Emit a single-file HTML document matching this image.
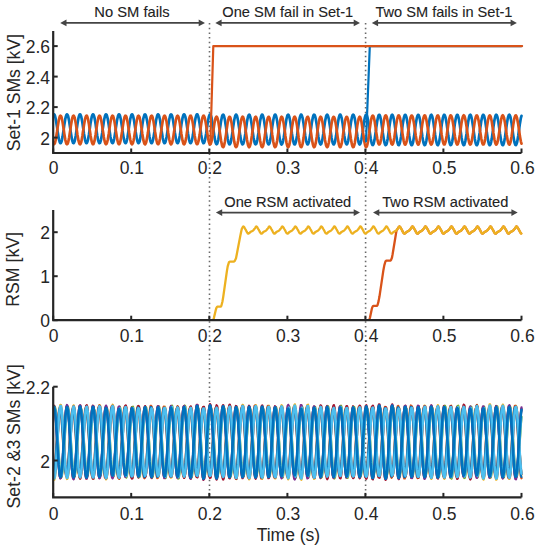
<!DOCTYPE html><html><head><meta charset="utf-8"><style>html,body{margin:0;padding:0;background:#fff;overflow:hidden}svg{display:block}</style></head><body><svg width="540" height="550" viewBox="0 0 540 550">
<rect width="540" height="550" fill="#fff"/>
<defs><clipPath id="ct"><rect x="53" y="28" width="472" height="126"/></clipPath><clipPath id="cm"><rect x="53" y="205" width="472" height="116"/></clipPath><clipPath id="cb"><rect x="53" y="384" width="472" height="114"/></clipPath></defs>
<line x1="209.5" y1="23.1" x2="209.5" y2="498" stroke="#6a6a6a" stroke-width="1.6" stroke-dasharray="1.5 3.16"/>
<line x1="365.6" y1="23.1" x2="365.6" y2="498" stroke="#6a6a6a" stroke-width="1.6" stroke-dasharray="1.5 3.16"/>
<g fill="none" stroke-linejoin="round" stroke-linecap="round" clip-path="url(#ct)">
<path d="M53.2 115.3L53.8 114.4L54.3 114.4L54.9 115.5L55.4 117.5L56 120.3L56.5 123.7L57.1 127.4L57.6 131.3L58.2 134.9L58.7 138.1L59.3 140.7L59.8 142.4L60.4 143.2L60.9 143L61.5 141.7L62 139.6L62.6 136.6L63.1 133.2L63.7 129.4L64.2 125.6L64.8 122L65.3 118.9L65.9 116.4L66.4 114.9L67 114.3L67.5 114.7L68.1 116.1L68.6 118.4L69.2 121.5L69.7 125L70.3 128.8L70.8 132.6L71.4 136.1L71.9 139.2L72.5 141.4L73 142.8L73.6 143.2L74.1 142.6L74.7 141L75.2 138.6L75.8 135.4L76.3 131.8L76.9 128L77.4 124.2L78 120.8L78.5 117.9L79.1 115.7L79.6 114.5L80.2 114.3L80.7 115.1L81.3 116.9L81.8 119.4L82.4 122.7L82.9 126.4L83.5 130.2L84 133.9L84.6 137.3L85.1 140.1L85.7 142.1L86.2 143.1L86.8 143.1L87.3 142.2L87.9 140.2L88.4 137.5L89 134.2L89.5 130.5L90.1 126.6L90.6 122.9L91.2 119.7L91.7 117L92.3 115.2L92.8 114.3L93.4 114.5L93.9 115.6L94.5 117.7L95 120.6L95.6 124L96.1 127.7L96.7 131.6L97.2 135.2L97.8 138.4L98.3 140.9L98.9 142.5L99.4 143.2L100 142.9L100.5 141.6L101.1 139.3L101.6 136.4L102.2 132.9L102.7 129.1L103.3 125.3L103.8 121.7L104.4 118.6L104.9 116.3L105.5 114.8L106 114.3L106.6 114.8L107.1 116.3L107.7 118.7L108.2 121.7L108.8 125.3L109.3 129.1L109.9 132.9L110.4 136.4L111 139.4L111.5 141.6L112.1 142.9L112.6 143.2L113.2 142.5L113.7 140.9L114.3 138.3L114.8 135.2L115.4 131.5L115.9 127.7L116.5 123.9L117 120.5L117.6 117.7L118.1 115.6L118.7 114.5L119.2 114.3L119.8 115.2L120.3 117L120.9 119.7L121.4 123L122 126.7L122.5 130.5L123.1 134.2L123.6 137.6L124.2 140.3L124.7 142.2L125.3 143.1L125.8 143.1L126.4 142L126.9 140L127.5 137.3L128 133.9L128.6 130.1L129.1 126.3L129.7 122.6L130.2 119.4L130.8 116.8L131.3 115.1L131.9 114.3L132.4 114.5L133 115.8L133.5 117.9L134.1 120.8L134.6 124.3L135.2 128.1L135.7 131.9L136.3 135.5L136.8 138.6L137.4 141.1L137.9 142.6L138.5 143.2L139 142.8L139.6 141.4L140.1 139.1L140.7 136.1L141.2 132.6L141.8 128.8L142.3 125L142.9 121.4L143.4 118.4L144 116.1L144.5 114.7L145.1 114.3L145.6 114.9L146.2 116.4L146.7 118.9L147.3 122L147.9 125.6L148.4 129.4L149 133.2L149.5 136.7L150.1 139.6L150.6 141.7L151.2 143L151.7 143.2L152.3 142.4L152.8 140.7L153.4 138.1L153.9 134.9L154.5 131.2L155 127.4L155.6 123.6L156.1 120.3L156.7 117.5L157.2 115.5L157.8 114.4L158.3 114.4L158.9 115.3L159.4 117.2L160 119.9L160.5 123.3L161.1 127L161.6 130.8L162.2 134.5L162.7 137.8L163.3 140.5L163.8 142.3L164.4 143.2L164.9 143L165.5 141.9L166 139.8L166.6 137L167.1 133.6L167.7 129.8L168.2 126L168.8 122.4L169.3 119.2L169.9 116.7L170.4 115L171 114.3L171.5 114.6L172.1 115.9L172.6 118.1L173.2 121.1L173.7 124.6L174.3 128.4L174.8 132.2L175.4 135.8L175.9 138.9L176.5 141.2L177 142.7L177.6 143.2L178.1 142.7L178.7 141.3L179.2 138.9L179.8 135.8L180.3 132.3L180.9 128.4L181.4 124.6L182 121.1L182.5 118.2L183.1 115.9L183.6 114.6L184.2 114.3L184.7 115L185.3 116.6L185.8 119.1L186.4 122.3L186.9 125.9L187.5 129.8L188 133.5L188.6 137L189.1 139.8L189.7 141.9L190.2 143L190.8 143.2L191.3 142.3L191.9 140.5L192.4 137.9L193 134.6L193.5 130.9L194.1 127.1L194.6 123.3L195.2 120L195.7 117.3L196.3 115.4L196.8 114.4L197.4 114.4L197.9 115.5L198.5 117.4L199 120.2L199.6 123.6L200.1 127.3L200.7 131.1L201.2 134.8L201.8 138.1L202.3 140.6L202.9 142.4L203.4 143.2L204 143L204.5 141.8L205.1 139.6L205.6 136.7L206.2 133.3L206.7 129.5L207.3 125.7L207.8 122.1L208.4 118.9L208.9 116.5L209.5 114.9L210 114.3L210.6 114.7L211.1 116.1L211.7 118.4L212.2 121.5L212.8 125.1L213.3 129L213.9 132.9L214.4 136.6L215 139.8L215.5 142.2L216.1 143.8L216.6 144.3L217.2 143.8L217.7 142.2L218.3 139.7L218.8 136.5L219.4 132.8L219.9 128.9L220.5 125L221 121.4L221.6 118.4L222.1 116.1L222.7 114.9L223.2 114.6L223.8 115.4L224.3 117.2L224.9 119.8L225.4 123.2L226 126.9L226.5 130.9L227.1 134.8L227.6 138.2L228.2 141.1L228.7 143.2L229.3 144.3L229.8 144.4L230.4 143.4L230.9 141.4L231.5 138.6L232 135.2L232.6 131.4L233.1 127.4L233.7 123.6L234.2 120.2L234.8 117.5L235.3 115.6L235.9 114.6L236.4 114.8L237 115.9L237.5 118L238.1 121L238.6 124.5L239.2 128.4L239.7 132.3L240.3 136.1L240.9 139.4L241.4 142L242 143.7L242.5 144.4L243.1 144.1L243.6 142.8L244.2 140.5L244.7 137.5L245.3 133.9L245.8 130L246.4 126L246.9 122.3L247.5 119.1L248 116.7L248.6 115.1L249.1 114.6L249.7 115.1L250.2 116.6L250.8 119L251.3 122.2L251.9 125.9L252.4 129.8L253 133.7L253.5 137.3L254.1 140.4L254.6 142.7L255.2 144.1L255.7 144.4L256.3 143.8L256.8 142.1L257.4 139.5L257.9 136.2L258.5 132.5L259 128.5L259.6 124.6L260.1 121.1L260.7 118.2L261.2 116L261.8 114.8L262.3 114.6L262.9 115.5L263.4 117.4L264 120.1L264.5 123.5L265.1 127.3L265.6 131.2L266.2 135.1L266.7 138.5L267.3 141.3L267.8 143.3L268.4 144.3L268.9 144.3L269.5 143.3L270 141.2L270.6 138.4L271.1 134.9L271.7 131.1L272.2 127.1L272.8 123.3L273.3 120L273.9 117.3L274.4 115.5L275 114.6L275.5 114.8L276.1 116.1L276.6 118.3L277.2 121.2L277.7 124.8L278.3 128.7L278.8 132.6L279.4 136.4L279.9 139.6L280.5 142.2L281 143.8L281.6 144.5L282.1 144.1L282.7 142.6L283.2 140.3L283.8 137.2L284.3 133.6L284.9 129.6L285.4 125.7L286 122L286.5 118.9L287.1 116.5L287.6 115L288.2 114.6L288.7 115.2L289.3 116.8L289.8 119.3L290.4 122.5L290.9 126.2L291.5 130.1L292 134L292.6 137.6L293.1 140.6L293.7 142.9L294.2 144.2L294.8 144.4L295.3 143.7L295.9 141.9L296.4 139.2L297 135.9L297.5 132.2L298.1 128.2L298.6 124.3L299.2 120.8L299.7 117.9L300.3 115.9L300.8 114.7L301.4 114.7L301.9 115.6L302.5 117.6L303 120.3L303.6 123.8L304.1 127.6L304.7 131.5L305.2 135.4L305.8 138.8L306.3 141.5L306.9 143.4L307.4 144.4L308 144.3L308.5 143.1L309.1 141L309.6 138.1L310.2 134.6L310.7 130.7L311.3 126.8L311.8 123L312.4 119.7L312.9 117.1L313.5 115.3L314 114.6L314.6 114.9L315.1 116.2L315.7 118.5L316.2 121.5L316.8 125.1L317.3 129L317.9 133L318.4 136.7L319 139.9L319.5 142.3L320.1 143.9L320.6 144.5L321.2 144L321.7 142.5L322.3 140.1L322.8 136.9L323.4 133.2L323.9 129.3L324.5 125.4L325 121.8L325.6 118.7L326.1 116.4L326.7 115L327.2 114.6L327.8 115.3L328.3 116.9L328.9 119.5L329.4 122.8L330 126.5L330.5 130.5L331.1 134.3L331.6 137.9L332.2 140.8L332.7 143L333.3 144.2L333.8 144.4L334.4 143.5L335 141.7L335.5 139L336.1 135.6L336.6 131.8L337.2 127.9L337.7 124L338.3 120.6L338.8 117.7L339.4 115.7L339.9 114.7L340.5 114.7L341 115.8L341.6 117.8L342.1 120.6L342.7 124.1L343.2 127.9L343.8 131.9L344.3 135.7L344.9 139L345.4 141.7L346 143.6L346.5 144.4L347.1 144.2L347.6 143L348.2 140.8L348.7 137.8L349.3 134.3L349.8 130.4L350.4 126.5L350.9 122.7L351.5 119.5L352 116.9L352.6 115.2L353.1 114.6L353.7 115L354.2 116.4L354.8 118.7L355.3 121.8L355.9 125.4L356.4 129.3L357 133.3L357.5 136.9L358.1 140.1L358.6 142.5L359.2 144L359.7 144.5L360.3 143.9L360.8 142.3L361.4 139.8L361.9 136.6L362.5 132.9L363 129L363.6 125.1L364.1 121.5L364.7 118.4L365.2 116.2L365.8 114.9L366.3 114.6L366.9 115.4L367.4 117.1L368 119.8L368.5 123.1L369.1 127L369.6 131L370.2 134.9L370.7 138.5L371.3 141.5L371.8 143.7L372.4 144.9L372.9 145.1L373.5 144.1L374 142.2L374.6 139.4L375.1 135.9L375.7 132L376.2 128L376.8 124.1L377.3 120.6L377.9 117.8L378.4 115.8L379 114.8L379.5 114.9L380.1 116.1L380.6 118.2L381.2 121.2L381.7 124.7L382.3 128.7L382.8 132.7L383.4 136.6L383.9 139.9L384.5 142.6L385 144.4L385.6 145.2L386.1 144.9L386.7 143.6L387.2 141.3L387.8 138.2L388.3 134.5L388.9 130.5L389.4 126.5L390 122.7L390.5 119.5L391.1 116.9L391.6 115.3L392.2 114.7L392.7 115.2L393.3 116.7L393.8 119.2L394.4 122.4L394.9 126.1L395.5 130.1L396 134.1L396.6 137.8L397.1 141L397.7 143.4L398.2 144.8L398.8 145.2L399.3 144.5L399.9 142.8L400.4 140.2L401 136.9L401.5 133.1L402.1 129.1L402.6 125.1L403.2 121.5L403.7 118.5L404.3 116.2L404.8 115L405.4 114.8L405.9 115.6L406.5 117.5L407 120.3L407.6 123.7L408.1 127.6L408.7 131.6L409.2 135.5L409.8 139.1L410.3 142L410.9 144L411.4 145.1L412 145.1L412.5 144L413.1 142L413.6 139.1L414.2 135.6L414.7 131.7L415.3 127.6L415.8 123.7L416.4 120.3L416.9 117.6L417.5 115.7L418 114.8L418.6 115L419.1 116.2L419.7 118.4L420.2 121.4L420.8 125L421.3 129L421.9 133L422.4 136.9L423 140.2L423.5 142.8L424.1 144.5L424.6 145.2L425.2 144.8L425.7 143.4L426.3 141L426.8 137.9L427.4 134.2L428 130.2L428.5 126.2L429.1 122.4L429.6 119.2L430.2 116.8L430.7 115.2L431.3 114.7L431.8 115.3L432.4 116.9L432.9 119.4L433.5 122.7L434 126.5L434.6 130.5L435.1 134.5L435.7 138.1L436.2 141.2L436.8 143.5L437.3 144.9L437.9 145.2L438.4 144.4L439 142.7L439.5 140L440.1 136.6L440.6 132.8L441.2 128.7L441.7 124.8L442.3 121.2L442.8 118.2L443.4 116.1L443.9 114.9L444.5 114.8L445 115.8L445.6 117.7L446.1 120.5L446.7 124L447.2 127.9L447.8 131.9L448.3 135.8L448.9 139.3L449.4 142.2L450 144.1L450.5 145.1L451.1 145L451.6 143.9L452.2 141.8L452.7 138.8L453.3 135.3L453.8 131.3L454.4 127.3L454.9 123.4L455.5 120.1L456 117.4L456.6 115.6L457.1 114.8L457.7 115L458.2 116.4L458.8 118.6L459.3 121.7L459.9 125.4L460.4 129.4L461 133.4L461.5 137.2L462.1 140.4L462.6 143L463.2 144.6L463.7 145.2L464.3 144.8L464.8 143.2L465.4 140.8L465.9 137.6L466.5 133.9L467 129.9L467.6 125.9L468.1 122.2L468.7 119L469.2 116.6L469.8 115.1L470.3 114.7L470.9 115.4L471.4 117.1L472 119.7L472.5 123L473.1 126.8L473.6 130.8L474.2 134.8L474.7 138.4L475.3 141.5L475.8 143.7L476.4 145L476.9 145.2L477.5 144.3L478 142.5L478.6 139.7L479.1 136.3L479.7 132.4L480.2 128.4L480.8 124.5L481.3 120.9L481.9 118L482.4 116L483 114.9L483.5 114.8L484.1 115.9L484.6 117.9L485.2 120.8L485.7 124.3L486.3 128.2L486.8 132.3L487.4 136.1L487.9 139.6L488.5 142.4L489 144.3L489.6 145.2L490.1 145L490.7 143.8L491.2 141.6L491.8 138.6L492.3 135L492.9 131L493.4 127L494 123.1L494.5 119.8L495.1 117.2L495.6 115.4L496.2 114.7L496.7 115.1L497.3 116.5L497.8 118.9L498.4 122L498.9 125.7L499.5 129.7L500 133.7L500.6 137.5L501.1 140.7L501.7 143.2L502.2 144.7L502.8 145.2L503.3 144.7L503.9 143.1L504.4 140.6L505 137.3L505.5 133.5L506.1 129.5L506.6 125.5L507.2 121.9L507.7 118.8L508.3 116.4L508.8 115.1L509.4 114.7L509.9 115.5L510.5 117.3L511 119.9L511.6 123.3L512.1 127.1L512.7 131.2L513.2 135.1L513.8 138.7L514.3 141.7L514.9 143.8L515.4 145L516 145.1L516.5 144.2L517.1 142.3L517.6 139.5L518.2 136L518.7 132.1L519.3 128.1L519.8 124.2L520.4 120.7L520.9 117.8L521.5 115.8" stroke="#0072BD" stroke-width="2.7"/>
<path d="M53.2 143.3L53.8 144.2L54.3 144.2L54.9 143.1L55.4 141.1L56 138.4L56.5 135L57.1 131.3L57.6 127.5L58.2 123.9L58.7 120.7L59.3 118.1L59.8 116.4L60.4 115.7L60.9 115.9L61.5 117.1L62 119.3L62.6 122.2L63.1 125.6L63.7 129.3L64.2 133.1L64.8 136.7L65.3 139.8L65.9 142.2L66.4 143.7L67 144.3L67.5 143.9L68.1 142.5L68.6 140.2L69.2 137.2L69.7 133.7L70.3 129.9L70.8 126.2L71.4 122.7L71.9 119.7L72.5 117.4L73 116L73.6 115.6L74.1 116.3L74.7 117.8L75.2 120.2L75.8 123.4L76.3 126.9L76.9 130.7L77.4 134.4L78 137.9L78.5 140.7L79.1 142.8L79.6 144.1L80.2 144.3L80.7 143.5L81.3 141.7L81.8 139.2L82.4 136L82.9 132.3L83.5 128.6L84 124.9L84.6 121.5L85.1 118.8L85.7 116.8L86.2 115.8L86.8 115.7L87.3 116.7L87.9 118.6L88.4 121.3L89 124.6L89.5 128.3L90.1 132.1L90.6 135.7L91.2 139L91.7 141.6L92.3 143.4L92.8 144.2L93.4 144.1L93.9 143L94.5 140.9L95 138.1L95.6 134.7L96.1 131L96.7 127.2L97.2 123.6L97.8 120.4L98.3 118L98.9 116.3L99.4 115.7L100 116L100.5 117.3L101.1 119.5L101.6 122.4L102.2 125.9L102.7 129.7L103.3 133.4L103.8 137L104.4 140L104.9 142.3L105.5 143.8L106 144.3L106.6 143.8L107.1 142.3L107.7 140L108.2 136.9L108.8 133.4L109.3 129.6L109.9 125.9L110.4 122.4L111 119.5L111.5 117.3L112.1 116L112.6 115.7L113.2 116.3L113.7 118L114.3 120.5L114.8 123.6L115.4 127.2L115.9 131L116.5 134.7L117 138.1L117.6 140.9L118.1 143L118.7 144.1L119.2 144.2L119.8 143.4L120.3 141.6L120.9 138.9L121.4 135.7L122 132L122.5 128.2L123.1 124.6L123.6 121.3L124.2 118.6L124.7 116.7L125.3 115.7L125.8 115.8L126.4 116.8L126.9 118.8L127.5 121.6L128 124.9L128.6 128.6L129.1 132.4L129.7 136L130.2 139.2L130.8 141.8L131.3 143.5L131.9 144.3L132.4 144L133 142.8L133.5 140.7L134.1 137.8L134.6 134.4L135.2 130.7L135.7 126.9L136.3 123.3L136.8 120.2L137.4 117.8L137.9 116.2L138.5 115.6L139 116.1L139.6 117.4L140.1 119.7L140.7 122.7L141.2 126.2L141.8 130L142.3 133.7L142.9 137.2L143.4 140.2L144 142.5L144.5 143.9L145.1 144.3L145.6 143.7L146.2 142.2L146.7 139.7L147.3 136.6L147.9 133.1L148.4 129.3L149 125.6L149.5 122.1L150.1 119.3L150.6 117.1L151.2 115.9L151.7 115.7L152.3 116.4L152.8 118.2L153.4 120.7L153.9 123.9L154.5 127.5L155 131.3L155.6 135L156.1 138.4L156.7 141.1L157.2 143.1L157.8 144.2L158.3 144.2L158.9 143.3L159.4 141.4L160 138.7L160.5 135.4L161.1 131.7L161.6 127.9L162.2 124.3L162.7 121L163.3 118.4L163.8 116.6L164.4 115.7L164.9 115.8L165.5 117L166 119L166.6 121.8L167.1 125.2L167.7 128.9L168.2 132.7L168.8 136.3L169.3 139.5L169.9 142L170.4 143.6L171 144.3L171.5 144L172.1 142.7L172.6 140.5L173.2 137.6L173.7 134.1L174.3 130.3L174.8 126.6L175.4 123L175.9 120L176.5 117.6L177 116.2L177.6 115.6L178.1 116.1L178.7 117.6L179.2 119.9L179.8 123L180.3 126.5L180.9 130.3L181.4 134L182 137.5L182.5 140.4L183.1 142.7L183.6 144L184.2 144.3L184.7 143.6L185.3 142L185.8 139.5L186.4 136.4L186.9 132.8L187.5 129L188 125.3L188.6 121.9L189.1 119L189.7 117L190.2 115.9L190.8 115.7L191.3 116.6L191.9 118.4L192.4 121L193 124.2L193.5 127.9L194.1 131.7L194.6 135.3L195.2 138.6L195.7 141.3L196.3 143.2L196.8 144.2L197.4 144.2L197.9 143.1L198.5 141.2L199 138.4L199.6 135.1L200.1 131.4L200.7 127.6L201.2 124L201.8 120.8L202.3 118.2L202.9 116.5L203.4 115.7L204 115.9L204.5 117.1L205.1 119.2L205.6 122.1L206.2 125.5L206.7 129.2L207.3 133L207.8 136.6L208.4 139.7L208.9 142.1L209.5 143.7L210 144.4L210.6 144.1L211.1 142.8L211.7 140.7L212.2 137.9L212.8 134.5L213.3 130.8L213.9 127.1L214.4 123.6L215 120.6L215.5 118.4L216.1 117L216.6 116.6L217.2 117.3L217.7 118.9L218.3 121.5L218.8 124.8L219.4 128.6L219.9 132.6L220.5 136.6L221 140.3L221.6 143.3L222.1 145.6L222.7 146.9L223.2 147.2L223.8 146.4L224.3 144.5L224.9 141.8L225.4 138.4L226 134.6L226.5 130.6L227.1 126.6L227.6 123.1L228.2 120.1L228.7 118L229.3 116.9L229.8 116.8L230.4 117.8L230.9 119.8L231.5 122.6L232 126.1L232.6 130L233.1 134.1L233.7 138L234.2 141.4L234.8 144.2L235.3 146.2L235.9 147.1L236.4 147L237 145.8L237.5 143.7L238.1 140.7L238.6 137.1L239.2 133.1L239.7 129.1L240.3 125.3L240.9 121.9L241.4 119.2L242 117.5L242.5 116.7L243.1 117L243.6 118.4L244.2 120.7L244.7 123.8L245.3 127.5L245.8 131.5L246.4 135.5L246.9 139.3L247.5 142.5L248 145.1L248.6 146.6L249.1 147.2L249.7 146.7L250.2 145.1L250.8 142.7L251.3 139.4L251.9 135.7L252.4 131.7L253 127.7L253.5 124L254.1 120.9L254.6 118.5L255.2 117.1L255.7 116.7L256.3 117.4L256.8 119.1L257.4 121.8L257.9 125.1L258.5 128.9L259 133L259.6 136.9L260.1 140.5L260.7 143.5L261.2 145.7L261.8 147L262.3 147.1L262.9 146.3L263.4 144.4L264 141.6L264.5 138.1L265.1 134.3L265.6 130.2L266.2 126.3L266.7 122.8L267.3 119.9L267.8 117.9L268.4 116.8L268.9 116.9L269.5 117.9L270 120L270.6 122.9L271.1 126.5L271.7 130.4L272.2 134.4L272.8 138.3L273.3 141.7L273.9 144.4L274.4 146.3L275 147.2L275.5 146.9L276.1 145.7L276.6 143.4L277.2 140.4L277.7 136.8L278.3 132.8L278.8 128.8L279.4 125L279.9 121.7L280.5 119.1L281 117.4L281.6 116.7L282.1 117.1L282.7 118.6L283.2 121L283.8 124.1L284.3 127.8L284.9 131.8L285.4 135.9L286 139.6L286.5 142.8L287.1 145.2L287.6 146.7L288.2 147.2L288.7 146.6L289.3 145L289.8 142.4L290.4 139.2L290.9 135.4L291.5 131.3L292 127.4L292.6 123.7L293.1 120.6L293.7 118.3L294.2 117L294.8 116.7L295.3 117.5L295.9 119.3L296.4 122L297 125.4L297.5 129.3L298.1 133.3L298.6 137.2L299.2 140.8L299.7 143.8L300.3 145.9L300.8 147L301.4 147.1L301.9 146.1L302.5 144.2L303 141.3L303.6 137.8L304.1 133.9L304.7 129.9L305.2 126L305.8 122.5L306.3 119.7L306.9 117.7L307.4 116.8L308 116.9L308.5 118.1L309.1 120.2L309.6 123.2L310.2 126.8L310.7 130.7L311.3 134.8L311.8 138.6L312.4 142L312.9 144.6L313.5 146.4L314 147.2L314.6 146.9L315.1 145.5L315.7 143.2L316.2 140.1L316.8 136.5L317.3 132.5L317.9 128.4L318.4 124.7L319 121.4L319.5 118.9L320.1 117.3L320.6 116.7L321.2 117.2L321.7 118.7L322.3 121.2L322.8 124.4L323.4 128.2L323.9 132.2L324.5 136.2L325 139.9L325.6 143L326.1 145.4L326.7 146.8L327.2 147.2L327.8 146.5L328.3 144.8L328.9 142.2L329.4 138.9L330 135L330.5 131L331.1 127L331.6 123.4L332.2 120.4L332.7 118.2L333.3 117L333.8 116.8L334.4 117.6L335 119.5L335.5 122.3L336.1 125.7L336.6 129.6L337.2 133.6L337.7 137.6L338.3 141.1L338.8 144L339.4 146L339.9 147.1L340.5 147.1L341 146L341.6 143.9L342.1 141.1L342.7 137.5L343.2 133.6L343.8 129.6L344.3 125.7L344.9 122.2L345.4 119.5L346 117.6L346.5 116.8L347.1 117L347.6 118.2L348.2 120.4L348.7 123.5L349.3 127.1L349.8 131.1L350.4 135.1L350.9 138.9L351.5 142.2L352 144.8L352.6 146.5L353.1 147.2L353.7 146.8L354.2 145.4L354.8 143L355.3 139.8L355.9 136.1L356.4 132.1L357 128.1L357.5 124.4L358.1 121.2L358.6 118.7L359.2 117.2L359.7 116.7L360.3 117.3L360.8 118.9L361.4 121.4L361.9 124.7L362.5 128.5L363 132.5L363.6 136.5L364.1 140.2L364.7 143.3L365.2 145.5L365.8 146.9L366.3 147.1L366.9 146.2L367.4 144.3L368 141.5L368.5 138L369.1 134L369.6 129.8L370.2 125.8L370.7 122.2L371.3 119.1L371.8 117L372.4 115.7L372.9 115.6L373.5 116.4L374 118.3L374.6 120.9L375.1 124.3L375.7 128L376.2 131.9L376.8 135.7L377.3 139L377.9 141.7L378.4 143.6L379 144.5L379.5 144.4L380.1 143.3L380.6 141.3L381.2 138.4L381.7 135L382.3 131.2L382.8 127.3L383.4 123.7L383.9 120.4L384.5 117.8L385 116.1L385.6 115.4L386.1 115.6L386.7 116.9L387.2 119.1L387.8 122.1L388.3 125.6L388.9 129.4L389.4 133.3L390 136.9L390.5 140.1L391.1 142.5L391.6 144L392.2 144.6L392.7 144.2L393.3 142.7L393.8 140.3L394.4 137.3L394.9 133.7L395.5 129.8L396 126L396.6 122.4L397.1 119.4L397.7 117.1L398.2 115.7L398.8 115.3L399.3 116L399.9 117.6L400.4 120.1L401 123.3L401.5 127L402.1 130.8L402.6 134.6L403.2 138.1L403.7 141L404.3 143.2L404.8 144.4L405.4 144.6L405.9 143.7L406.5 141.9L407 139.3L407.6 136L408.1 132.3L408.7 128.4L409.2 124.6L409.8 121.3L410.3 118.5L410.9 116.5L411.4 115.5L412 115.5L412.5 116.5L413.1 118.4L413.6 121.2L414.2 124.6L414.7 128.4L415.3 132.2L415.8 136L416.4 139.3L416.9 141.9L417.5 143.7L418 144.6L418.6 144.4L419.1 143.2L419.7 141.1L420.2 138.2L420.8 134.7L421.3 130.9L421.9 127L422.4 123.4L423 120.2L423.5 117.7L424.1 116L424.6 115.3L425.2 115.7L425.7 117.1L426.3 119.3L426.8 122.4L427.4 125.9L428 129.8L428.5 133.6L429.1 137.2L429.6 140.3L430.2 142.7L430.7 144.1L431.3 144.6L431.8 144.1L432.4 142.5L432.9 140.1L433.5 137L434 133.4L434.6 129.5L435.1 125.7L435.7 122.1L436.2 119.2L436.8 117L437.3 115.7L437.9 115.4L438.4 116.1L439 117.8L439.5 120.4L440.1 123.6L440.6 127.3L441.2 131.2L441.7 134.9L442.3 138.4L442.8 141.2L443.4 143.3L443.9 144.4L444.5 144.5L445 143.6L445.6 141.7L446.1 139L446.7 135.7L447.2 132L447.8 128.1L448.3 124.3L448.9 121L449.4 118.3L450 116.4L450.5 115.4L451.1 115.5L451.6 116.6L452.2 118.6L452.7 121.5L453.3 124.9L453.8 128.7L454.4 132.6L454.9 136.2L455.5 139.5L456 142.1L456.6 143.8L457.1 144.6L457.7 144.3L458.2 143L458.8 140.9L459.3 137.9L459.9 134.4L460.4 130.6L461 126.7L461.5 123.1L462.1 119.9L462.6 117.5L463.2 115.9L463.7 115.3L464.3 115.8L464.8 117.2L465.4 119.6L465.9 122.6L466.5 126.2L467 130.1L467.6 133.9L468.1 137.5L468.7 140.5L469.2 142.8L469.8 144.2L470.3 144.6L470.9 144L471.4 142.4L472 139.9L472.5 136.7L473.1 133L473.6 129.2L474.2 125.4L474.7 121.9L475.3 119L475.8 116.8L476.4 115.6L476.9 115.4L477.5 116.2L478 118L478.6 120.6L479.1 123.9L479.7 127.6L480.2 131.5L480.8 135.3L481.3 138.7L481.9 141.4L482.4 143.4L483 144.5L483.5 144.5L484.1 143.5L484.6 141.6L485.2 138.8L485.7 135.4L486.3 131.7L486.8 127.8L487.4 124L487.9 120.7L488.5 118.1L489 116.3L489.6 115.4L490.1 115.6L490.7 116.7L491.2 118.8L491.8 121.7L492.3 125.2L492.9 129L493.4 132.9L494 136.5L494.5 139.7L495.1 142.3L495.6 143.9L496.2 144.6L496.7 144.3L497.3 142.9L497.8 140.6L498.4 137.6L498.9 134.1L499.5 130.2L500 126.4L500.6 122.8L501.1 119.7L501.7 117.3L502.2 115.8L502.8 115.3L503.3 115.9L503.9 117.4L504.4 119.8L505 122.9L505.5 126.5L506.1 130.4L506.6 134.2L507.2 137.8L507.7 140.7L508.3 143L508.8 144.3L509.4 144.6L509.9 143.9L510.5 142.2L511 139.6L511.6 136.4L512.1 132.7L512.7 128.8L513.2 125.1L513.8 121.6L514.3 118.7L514.9 116.7L515.4 115.5L516 115.4L516.5 116.3L517.1 118.2L517.6 120.9L518.2 124.2L518.7 127.9L519.3 131.8L519.8 135.6L520.4 138.9L520.9 141.6L521.5 143.6" stroke="#D95319" stroke-width="2.7"/>
<path d="M366 141.5L369.8 46.1L521.5 46.1" stroke="#0072BD" stroke-width="2.2"/>
<path d="M210.3 144.3L213.3 46.1L522.1 46.1" stroke="#D95319" stroke-width="2.2"/>
</g>
<g fill="none" stroke-linejoin="round" stroke-linecap="round" clip-path="url(#cm)">
<path d="M369.3 320.6L369.3 320.4L369.6 319L370 317.5L371.8 309L372.2 307.5L373 306.1L373.7 305.9L376.8 305.9L377.5 305.2L378.6 301.1L379.5 296.3L383.4 270.2L384.3 265.4L385.5 261.3L386.3 260.6L390.2 260.6L391 260.2L392 257.5L392.6 254.3L395.4 237.2L395.9 234.1L396.4 231.2L396.6 230.6L397.3 229.4L397.4 229.2L397.5 229L397.5 229L398.1 228.3L398.7 227.1L399.3 226.4L399.9 226.7L400.5 227.5L401.1 228.5L401.7 229.5L402.3 230.7L402.9 231.9L403.5 232.9L404.1 233.5L404.7 233.5L405.3 233.1L405.9 232.6L406.5 232L407.1 231.7L407.7 231.4L408.3 231L408.9 230.7L409.5 230.2L410.1 229.5L410.7 228.8L411.3 228L411.9 226.8L412.5 226.4L413.1 226.9L413.7 227.8L414.3 228.9L414.9 229.9L415.5 231L416.1 232.2L416.7 233.2L417.3 233.6L417.9 233.5L418.5 233L419.1 232.4L419.7 231.9L420.3 231.6L420.9 231.3L421.5 230.9L422.1 230.5L422.7 229.9L423.3 229.2L423.9 228.5L424.5 227.6L425.1 226.5L425.7 226.5L426.3 227.2L426.9 228.1L427.5 229.2L428.1 230.2L428.7 231.4L429.3 232.6L429.9 233.4L430.5 233.6L431.1 233.3L431.7 232.8L432.3 232.2L432.9 231.8L433.5 231.5L434.1 231.2L434.7 230.8L435.3 230.4L435.9 229.7L436.5 229L437.1 228.3L437.7 227.2L438.3 226.4L438.9 226.7L439.5 227.5L440.1 228.5L440.7 229.5L441.3 230.6L441.9 231.8L442.5 232.9L443.1 233.5L443.7 233.6L444.3 233.2L444.9 232.6L445.5 232.1L446.1 231.7L446.7 231.4L447.3 231.1L447.9 230.7L448.5 230.2L449.1 229.5L449.7 228.8L450.3 228L450.9 226.8L451.5 226.4L452.1 226.9L452.7 227.8L453.3 228.8L453.9 229.8L454.5 231L455.1 232.2L455.7 233.1L456.3 233.6L456.9 233.5L457.5 233L458.1 232.4L458.7 231.9L459.3 231.6L459.9 231.3L460.5 230.9L461.1 230.6L461.7 230L462.3 229.3L462.9 228.6L463.5 227.6L464.1 226.6L464.7 226.5L465.3 227.1L465.9 228.1L466.5 229.1L467.1 230.2L467.7 231.4L468.3 232.5L468.9 233.3L469.5 233.6L470.1 233.3L470.7 232.8L471.3 232.2L471.9 231.8L472.5 231.5L473.1 231.2L473.7 230.8L474.3 230.4L474.9 229.7L475.5 229L476.1 228.4L476.7 227.2L477.3 226.4L477.9 226.7L478.5 227.4L479.1 228.4L479.7 229.4L480.3 230.6L480.9 231.8L481.5 232.8L482.1 233.5L482.7 233.6L483.3 233.2L483.9 232.6L484.5 232.1L485.1 231.7L485.7 231.4L486.3 231.1L486.9 230.7L487.5 230.2L488.1 229.5L488.7 228.8L489.3 228.1L489.9 226.9L490.5 226.4L491.1 226.9L491.7 227.7L492.3 228.8L492.9 229.8L493.5 230.9L494.1 232.1L494.7 233.1L495.3 233.6L495.9 233.5L496.5 233L497.1 232.4L497.7 232L498.3 231.6L498.9 231.3L499.5 231L500.1 230.6L500.7 230L501.3 229.3L501.9 228.6L502.5 227.7L503.1 226.6L503.7 226.5L504.3 227.1L504.9 228.1L505.5 229.1L506.1 230.1L506.7 231.3L507.3 232.5L507.9 233.3L508.5 233.6L509.1 233.4L509.7 232.8L510.3 232.2L510.9 231.8L511.5 231.5L512.1 231.2L512.7 230.8L513.3 230.4L513.9 229.8L514.5 229.1L515.1 228.4L515.7 227.3L516.3 226.4L516.9 226.6L517.5 227.4L518.1 228.4L518.7 229.4L519.3 230.5L519.9 231.7L520.5 232.8L521.1 233.5" stroke="#D95319" stroke-width="2.3"/>
<path d="M213.3 320.6L213.3 320.4L213.6 319.1L214 317.6L215.9 309.6L216.3 308.1L217.1 306.8L217.7 306.6L220.7 306.6L221.3 306L222.4 301.8L223.2 297.1L226.9 271.1L227.7 266.4L229 262.2L229.8 261.6L233.9 261.6L234.7 261.1L236 258.2L236.7 254.7L240.3 235.9L241 232.4L241.7 229.2L242 228.5L242.9 226.9L243.1 226.7L243.3 226.4L243.3 226.4L243.8 226.7L244.3 227.3L244.8 228.2L245.3 229.1L245.8 229.9L246.3 230.9L246.8 231.9L247.3 232.8L247.8 233.4L248.3 233.6L248.8 233.4L249.3 233L249.8 232.6L250.3 232.1L250.8 231.8L251.3 231.5L251.8 231.3L252.3 231L252.8 230.7L253.3 230.3L253.8 229.7L254.3 229.1L254.8 228.5L255.3 227.8L255.8 226.8L256.3 226.4L256.8 226.7L257.3 227.3L257.8 228.2L258.3 229.1L258.8 229.9L259.3 230.8L259.8 231.9L260.3 232.7L260.8 233.4L261.3 233.6L261.8 233.5L262.3 233.1L262.8 232.6L263.3 232.1L263.8 231.8L264.3 231.5L264.8 231.3L265.3 231L265.8 230.7L266.3 230.3L266.8 229.7L267.3 229.1L267.8 228.5L268.3 227.8L268.8 226.8L269.3 226.4L269.8 226.7L270.3 227.3L270.8 228.1L271.3 229L271.8 229.8L272.3 230.8L272.8 231.8L273.3 232.7L273.8 233.4L274.3 233.6L274.8 233.5L275.3 233.1L275.8 232.6L276.3 232.1L276.8 231.8L277.3 231.5L277.8 231.3L278.3 231L278.8 230.7L279.3 230.3L279.8 229.7L280.3 229.1L280.8 228.5L281.3 227.8L281.8 226.8L282.3 226.4L282.8 226.7L283.3 227.3L283.8 228.1L284.3 229L284.8 229.8L285.3 230.8L285.8 231.8L286.3 232.7L286.8 233.3L287.3 233.6L287.8 233.5L288.3 233.1L288.8 232.6L289.3 232.1L289.8 231.8L290.3 231.6L290.8 231.3L291.3 231L291.8 230.7L292.3 230.3L292.8 229.7L293.3 229.1L293.8 228.6L294.3 227.8L294.8 226.8L295.3 226.4L295.8 226.7L296.3 227.3L296.8 228.1L297.3 229L297.8 229.8L298.3 230.8L298.8 231.8L299.3 232.7L299.8 233.3L300.3 233.6L300.8 233.5L301.3 233.1L301.8 232.6L302.3 232.1L302.8 231.8L303.3 231.6L303.8 231.3L304.3 231L304.8 230.7L305.3 230.3L305.8 229.7L306.3 229.1L306.8 228.6L307.3 227.8L307.8 226.9L308.3 226.4L308.8 226.7L309.3 227.3L309.8 228.1L310.3 229L310.8 229.8L311.3 230.8L311.8 231.8L312.3 232.7L312.8 233.3L313.3 233.6L313.8 233.5L314.3 233.1L314.8 232.6L315.3 232.1L315.8 231.8L316.3 231.6L316.8 231.3L317.3 231L317.8 230.7L318.3 230.3L318.8 229.7L319.3 229.2L319.8 228.6L320.3 227.8L320.8 226.9L321.3 226.4L321.8 226.7L322.3 227.3L322.8 228.1L323.3 229L323.8 229.8L324.3 230.8L324.8 231.8L325.3 232.7L325.8 233.3L326.3 233.6L326.8 233.5L327.3 233.1L327.8 232.6L328.3 232.1L328.8 231.8L329.3 231.6L329.8 231.3L330.3 231L330.8 230.7L331.3 230.3L331.8 229.8L332.3 229.2L332.8 228.6L333.3 227.9L333.8 226.9L334.3 226.4L334.8 226.6L335.3 227.2L335.8 228.1L336.3 229L336.8 229.8L337.3 230.7L337.8 231.8L338.3 232.7L338.8 233.3L339.3 233.6L339.8 233.5L340.3 233.1L340.8 232.6L341.3 232.1L341.8 231.8L342.3 231.6L342.8 231.3L343.3 231L343.8 230.7L344.3 230.3L344.8 229.8L345.3 229.2L345.8 228.6L346.3 227.9L346.8 226.9L347.3 226.4L347.8 226.6L348.3 227.2L348.8 228.1L349.3 229L349.8 229.8L350.3 230.7L350.8 231.7L351.3 232.6L351.8 233.3L352.3 233.6L352.8 233.5L353.3 233.1L353.8 232.6L354.3 232.2L354.8 231.8L355.3 231.6L355.8 231.3L356.3 231L356.8 230.7L357.3 230.3L357.8 229.8L358.3 229.2L358.8 228.6L359.3 227.9L359.8 226.9L360.3 226.4L360.8 226.6L361.3 227.2L361.8 228L362.3 229L362.8 229.7L363.3 230.7L363.8 231.7L364.3 232.6L364.8 233.3L365.3 233.6L365.8 233.5L366.3 233.1L366.8 232.6L367.3 232.2L367.8 231.8L368.3 231.6L368.8 231.3L369.3 231L369.8 230.7L370.3 230.3L370.8 229.8L371.3 229.2L371.8 228.6L372.3 227.9L372.8 226.9L373.3 226.4L373.8 226.6L374.3 227.2L374.8 228L375.3 228.9L375.8 229.7L376.3 230.7L376.8 231.7L377.3 232.6L377.8 233.3L378.3 233.6L378.8 233.5L379.3 233.1L379.8 232.6L380.3 232.2L380.8 231.9L381.3 231.6L381.8 231.3L382.3 231L382.8 230.7L383.3 230.3L383.8 229.8L384.3 229.2L384.8 228.6L385.3 227.9L385.8 226.9L386.3 226.4L386.8 226.6L387.3 227.2L387.8 228L388.3 228.9L388.8 229.7L389.3 230.7L389.8 231.7L390.3 232.6L390.8 233.3L391.3 233.6L391.8 233.5L392.3 233.1L392.8 232.6L393.3 232.2L393.8 231.9L394.3 231.6L394.8 231.3L395.3 231L395.8 230.7L396.3 230.4L396.8 229.8L397.3 229.2L397.8 228.6L398.3 227.9L398.8 227L399.3 226.4L399.8 226.6L400.3 227.2L400.8 228L401.3 228.9L401.8 229.7L402.3 230.7L402.8 231.7L403.3 232.6L403.8 233.3L404.3 233.6L404.8 233.5L405.3 233.1L405.8 232.7L406.3 232.2L406.8 231.9L407.3 231.6L407.8 231.3L408.3 231L408.8 230.7L409.3 230.4L409.8 229.8L410.3 229.2L410.8 228.6L411.3 228L411.8 227L412.3 226.4L412.8 226.6L413.3 227.2L413.8 228L414.3 228.9L414.8 229.7L415.3 230.6L415.8 231.7L416.3 232.6L416.8 233.3L417.3 233.6L417.8 233.5L418.3 233.1L418.8 232.7L419.3 232.2L419.8 231.9L420.3 231.6L420.8 231.3L421.3 231.1L421.8 230.7L422.3 230.4L422.8 229.8L423.3 229.2L423.8 228.6L424.3 228L424.8 227L425.3 226.4L425.8 226.6L426.3 227.2L426.8 228L427.3 228.9L427.8 229.7L428.3 230.6L428.8 231.6L429.3 232.6L429.8 233.3L430.3 233.6L430.8 233.5L431.3 233.2L431.8 232.7L432.3 232.2L432.8 231.9L433.3 231.6L433.8 231.3L434.3 231.1L434.8 230.8L435.3 230.4L435.8 229.8L436.3 229.2L436.8 228.7L437.3 228L437.8 227L438.3 226.4L438.8 226.6L439.3 227.2L439.8 228L440.3 228.9L440.8 229.7L441.3 230.6L441.8 231.6L442.3 232.6L442.8 233.2L443.3 233.6L443.8 233.5L444.3 233.2L444.8 232.7L445.3 232.2L445.8 231.9L446.3 231.6L446.8 231.3L447.3 231.1L447.8 230.8L448.3 230.4L448.8 229.8L449.3 229.3L449.8 228.7L450.3 228L450.8 227L451.3 226.4L451.8 226.6L452.3 227.1L452.8 227.9L453.3 228.8L453.8 229.6L454.3 230.6L454.8 231.6L455.3 232.5L455.8 233.2L456.3 233.6L456.8 233.5L457.3 233.2L457.8 232.7L458.3 232.2L458.8 231.9L459.3 231.6L459.8 231.3L460.3 231.1L460.8 230.8L461.3 230.4L461.8 229.9L462.3 229.3L462.8 228.7L463.3 228L463.8 227L464.3 226.4L464.8 226.6L465.3 227.1L465.8 227.9L466.3 228.8L466.8 229.6L467.3 230.6L467.8 231.6L468.3 232.5L468.8 233.2L469.3 233.6L469.8 233.5L470.3 233.2L470.8 232.7L471.3 232.2L471.8 231.9L472.3 231.6L472.8 231.3L473.3 231.1L473.8 230.8L474.3 230.4L474.8 229.9L475.3 229.3L475.8 228.7L476.3 228L476.8 227L477.3 226.4L477.8 226.6L478.3 227.1L478.8 227.9L479.3 228.8L479.8 229.6L480.3 230.6L480.8 231.6L481.3 232.5L481.8 233.2L482.3 233.6L482.8 233.5L483.3 233.2L483.8 232.7L484.3 232.2L484.8 231.9L485.3 231.6L485.8 231.4L486.3 231.1L486.8 230.8L487.3 230.4L487.8 229.9L488.3 229.3L488.8 228.7L489.3 228.1L489.8 227.1L490.3 226.4L490.8 226.6L491.3 227.1L491.8 227.9L492.3 228.8L492.8 229.6L493.3 230.5L493.8 231.6L494.3 232.5L494.8 233.2L495.3 233.6L495.8 233.5L496.3 233.2L496.8 232.7L497.3 232.2L497.8 231.9L498.3 231.6L498.8 231.4L499.3 231.1L499.8 230.8L500.3 230.4L500.8 229.9L501.3 229.3L501.8 228.7L502.3 228.1L502.8 227.1L503.3 226.4L503.8 226.6L504.3 227.1L504.8 227.9L505.3 228.8L505.8 229.6L506.3 230.5L506.8 231.5L507.3 232.5L507.8 233.2L508.3 233.6L508.8 233.5L509.3 233.2L509.8 232.7L510.3 232.2L510.8 231.9L511.3 231.6L511.8 231.4L512.3 231.1L512.8 230.8L513.3 230.4L513.8 229.9L514.3 229.3L514.8 228.7L515.3 228.1L515.8 227.1L516.3 226.4L516.8 226.6L517.3 227.1L517.8 227.9L518.3 228.8L518.8 229.6L519.3 230.5L519.8 231.5L520.3 232.5L520.8 233.2L521.3 233.6L521.5 233.6" stroke="#EDB120" stroke-width="2.3"/>
</g>
<g fill="none" stroke-linejoin="round" stroke-linecap="round" clip-path="url(#cb)">
<path d="M53.2 408.1L53.8 405.7L54.3 405.9L54.9 408.7L55.4 413.7L56 420.8L56.5 429.3L57.1 438.7L57.6 448.3L58.2 457.5L58.7 465.6L59.3 472L59.8 476.3L60.4 478.2L60.9 477.6L61.5 474.5L62 469.1L62.6 461.8L63.1 453.1L63.7 443.7L64.2 434.1L64.8 425.1L65.3 417.3L65.9 411.2L66.4 407.3L67 405.8L67.5 406.8L68.1 410.4L68.6 416.1L69.2 423.7L69.7 432.6L70.3 442.2L70.8 451.7L71.4 460.6L71.9 468.2L72.5 474L73 477.5L73.6 478.6L74.1 477L74.7 473L75.2 466.9L75.8 459L76.3 449.8L76.9 440.2L77.4 430.6L78 421.9L78.5 414.5L79.1 409.1L79.6 406L80.2 405.4L80.7 407.4L81.3 411.8L81.8 418.4L82.4 426.6L82.9 436L83.5 445.7L84 455.2L84.6 463.8L85.1 470.8L85.7 475.8L86.2 478.5L86.8 478.6L87.3 476.1L87.9 471.2L88.4 464.3L89 455.8L89.5 446.4L90.1 436.7L90.6 427.3L91.2 419.1L91.7 412.4L92.3 407.8L92.8 405.7L93.4 406.1L93.9 409L94.5 414.3L95 421.5L95.6 430.1L96.1 439.5L96.7 449.1L97.2 458.1L97.8 466L98.3 472.2L98.9 476.3L99.4 478L100 477.1L100.5 473.7L101.1 468.2L101.6 460.8L102.2 452.2L102.7 442.8L103.3 433.5L103.8 424.8L104.4 417.3L104.9 411.5L105.5 408L106 406.8L106.6 408.1L107.1 411.8L107.7 417.6L108.2 425.1L108.8 433.7L109.3 442.9L109.9 452.1L110.4 460.5L111 467.5L111.5 472.8L112.1 475.9L112.6 476.7L113.2 475L113.7 471L114.3 464.9L114.8 457.3L115.4 448.6L115.9 439.5L116.5 430.6L117 422.5L117.6 415.7L118.1 410.8L118.7 408.1L119.2 407.8L119.8 409.9L120.3 414.2L120.9 420.5L121.4 428.3L122 437.1L122.5 446.2L123.1 455.1L123.6 463L124.2 469.5L124.7 474L125.3 476.3L125.8 476.3L126.4 473.8L126.9 469L127.5 462.4L128 454.3L128.6 445.4L129.1 436.2L129.7 427.4L130.2 419.6L130.8 413.3L131.3 409.1L131.9 407.2L132.4 407.7L133 410.6L133.5 415.8L134.1 422.8L134.6 431.2L135.2 440.3L135.7 449.7L136.3 458.5L136.8 466.2L137.4 472.2L137.9 476.1L138.5 477.6L139 476.6L139.6 473.2L140.1 467.6L140.7 460.2L141.2 451.5L141.8 442.1L142.3 432.7L142.9 423.9L143.4 416.4L144 410.7L144.5 407.2L145.1 406.1L145.6 407.6L146.2 411.4L146.7 417.5L147.3 425.3L147.9 434.2L148.4 443.8L149 453.2L149.5 461.8L150.1 469.1L150.6 474.4L151.2 477.5L151.7 478.1L152.3 476.1L152.8 471.8L153.4 465.4L153.9 457.3L154.5 448.2L155 438.6L155.6 429.3L156.1 420.9L156.7 414L157.2 409L157.8 406.4L158.3 406.3L158.9 408.7L159.4 413.5L160 420.2L160.5 428.5L161.1 437.7L161.6 447.2L162.2 456.3L162.7 464.4L163.3 471L163.8 475.5L164.4 477.6L164.9 477.3L165.5 474.5L166 469.4L166.6 462.4L167.1 453.9L167.7 444.7L168.2 435.3L168.8 426.3L169.3 418.5L169.9 412.3L170.4 408.2L171 406.5L171.5 407.3L172.1 410.5L172.6 416L173.2 423.2L173.7 431.8L174.3 441.1L174.8 450.5L175.4 459.3L175.9 466.9L176.5 472.7L177 476.4L177.6 477.7L178.1 476.5L178.7 472.9L179.2 467.1L179.8 459.5L180.3 450.7L180.9 441.3L181.4 431.9L182 423.2L182.5 415.8L183.1 410.2L183.6 406.9L184.2 406L184.7 407.6L185.3 411.7L185.8 417.9L186.4 425.9L186.9 435L187.5 444.6L188 454.1L188.6 462.7L189.1 470L189.7 475.3L190.2 478.2L190.8 478.7L191.3 476.5L191.9 472L192.4 465.3L193 456.9L193.5 447.5L194.1 437.7L194.6 428.1L195.2 419.5L195.7 412.5L196.3 407.5L196.8 404.9L197.4 405L197.9 407.6L198.5 412.7L199 419.9L199.6 428.6L200.1 438.3L200.7 448.3L201.2 457.8L201.8 466.3L202.3 473.1L202.9 477.7L203.4 479.8L204 479.2L204.5 476.1L205.1 470.5L205.6 462.9L206.2 453.9L206.7 444L207.3 434L207.8 424.5L208.4 416.3L208.9 409.9L209.5 405.8L210 404.2L210.6 405.2L211.1 408.9L211.7 414.9L212.2 422.7L212.8 432L213.3 441.9L213.9 451.8L214.4 461L215 468.9L215.5 474.9L216.1 478.5L216.6 479.6L217.2 478.1L217.7 474L218.3 467.7L218.8 459.6L219.4 450.3L219.9 440.4L220.5 430.7L221 421.8L221.6 414.3L222.1 408.8L222.7 405.7L223.2 405.1L223.8 407.1L224.3 411.5L224.9 418.1L225.4 426.4L226 435.7L226.5 445.4L227.1 454.9L227.6 463.5L228.2 470.5L228.7 475.5L229.3 478.2L229.8 478.3L230.4 475.9L230.9 471.1L231.5 464.3L232 455.9L232.6 446.6L233.1 437L233.7 427.7L234.2 419.5L234.8 412.8L235.3 408.2L235.9 406L236.4 406.3L237 409.1L237.5 414.3L238.1 421.3L238.6 429.9L239.2 439.2L239.7 448.8L240.3 457.9L240.9 465.9L241.4 472.2L242 476.4L242.5 478.2L243.1 477.4L243.6 474.2L244.2 468.7L244.7 461.3L245.3 452.6L245.8 443.1L246.4 433.6L246.9 424.6L247.5 416.8L248 410.8L248.6 407L249.1 405.7L249.7 406.9L250.2 410.5L250.8 416.4L251.3 424.1L251.9 433.1L252.4 442.7L253 452.3L253.5 461.2L254.1 468.7L254.6 474.4L255.2 477.8L255.7 478.7L256.3 477L256.8 472.8L257.4 466.5L257.9 458.5L258.5 449.3L259 439.6L259.6 430.1L260.1 421.4L260.7 414.2L261.2 408.9L261.8 405.9L262.3 405.5L262.9 407.7L263.4 412.2L264 418.9L264.5 427.2L265.1 436.5L265.6 446.2L266.2 455.6L266.7 464L267.3 470.9L267.8 475.7L268.4 478.2L268.9 478.1L269.5 475.5L270 470.5L270.6 463.6L271.1 455.1L271.7 445.8L272.2 436.2L272.8 427.1L273.3 419L273.9 412.6L274.4 408.2L275 406.3L275.5 406.8L276.1 409.8L276.6 415.1L277.2 422.3L277.7 430.8L278.3 440.1L278.8 449.5L279.4 458.3L279.9 466L280.5 471.9L281 475.8L281.6 477.3L282.1 476.3L282.7 472.9L283.2 467.3L283.8 460L284.3 451.5L284.9 442.3L285.4 433.2L286 424.6L286.5 417.4L287.1 411.8L287.6 408.4L288.2 407.4L288.7 408.8L289.3 412.5L289.8 418.3L290.4 425.8L290.9 434.3L291.5 443.4L292 452.4L292.6 460.7L293.1 467.6L293.7 472.8L294.2 475.7L294.8 476.4L295.3 474.6L295.9 470.5L296.4 464.4L297 456.8L297.5 448.1L298.1 439L298.6 430.1L299.2 422L299.7 415.4L300.3 410.6L300.8 407.9L301.4 407.7L301.9 409.9L302.5 414.4L303 420.8L303.6 428.7L304.1 437.6L304.7 446.8L305.2 455.7L305.8 463.6L306.3 470.1L306.9 474.6L307.4 476.8L308 476.6L308.5 474L309.1 469.1L309.6 462.3L310.2 454L310.7 444.9L311.3 435.6L311.8 426.7L312.4 418.8L312.9 412.6L313.5 408.4L314 406.6L314.6 407.2L315.1 410.3L315.7 415.7L316.2 422.9L316.8 431.5L317.3 440.9L317.9 450.3L318.4 459.2L319 466.9L319.5 472.9L320.1 476.7L320.6 478.1L321.2 476.9L321.7 473.3L322.3 467.5L322.8 459.9L323.4 451L323.9 441.5L324.5 432L325 423.3L325.6 415.8L326.1 410.2L326.7 406.8L327.2 405.9L327.8 407.5L328.3 411.6L328.9 417.8L329.4 425.7L330 434.7L330.5 444.3L331.1 453.7L331.6 462.3L332.2 469.4L332.7 474.7L333.3 477.6L333.8 478L334.4 475.9L335 471.4L335.5 464.9L336.1 456.8L336.6 447.6L337.2 438.1L337.7 428.8L338.3 420.5L338.8 413.7L339.4 409L339.9 406.5L340.5 406.5L341 409.1L341.6 413.9L342.1 420.7L342.7 429L343.2 438.2L343.8 447.7L344.3 456.8L344.9 464.8L345.4 471.2L346 475.6L346.5 477.6L347.1 477.1L347.6 474.2L348.2 469L348.7 461.9L349.3 453.4L349.8 444.2L350.4 434.7L350.9 425.8L351.5 418L352 411.9L352.6 407.9L353.1 406.3L353.7 407.2L354.2 410.6L354.8 416.1L355.3 423.5L355.9 432.2L356.4 441.6L357 451.1L357.5 459.9L358.1 467.5L358.6 473.4L359.2 477L359.7 478.2L360.3 476.9L360.8 473.1L361.4 467.1L361.9 459.3L362.5 450.3L363 440.7L363.6 431.2L364.1 422.4L364.7 414.9L365.2 409.4L365.8 406.1L366.3 405.3L366.9 407.1L367.4 411.4L368 417.9L368.5 426L369.1 435.4L369.6 445.2L370.2 454.8L370.7 463.6L371.3 470.8L371.8 476.1L372.4 479L372.9 479.3L373.5 477L374 472.2L374.6 465.2L375.1 456.7L375.7 447.1L376.2 437.1L376.8 427.4L377.3 418.8L377.9 411.7L378.4 406.8L379 404.4L379.5 404.6L380.1 407.5L380.6 412.8L381.2 420.1L381.7 429L382.3 438.8L382.8 448.9L383.4 458.4L383.9 466.8L384.5 473.5L385 478L385.6 479.9L386.1 479.2L386.7 475.8L387.2 470.1L387.8 462.4L388.3 453.3L388.9 443.5L389.4 433.5L390 424.1L390.5 416.1L391.1 409.8L391.6 405.9L392.2 404.4L392.7 405.7L393.3 409.5L393.8 415.5L394.4 423.4L394.9 432.6L395.5 442.5L396 452.2L396.6 461.3L397.1 468.9L397.7 474.7L398.2 478.2L398.8 479.1L399.3 477.4L399.9 473.2L400.4 466.9L401 458.8L401.5 449.6L402.1 439.9L402.6 430.3L403.2 421.6L403.7 414.4L404.3 409.1L404.8 406.1L405.4 405.7L405.9 407.8L406.5 412.3L407 418.9L407.6 427.1L408.1 436.3L408.7 445.9L409.2 455.2L409.8 463.6L410.3 470.5L410.9 475.4L411.4 477.9L412 477.9L412.5 475.4L413.1 470.5L413.6 463.7L414.2 455.3L414.7 446L415.3 436.5L415.8 427.3L416.4 419.2L416.9 412.6L417.5 408.2L418 406.1L418.6 406.5L419.1 409.4L419.7 414.7L420.2 421.8L420.8 430.4L421.3 439.8L421.9 449.3L422.4 458.4L423 466.3L423.5 472.5L424.1 476.6L424.6 478.3L425.2 477.4L425.7 474.1L426.3 468.4L426.8 461L427.4 452.1L428 442.6L428.5 433L429.1 424L429.6 416.3L430.2 410.4L430.7 406.7L431.3 405.5L431.8 406.9L432.4 410.7L432.9 416.7L433.5 424.6L434 433.6L434.6 443.3L435.1 452.8L435.7 461.6L436.2 469.1L436.8 474.6L437.3 477.9L437.9 478.6L438.4 476.7L439 472.5L439.5 466.1L440.1 458L440.6 448.8L441.2 439.1L441.7 429.6L442.3 421.1L442.8 414L443.4 408.9L443.9 406.1L444.5 405.9L445 408.2L445.6 412.9L446.1 419.6L446.7 427.9L447.2 437.1L447.8 446.7L448.3 455.9L448.9 464.2L449.4 470.8L450 475.4L450.5 477.7L451.1 477.5L451.6 474.7L452.2 469.7L452.7 462.8L453.3 454.4L453.8 445.2L454.4 435.8L454.9 426.9L455.5 419L456 412.8L456.6 408.7L457.1 406.9L457.7 407.6L458.2 410.7L458.8 416L459.3 423.1L459.9 431.5L460.4 440.6L461 449.8L461.5 458.4L462.1 465.9L462.6 471.7L463.2 475.3L463.7 476.7L464.3 475.6L464.8 472.1L465.4 466.6L465.9 459.3L466.5 450.9L467 441.8L467.6 432.8L468.1 424.4L468.7 417.3L469.2 411.9L469.8 408.6L470.3 407.7L470.9 409.2L471.4 413L472 418.8L472.5 426.3L473.1 434.9L473.6 443.9L474.2 452.9L474.7 461.1L475.3 468L475.8 473L476.4 475.9L476.9 476.5L477.5 474.6L478 470.4L478.6 464.2L479.1 456.4L479.7 447.7L480.2 438.5L480.8 429.5L481.3 421.4L481.9 414.7L482.4 410L483 407.4L483.5 407.3L484.1 409.7L484.6 414.3L485.2 420.9L485.7 429L486.3 438L486.8 447.4L487.4 456.4L487.9 464.4L488.5 470.8L489 475.3L489.6 477.4L490.1 477.1L490.7 474.3L491.2 469.2L491.8 462.2L492.3 453.7L492.9 444.4L493.4 435L494 426L494.5 418.1L495.1 411.8L495.6 407.7L496.2 406L496.7 406.9L497.3 410.2L497.8 415.7L498.4 423.1L498.9 431.9L499.5 441.4L500 450.9L500.6 459.8L501.1 467.5L501.7 473.4L502.2 477.1L502.8 478.3L503.3 477L503.9 473.2L504.4 467.3L505 459.5L505.5 450.6L506.1 441L506.6 431.5L507.2 422.8L507.7 415.4L508.3 409.9L508.8 406.6L509.4 405.9L509.9 407.7L510.5 411.9L511 418.2L511.6 426.2L512.1 435.3L512.7 444.8L513.2 454.2L513.8 462.7L514.3 469.7L514.9 474.8L515.4 477.6L516 477.8L516.5 475.6L517.1 471L517.6 464.4L518.2 456.2L518.7 447.1L519.3 437.6L519.8 428.4L520.4 420.2L520.9 413.5L521.5 408.8" stroke="#A2142F" stroke-width="2.3"/>
<path d="M53.2 476.3L53.8 479.3L54.3 479.6L54.9 477.3L55.4 472.5L56 465.6L56.5 457L57.1 447.4L57.6 437.4L58.2 427.8L58.7 419.2L59.3 412.2L59.8 407.3L60.4 404.8L60.9 405L61.5 407.8L62 412.9L62.6 420.2L63.1 428.9L63.7 438.5L64.2 448.4L64.8 457.8L65.3 466.1L65.9 472.7L66.4 477.1L67 479L67.5 478.4L68.1 475.2L68.6 469.7L69.2 462.2L69.7 453.4L70.3 443.8L70.8 434L71.4 424.9L71.9 417L72.5 410.8L73 406.8L73.6 405.4L74.1 406.5L74.7 410.1L75.2 415.9L75.8 423.5L76.3 432.5L76.9 442.1L77.4 451.7L78 460.6L78.5 468.2L79.1 474L79.6 477.5L80.2 478.5L80.7 477L81.3 473L81.8 466.9L82.4 459L82.9 449.9L83.5 440.2L84 430.7L84.6 422L85.1 414.7L85.7 409.3L86.2 406.2L86.8 405.6L87.3 407.6L87.9 412L88.4 418.5L89 426.6L89.5 435.9L90.1 445.6L90.6 455.1L91.2 463.6L91.7 470.7L92.3 475.8L92.8 478.4L93.4 478.6L93.9 476.2L94.5 471.3L95 464.4L95.6 456L96.1 446.5L96.7 436.7L97.2 427.3L97.8 418.9L98.3 412.1L98.9 407.4L99.4 405.1L100 405.5L100.5 408.4L101.1 413.7L101.6 420.9L102.2 429.7L102.7 439.4L103.3 449.2L103.8 458.6L104.4 466.8L104.9 473.2L105.5 477.5L106 479.3L106.6 478.5L107.1 475.1L107.7 469.4L108.2 461.7L108.8 452.7L109.3 443L109.9 433.1L110.4 423.9L111 416L111.5 409.9L112.1 406.1L112.6 404.8L113.2 406.1L113.7 410L114.3 416.1L114.8 424L115.4 433.1L115.9 442.9L116.5 452.6L117 461.6L117.6 469.1L118.1 474.7L118.7 478.1L119.2 478.9L119.8 477.1L120.3 472.8L120.9 466.4L121.4 458.3L122 449.1L122.5 439.4L123.1 430L123.6 421.4L124.2 414.2L124.7 409.1L125.3 406.3L125.8 406L126.4 408.2L126.9 412.8L127.5 419.4L128 427.6L128.6 436.8L129.1 446.3L129.7 455.5L130.2 463.7L130.8 470.4L131.3 475.1L131.9 477.4L132.4 477.2L133 474.6L133.5 469.7L134.1 462.9L134.6 454.6L135.2 445.5L135.7 436.2L136.3 427.3L136.8 419.4L137.4 413.2L137.9 409L138.5 407.1L139 407.7L139.6 410.7L140.1 415.8L140.7 422.9L141.2 431.2L141.8 440.3L142.3 449.5L142.9 458.2L143.4 465.7L144 471.6L144.5 475.4L145.1 476.8L145.6 475.8L146.2 472.5L146.7 467L147.3 459.7L147.9 451.3L148.4 442.1L149 433L149.5 424.5L150.1 417.2L150.6 411.7L151.2 408.3L151.7 407.3L152.3 408.7L152.8 412.4L153.4 418.2L153.9 425.8L154.5 434.4L155 443.6L155.6 452.8L156.1 461.1L156.7 468.2L157.2 473.4L157.8 476.4L158.3 477.1L158.9 475.2L159.4 471L160 464.8L160.5 457L161.1 448.1L161.6 438.7L162.2 429.6L162.7 421.4L163.3 414.5L163.8 409.6L164.4 407L164.9 406.8L165.5 409.1L166 413.8L166.6 420.4L167.1 428.5L167.7 437.6L168.2 447.1L168.8 456.2L169.3 464.3L169.9 470.9L170.4 475.4L171 477.6L171.5 477.3L172.1 474.5L172.6 469.5L173.2 462.5L173.7 454L174.3 444.8L174.8 435.3L175.4 426.3L175.9 418.4L176.5 412.2L177 408L177.6 406.3L178.1 407.1L178.7 410.3L179.2 415.8L179.8 423.1L180.3 431.7L180.9 441L181.4 450.5L182 459.3L182.5 466.9L183.1 472.7L183.6 476.4L184.2 477.7L184.7 476.4L185.3 472.8L185.8 467L186.4 459.4L186.9 450.7L187.5 441.3L188 432.1L188.6 423.5L189.1 416.3L189.7 410.8L190.2 407.6L190.8 406.8L191.3 408.5L191.9 412.5L192.4 418.6L193 426.3L193.5 435.1L194.1 444.4L194.6 453.5L195.2 461.8L195.7 468.7L196.3 473.7L196.8 476.5L197.4 476.8L197.9 474.8L198.5 470.4L199 464L199.6 456.1L200.1 447.3L200.7 438L201.2 429.1L201.8 421L202.3 414.5L202.9 409.9L203.4 407.5L204 407.6L204.5 410.1L205.1 414.8L205.6 421.4L206.2 429.5L206.7 438.5L207.3 447.7L207.8 456.6L208.4 464.4L208.9 470.7L209.5 474.9L210 476.9L210.6 476.4L211.1 473.5L211.7 468.4L212.2 461.4L212.8 453.1L213.3 443.9L213.9 434.7L214.4 425.9L215 418.2L215.5 412.2L216.1 408.2L216.6 406.7L217.2 407.6L217.7 410.9L218.3 416.5L218.8 423.8L219.4 432.5L219.9 441.8L220.5 451.2L221 460L221.6 467.6L222.1 473.4L222.7 477L223.2 478.1L223.8 476.7L224.3 472.9L224.9 466.9L225.4 459.1L226 450.1L226.5 440.5L227.1 431L227.6 422.2L228.2 414.8L228.7 409.3L229.3 406.1L229.8 405.4L230.4 407.3L230.9 411.6L231.5 418.1L232 426.3L232.6 435.6L233.1 445.4L233.7 455L234.2 463.6L234.8 470.8L235.3 476L235.9 478.8L236.4 479L237 476.6L237.5 471.8L238.1 464.9L238.6 456.4L239.2 446.8L239.7 436.9L240.3 427.4L240.9 418.9L241.4 412L242 407.2L242.5 404.9L243.1 405.2L243.6 408L244.2 413.3L244.7 420.6L245.3 429.4L245.8 439.1L246.4 449L246.9 458.3L247.5 466.6L248 473.1L248.6 477.4L249.1 479.3L249.7 478.5L250.2 475.1L250.8 469.5L251.3 461.9L251.9 452.9L252.4 443.2L253 433.4L253.5 424.3L254.1 416.4L254.6 410.3L255.2 406.4L255.7 405.1L256.3 406.3L256.8 410.1L257.4 416.1L257.9 423.9L258.5 432.9L259 442.6L259.6 452.3L260.1 461.2L260.7 468.7L261.2 474.4L261.8 477.8L262.3 478.7L262.9 477L263.4 472.8L264 466.5L264.5 458.5L265.1 449.4L265.6 439.7L266.2 430.2L266.7 421.6L267.3 414.3L267.8 409.1L268.4 406.1L268.9 405.7L269.5 407.8L270 412.3L270.6 418.9L271.1 427.2L271.7 436.5L272.2 446.1L272.8 455.5L273.3 464L273.9 470.9L274.4 475.8L275 478.3L275.5 478.3L276.1 475.7L276.6 470.8L277.2 463.9L277.7 455.4L278.3 445.9L278.8 436.2L279.4 426.9L279.9 418.6L280.5 411.9L281 407.4L281.6 405.3L282.1 405.8L282.7 408.8L283.2 414.1L283.8 421.5L284.3 430.3L284.9 439.9L285.4 449.7L286 459L286.5 467.1L287.1 473.5L287.6 477.6L288.2 479.3L288.7 478.4L289.3 474.9L289.8 469L290.4 461.3L290.9 452.2L291.5 442.4L292 432.6L292.6 423.3L293.1 415.4L293.7 409.4L294.2 405.6L294.8 404.4L295.3 405.9L295.9 409.9L296.4 416.1L297 424.2L297.5 433.6L298.1 443.5L298.6 453.3L299.2 462.4L299.7 470L300.3 475.7L300.8 479L301.4 479.7L301.9 477.7L302.5 473.3L303 466.6L303.6 458.3L304.1 448.8L304.7 438.8L305.2 429.1L305.8 420.3L306.3 413L306.9 407.8L307.4 405L308 404.8L308.5 407.3L309.1 412.1L309.6 419.1L310.2 427.6L310.7 437.2L311.3 447L311.8 456.5L312.4 465L312.9 471.8L313.5 476.5L314 478.8L314.6 478.5L315.1 475.6L315.7 470.4L316.2 463.2L316.8 454.6L317.3 445.1L317.9 435.4L318.4 426.2L319 418.2L319.5 411.8L320.1 407.6L320.6 405.8L321.2 406.6L321.7 409.8L322.3 415.3L322.8 422.7L323.4 431.4L323.9 440.8L324.5 450.2L325 459.1L325.6 466.8L326.1 472.7L326.7 476.4L327.2 477.7L327.8 476.5L328.3 472.9L328.9 467.2L329.4 459.7L330 450.9L330.5 441.6L331.1 432.3L331.6 423.7L332.2 416.5L332.7 411L333.3 407.7L333.8 406.8L334.4 408.4L335 412.4L335.5 418.4L336.1 426.1L336.6 434.9L337.2 444.2L337.7 453.3L338.3 461.7L338.8 468.7L339.4 473.8L339.9 476.6L340.5 477.1L341 475.1L341.6 470.8L342.1 464.4L342.7 456.5L343.2 447.6L343.8 438.2L344.3 429.2L344.9 421L345.4 414.3L346 409.5L346.5 407L347.1 407L347.6 409.4L348.2 414.2L348.7 420.9L349.3 429.1L349.8 438.2L350.4 447.6L350.9 456.6L351.5 464.6L352 471.1L352.6 475.5L353.1 477.5L353.7 477.1L354.2 474.2L354.8 469.1L355.3 462L355.9 453.5L356.4 444.2L357 434.8L357.5 425.8L358.1 418L358.6 411.9L359.2 407.8L359.7 406.2L360.3 407.1L360.8 410.5L361.4 416L361.9 423.4L362.5 432.2L363 441.6L363.6 451L364.1 459.8L364.7 467.4L365.2 473.2L365.8 476.8L366.3 477.9L366.9 476.6L367.4 472.8L368 466.8L368.5 459.1L369.1 450.3L369.6 440.8L370.2 431.5L370.7 422.9L371.3 415.6L371.8 410.2L372.4 407.1L372.9 406.4L373.5 408.3L374 412.5L374.6 418.7L375.1 426.6L375.7 435.6L376.2 445L376.8 454.1L377.3 462.5L377.9 469.3L378.4 474.2L379 476.9L379.5 477.1L380.1 474.9L380.6 470.3L381.2 463.8L381.7 455.8L382.3 446.8L382.8 437.5L383.4 428.5L383.9 420.6L384.5 414.1L385 409.6L385.6 407.4L386.1 407.7L386.7 410.3L387.2 415.2L387.8 421.9L388.3 430.1L388.9 439L389.4 448.2L390 456.9L390.5 464.6L391.1 470.7L391.6 474.8L392.2 476.5L392.7 475.9L393.3 472.8L393.8 467.7L394.4 460.7L394.9 452.4L395.5 443.4L396 434.3L396.6 425.7L397.1 418.3L397.7 412.6L398.2 408.9L398.8 407.5L399.3 408.6L399.9 412L400.4 417.5L401 424.8L401.5 433.2L402.1 442.4L402.6 451.5L403.2 459.9L403.7 467.1L404.3 472.6L404.8 475.9L405.4 476.9L405.9 475.4L406.5 471.6L407 465.7L407.6 458.1L408.1 449.3L408.7 440.1L409.2 430.9L409.8 422.5L410.3 415.5L410.9 410.3L411.4 407.3L412 406.7L412.5 408.7L413.1 413L413.6 419.3L414.2 427.3L414.7 436.3L415.3 445.8L415.8 455L416.4 463.4L416.9 470.2L417.5 475.2L418 477.7L418.6 477.8L419.1 475.4L419.7 470.6L420.2 463.8L420.8 455.5L421.3 446.1L421.9 436.5L422.4 427.2L423 419L423.5 412.4L424.1 407.8L424.6 405.6L425.2 406L425.7 408.9L426.3 414.2L426.8 421.4L427.4 430.1L428 439.7L428.5 449.4L429.1 458.6L429.6 466.7L430.2 473L430.7 477.2L431.3 478.9L431.8 478L432.4 474.6L432.9 468.9L433.5 461.3L434 452.4L434.6 442.7L435.1 433L435.7 423.9L436.2 416.1L436.8 410.1L437.3 406.4L437.9 405.2L438.4 406.6L439 410.4L439.5 416.5L440.1 424.4L440.6 433.5L441.2 443.2L441.7 452.8L442.3 461.6L442.8 469.1L443.4 474.7L443.9 477.9L444.5 478.7L445 476.8L445.6 472.5L446.1 466.1L446.7 458L447.2 448.8L447.8 439.2L448.3 429.7L448.9 421.1L449.4 414L450 408.9L450.5 406.1L451.1 405.8L451.6 408.1L452.2 412.8L452.7 419.5L453.3 427.7L453.8 437L454.4 446.6L454.9 455.9L455.5 464.3L456 471L456.6 475.7L457.1 478.1L457.7 477.9L458.2 475.2L458.8 470.2L459.3 463.2L459.9 454.7L460.4 445.3L461 435.7L461.5 426.6L462.1 418.5L462.6 412L463.2 407.7L463.7 405.8L464.3 406.4L464.8 409.5L465.4 414.9L465.9 422.2L466.5 431L467 440.5L467.6 450.1L468.1 459.2L468.7 467.1L469.2 473.3L469.8 477.3L470.3 478.8L470.9 477.7L471.4 474.1L472 468.3L472.5 460.6L473.1 451.6L473.6 441.9L474.2 432.2L474.7 423.1L475.3 415.4L475.8 409.5L476.4 405.9L476.9 404.9L477.5 406.4L478 410.5L478.6 416.8L479.1 424.8L479.7 434.1L480.2 444L480.8 453.8L481.3 462.8L481.9 470.3L482.4 475.8L483 479L483.5 479.6L484.1 477.6L484.6 473L485.2 466.3L485.7 457.8L486.3 448.3L486.8 438.2L487.4 428.5L487.9 419.7L488.5 412.4L489 407.2L489.6 404.5L490.1 404.4L490.7 407L491.2 412L491.8 419.1L492.3 427.9L492.9 437.6L493.4 447.7L494 457.3L494.5 465.9L495.1 472.8L495.6 477.5L496.2 479.7L496.7 479.3L497.3 476.3L497.8 470.8L498.4 463.4L498.9 454.4L499.5 444.6L500 434.7L500.6 425.3L501.1 417L501.7 410.6L502.2 406.3L502.8 404.6L503.3 405.5L503.9 409L504.4 414.8L505 422.5L505.5 431.5L506.1 441.3L506.6 451.1L507.2 460.2L507.7 468L508.3 474L508.8 477.7L509.4 478.9L509.9 477.5L510.5 473.7L511 467.6L511.6 459.8L512.1 450.7L512.7 441.1L513.2 431.5L513.8 422.7L514.3 415.3L514.9 409.8L515.4 406.6L516 405.8L516.5 407.6L517.1 411.8L517.6 418.2L518.2 426.1L518.7 435.2L519.3 444.8L519.8 454.1L520.4 462.5L520.9 469.6L521.5 474.6" stroke="#EDB120" stroke-width="2.3"/>
<path d="M53.2 416.3L53.8 410.9L54.3 407.8L54.9 407L55.4 408.8L56 412.8L56.5 418.9L57.1 426.7L57.6 435.5L58.2 444.8L58.7 453.9L59.3 462.2L59.8 469.1L60.4 474.1L60.9 476.8L61.5 477.1L62 475L62.6 470.5L63.1 464L63.7 455.9L64.2 446.9L64.8 437.6L65.3 428.5L65.9 420.4L66.4 413.9L67 409.3L67.5 407L68.1 407.2L68.6 409.8L69.2 414.7L69.7 421.5L70.3 429.8L70.8 438.9L71.4 448.2L71.9 457L72.5 464.8L73 471L73.6 475.1L74.1 476.9L74.7 476.3L75.2 473.2L75.8 468L76.3 460.9L76.9 452.6L77.4 443.5L78 434.4L78.5 425.8L79.1 418.4L79.6 412.7L80.2 409L80.7 407.7L81.3 408.8L81.8 412.2L82.4 417.7L82.9 424.9L83.5 433.3L84 442.2L84.6 451.1L85.1 459.4L85.7 466.4L86.2 471.7L86.8 474.9L87.3 475.7L87.9 474.3L88.4 470.5L89 464.8L89.5 457.5L90.1 449.1L90.6 440.3L91.2 431.6L91.7 423.6L92.3 417L92.8 412.1L93.4 409.3L93.9 408.8L94.5 410.7L95 414.7L95.6 420.7L96.1 428.2L96.7 436.6L97.2 445.4L97.8 454L98.3 461.8L98.9 468.1L99.4 472.7L100 475.1L100.5 475.2L101.1 473L101.6 468.6L102.2 462.3L102.7 454.6L103.3 446L103.8 437.1L104.4 428.5L104.9 420.8L105.5 414.7L106 410.4L106.6 408.3L107.1 408.6L107.7 411.3L108.2 416.1L108.8 422.8L109.3 430.8L109.9 439.7L110.4 448.8L111 457.4L111.5 464.9L112.1 470.9L112.6 474.9L113.2 476.6L113.7 475.8L114.3 472.7L114.8 467.4L115.4 460.3L115.9 451.9L116.5 442.8L117 433.6L117.6 424.9L118.1 417.5L118.7 411.7L119.2 408.1L119.8 406.9L120.3 408.1L120.9 411.7L121.4 417.5L122 425L122.5 433.7L123.1 443L123.6 452.3L124.2 460.8L124.7 468.1L125.3 473.5L125.8 476.7L126.4 477.5L126.9 475.8L127.5 471.7L128 465.5L128.6 457.7L129.1 448.8L129.7 439.4L130.2 430.2L130.8 421.8L131.3 414.9L131.9 409.8L132.4 407.1L133 406.8L133.5 408.9L134.1 413.4L134.6 419.9L135.2 428L135.7 437L136.3 446.4L136.8 455.5L137.4 463.6L137.9 470.1L138.5 474.8L139 477.1L139.6 476.9L140.1 474.3L140.7 469.4L141.2 462.7L141.8 454.4L142.3 445.4L142.9 436.1L143.4 427.2L144 419.4L144.5 413.1L145.1 408.9L145.6 407.1L146.2 407.6L146.7 410.6L147.3 415.8L147.9 422.9L148.4 431.3L149 440.4L149.5 449.7L150.1 458.4L150.6 466L151.2 471.9L151.7 475.7L152.3 477.2L152.8 476.2L153.4 472.8L153.9 467.2L154.5 459.9L155 451.3L155.6 442L156.1 432.7L156.7 424.1L157.2 416.7L157.8 411L158.3 407.5L158.9 406.5L159.4 407.9L160 411.8L160.5 417.8L161.1 425.5L161.6 434.4L162.2 443.8L162.7 453.2L163.3 461.8L163.8 469L164.4 474.4L164.9 477.5L165.5 478.1L166 476.2L166.6 471.9L167.1 465.4L167.7 457.3L168.2 448.1L168.8 438.5L169.3 429.1L169.9 420.6L170.4 413.6L171 408.5L171.5 405.8L172.1 405.7L172.6 408.1L173.2 412.9L173.7 419.8L174.3 428.2L174.8 437.6L175.4 447.4L175.9 456.7L176.5 465.1L177 471.8L177.6 476.4L178.1 478.6L178.7 478.2L179.2 475.3L179.8 470.1L180.3 462.9L180.9 454.2L181.4 444.7L182 435L182.5 425.8L183.1 417.8L183.6 411.5L184.2 407.4L184.7 405.7L185.3 406.5L185.8 409.9L186.4 415.5L186.9 422.9L187.5 431.7L188 441.2L188.6 450.7L189.1 459.5L189.7 467.1L190.2 473L190.8 476.6L191.3 477.8L191.9 476.5L192.4 472.8L193 466.9L193.5 459.3L194.1 450.5L194.6 441.2L195.2 432L195.7 423.5L196.3 416.3L196.8 411L197.4 407.8L197.9 407.1L198.5 408.8L199 412.9L199.6 418.9L200.1 426.6L200.7 435.3L201.2 444.5L201.8 453.5L202.3 461.7L202.9 468.4L203.4 473.3L204 476L204.5 476.3L205.1 474.3L205.6 469.9L206.2 463.6L206.7 455.8L207.3 447.1L207.8 438L208.4 429.2L208.9 421.3L209.5 414.8L210 410.3L210.6 408L211.1 408.1L211.7 410.6L212.2 415.3L212.8 421.8L213.3 429.8L213.9 438.7L214.4 447.8L215 456.5L215.5 464.2L216.1 470.3L216.6 474.5L217.2 476.4L217.7 475.9L218.3 473L218.8 467.9L219.4 461L219.9 452.8L220.5 443.8L221 434.6L221.6 426L222.1 418.5L222.7 412.6L223.2 408.8L223.8 407.4L224.3 408.3L224.9 411.7L225.4 417.1L226 424.4L226.5 432.8L227.1 442L227.6 451.1L228.2 459.6L228.7 466.9L229.3 472.5L229.8 475.9L230.4 476.9L230.9 475.5L231.5 471.7L232 465.8L232.6 458.3L233.1 449.6L233.7 440.5L234.2 431.4L234.8 423.1L235.3 416.1L235.9 411L236.4 408L237 407.5L237.5 409.3L238.1 413.5L238.6 419.7L239.2 427.4L239.7 436.1L240.3 445.3L240.9 454.2L241.4 462.2L242 468.8L242.5 473.5L243.1 476L243.6 476.1L244.2 473.8L244.7 469.3L245.3 462.9L245.8 455L246.4 446.3L246.9 437.2L247.5 428.6L248 420.9L248.6 414.7L249.1 410.5L249.7 408.4L250.2 408.8L250.8 411.4L251.3 416.2L251.9 422.8L252.4 430.8L253 439.5L253.5 448.4L254.1 456.8L254.6 464.2L255.2 470L255.7 473.9L256.3 475.5L256.8 474.8L257.4 471.8L257.9 466.7L258.5 459.8L259 451.8L259.6 443L260.1 434.2L260.7 425.9L261.2 418.7L261.8 413.2L262.3 409.7L262.9 408.4L263.4 409.5L264 412.9L264.5 418.4L265.1 425.5L265.6 433.8L266.2 442.7L266.7 451.6L267.3 459.8L267.8 466.9L268.4 472.2L268.9 475.3L269.5 476.2L270 474.7L270.6 470.8L271.1 465L271.7 457.5L272.2 448.8L272.8 439.7L273.3 430.7L273.9 422.5L274.4 415.6L275 410.5L275.5 407.7L276.1 407.2L276.6 409.2L277.2 413.5L277.7 419.9L278.3 427.8L278.8 436.8L279.4 446.1L279.9 455.2L280.5 463.4L281 470.2L281.6 474.9L282.1 477.4L282.7 477.4L283.2 474.9L283.8 470.1L284.3 463.3L284.9 454.9L285.4 445.7L286 436.2L286.5 427.1L287.1 419L287.6 412.5L288.2 408.1L288.7 406.1L289.3 406.6L289.8 409.6L290.4 414.9L290.9 422.1L291.5 430.7L292 440.1L292.6 449.6L293.1 458.6L293.7 466.5L294.2 472.6L294.8 476.6L295.3 478.1L295.9 477.1L296.4 473.6L297 468L297.5 460.5L298.1 451.7L298.6 442.3L299.2 432.8L299.7 424L300.3 416.5L300.8 410.8L301.4 407.3L301.9 406.3L302.5 407.7L303 411.6L303.6 417.6L304.1 425.3L304.7 434.1L305.2 443.5L305.8 452.8L306.3 461.4L306.9 468.5L307.4 473.8L308 476.8L308.5 477.5L309.1 475.6L309.6 471.4L310.2 465.1L310.7 457.2L311.3 448.2L311.8 438.9L312.4 429.7L312.9 421.4L313.5 414.6L314 409.7L314.6 407.1L315.1 406.9L315.7 409.2L316.2 413.8L316.8 420.4L317.3 428.5L317.9 437.5L318.4 446.9L319 456L319.5 464.1L320.1 470.6L320.6 475.2L321.2 477.4L321.7 477.2L322.3 474.5L322.8 469.5L323.4 462.5L323.9 454.2L324.5 444.9L325 435.4L325.6 426.4L326.1 418.5L326.7 412.2L327.2 407.9L327.8 406.1L328.3 406.8L328.9 410L329.4 415.4L330 422.8L330.5 431.5L331.1 440.9L331.6 450.4L332.2 459.4L332.7 467.2L333.3 473.2L333.8 477L334.4 478.4L335 477.2L335.5 473.5L336.1 467.7L336.6 460L337.2 451L337.7 441.5L338.3 431.9L338.8 423.1L339.4 415.6L339.9 409.9L340.5 406.6L341 405.7L341.6 407.4L342.1 411.5L342.7 417.7L343.2 425.7L343.8 434.8L344.3 444.4L344.9 453.8L345.4 462.4L346 469.5L346.5 474.7L347.1 477.5L347.6 477.9L348.2 475.8L348.7 471.3L349.3 464.7L349.8 456.6L350.4 447.5L350.9 438.1L351.5 428.9L352 420.7L352.6 414L353.1 409.4L353.7 407L354.2 407.1L354.8 409.6L355.3 414.4L355.9 421.2L356.4 429.3L357 438.4L357.5 447.6L358.1 456.4L358.6 464.2L359.2 470.4L359.7 474.6L360.3 476.5L360.8 476L361.4 473.1L361.9 468L362.5 461.1L363 452.9L363.6 444L364.1 435L364.7 426.5L365.2 419.1L365.8 413.3L366.3 409.6L366.9 408.1L367.4 409L368 412.3L368.5 417.6L369.1 424.6L369.6 432.9L370.2 441.7L370.7 450.6L371.3 458.9L371.8 466L372.4 471.4L372.9 474.7L373.5 475.8L374 474.5L374.6 470.9L375.1 465.3L375.7 458L376.2 449.7L376.8 440.8L377.3 431.9L377.9 423.8L378.4 416.9L379 411.8L379.5 408.8L380.1 408.2L380.6 409.9L381.2 413.9L381.7 419.8L382.3 427.4L382.8 436L383.4 445L383.9 453.8L384.5 461.9L385 468.5L385.6 473.3L386.1 475.9L386.7 476.2L387.2 474L387.8 469.6L388.3 463.2L388.9 455.4L389.4 446.6L390 437.4L390.5 428.6L391.1 420.7L391.6 414.3L392.2 409.8L392.7 407.6L393.3 407.8L393.8 410.5L394.4 415.3L394.9 422L395.5 430.2L396 439.2L396.6 448.3L397.1 457.1L397.7 464.8L398.2 470.9L398.8 474.9L399.3 476.7L399.9 476L400.4 472.9L401 467.7L401.5 460.7L402.1 452.3L402.6 443.3L403.2 434.2L403.7 425.6L404.3 418.2L404.8 412.5L405.4 408.9L405.9 407.6L406.5 408.7L407 412.2L407.6 417.7L408.1 425L408.7 433.4L409.2 442.5L409.8 451.5L410.3 459.8L410.9 466.8L411.4 472.1L412 475.3L412.5 476.2L413.1 474.6L413.6 470.8L414.2 464.9L414.7 457.5L415.3 449L415.8 440L416.4 431.2L416.9 423.1L417.5 416.4L418 411.4L418.6 408.7L419.1 408.2L419.7 410.2L420.2 414.4L420.8 420.5L421.3 428.1L421.9 436.7L422.4 445.7L423 454.5L423.5 462.4L424.1 468.8L424.6 473.4L425.2 475.8L425.7 475.9L426.3 473.5L426.8 469L427.4 462.5L428 454.6L428.5 445.8L429.1 436.7L429.6 428L430.2 420.2L430.7 413.9L431.3 409.6L431.8 407.6L432.4 407.9L432.9 410.7L433.5 415.7L434 422.6L434.6 430.8L435.1 439.9L435.7 449.2L436.2 458L436.8 465.7L437.3 471.8L437.9 475.8L438.4 477.4L439 476.6L439.5 473.3L440.1 467.8L440.6 460.5L441.2 451.9L441.7 442.5L442.3 433.1L442.8 424.3L443.4 416.7L443.9 410.8L444.5 407.1L445 405.9L445.6 407.2L446.1 411L446.7 417L447.2 424.7L447.8 433.7L448.3 443.3L448.9 452.8L449.4 461.6L450 469L450.5 474.5L451.1 477.8L451.6 478.5L452.2 476.7L452.7 472.4L453.3 466L453.8 457.9L454.4 448.7L454.9 439L455.5 429.6L456 421L456.6 413.9L457.1 408.8L457.7 406L458.2 405.8L458.8 408.1L459.3 412.8L459.9 419.5L460.4 427.8L461 437.2L461.5 446.8L462.1 456.1L462.6 464.3L463.2 471L463.7 475.7L464.3 478L464.8 477.7L465.4 475L465.9 469.9L466.5 462.9L467 454.5L467.6 445.2L468.1 435.7L468.7 426.6L469.2 418.7L469.8 412.4L470.3 408.3L470.9 406.5L471.4 407.1L472 410.3L472.5 415.7L473.1 422.9L473.6 431.4L474.2 440.7L474.7 450L475.3 458.8L475.8 466.4L476.4 472.3L476.9 476L477.5 477.4L478 476.3L478.6 472.8L479.1 467.1L479.7 459.7L480.2 451L480.8 441.7L481.3 432.5L481.9 423.9L482.4 416.6L483 411L483.5 407.7L484.1 406.7L484.6 408.3L485.2 412.2L485.7 418.2L486.3 425.9L486.8 434.7L487.4 444.1L487.9 453.3L488.5 461.7L489 468.8L489.6 474L490.1 477L490.7 477.5L491.2 475.5L491.8 471.2L492.3 464.8L492.9 456.8L493.4 447.8L494 438.3L494.5 429.1L495.1 420.8L495.6 414L496.2 409.1L496.7 406.6L497.3 406.5L497.8 408.9L498.4 413.7L498.9 420.5L499.5 428.8L500 438L500.6 447.5L501.1 456.6L501.7 464.7L502.2 471.3L502.8 475.7L503.3 477.8L503.9 477.4L504.4 474.4L505 469.3L505.5 462.2L506.1 453.7L506.6 444.4L507.2 434.9L507.7 426L508.3 418.2L508.8 412.1L509.4 408.1L509.9 406.5L510.5 407.4L511 410.8L511.6 416.3L512.1 423.6L512.7 432.2L513.2 441.5L513.8 450.7L514.3 459.3L514.9 466.7L515.4 472.4L516 475.8L516.5 476.9L517.1 475.6L517.6 471.9L518.2 466.1L518.7 458.7L519.3 450.1L519.8 441L520.4 432L520.9 423.7L521.5 416.8" stroke="#77AC30" stroke-width="2.3"/>
<path d="M53.2 476.9L53.8 476.3L54.3 473.2L54.9 467.9L55.4 460.8L56 452.5L56.5 443.4L57.1 434.2L57.6 425.6L58.2 418.2L58.7 412.5L59.3 408.9L59.8 407.6L60.4 408.7L60.9 412.2L61.5 417.7L62 425L62.6 433.4L63.1 442.4L63.7 451.3L64.2 459.6L64.8 466.6L65.3 471.9L65.9 475.1L66.4 475.9L67 474.4L67.5 470.6L68.1 464.8L68.6 457.4L69.2 449L69.7 440.1L70.3 431.4L70.8 423.4L71.4 416.8L71.9 411.9L72.5 409.2L73 408.7L73.6 410.6L74.1 414.7L74.7 420.7L75.2 428.3L75.8 436.7L76.3 445.6L76.9 454.2L77.4 461.9L78 468.3L78.5 472.8L79.1 475.2L79.6 475.2L80.2 473L80.7 468.5L81.3 462.2L81.8 454.5L82.4 445.8L82.9 436.9L83.5 428.3L84 420.7L84.6 414.5L85.1 410.2L85.7 408.2L86.2 408.6L86.8 411.3L87.3 416.1L87.9 422.8L88.4 430.9L89 439.8L89.5 448.9L90.1 457.6L90.6 465.2L91.2 471.2L91.7 475.2L92.3 476.8L92.8 476L93.4 472.8L93.9 467.5L94.5 460.3L95 451.8L95.6 442.6L96.1 433.3L96.7 424.6L97.2 417.1L97.8 411.4L98.3 407.7L98.9 406.5L99.4 407.8L100 411.5L100.5 417.3L101.1 424.9L101.6 433.8L102.2 443.2L102.7 452.6L103.3 461.2L103.8 468.5L104.4 474L104.9 477.2L105.5 477.9L106 476.2L106.6 472L107.1 465.7L107.7 457.8L108.2 448.7L108.8 439.2L109.3 429.9L109.9 421.4L110.4 414.4L111 409.4L111.5 406.6L112.1 406.4L112.6 408.6L113.2 413.2L113.7 419.8L114.3 428L114.8 437.1L115.4 446.6L115.9 455.7L116.5 463.9L117 470.5L117.6 475.1L118.1 477.4L118.7 477.2L119.2 474.6L119.8 469.6L120.3 462.7L120.9 454.4L121.4 445.2L122 435.9L122.5 426.9L123.1 419L123.6 412.8L124.2 408.6L124.7 406.8L125.3 407.4L125.8 410.5L126.4 415.7L126.9 422.9L127.5 431.3L128 440.6L128.6 449.9L129.1 458.7L129.7 466.3L130.2 472.2L130.8 476L131.3 477.5L131.9 476.4L132.4 473L133 467.3L133.5 459.9L134.1 451.2L134.6 441.8L135.2 432.5L135.7 423.8L136.3 416.4L136.8 410.7L137.4 407.3L137.9 406.3L138.5 407.8L139 411.7L139.6 417.7L140.1 425.5L140.7 434.5L141.2 444L141.8 453.4L142.3 462L142.9 469.2L143.4 474.6L144 477.6L144.5 478.2L145.1 476.2L145.6 471.8L146.2 465.3L146.7 457.2L147.3 448L147.9 438.3L148.4 429L149 420.5L149.5 413.5L150.1 408.6L150.6 406L151.2 405.9L151.7 408.4L152.3 413.2L152.8 420.1L153.4 428.5L153.9 437.8L154.5 447.5L155 456.7L155.6 464.9L156.1 471.5L156.7 476L157.2 478.1L157.8 477.7L158.3 474.7L158.9 469.5L159.4 462.4L160 453.8L160.5 444.5L161.1 435L161.6 426.1L162.2 418.3L162.7 412.2L163.3 408.2L163.8 406.6L164.4 407.5L164.9 410.8L165.5 416.3L166 423.6L166.6 432.2L167.1 441.4L167.7 450.6L168.2 459.1L168.8 466.5L169.3 472.1L169.9 475.5L170.4 476.7L171 475.3L171.5 471.7L172.1 466L172.6 458.6L173.2 450.1L173.7 441.1L174.3 432.2L174.8 423.9L175.4 417L175.9 411.9L176.5 408.9L177 408.2L177.6 409.9L178.1 413.8L178.7 419.7L179.2 427.2L179.8 435.7L180.3 444.6L180.9 453.4L181.4 461.3L182 467.9L182.5 472.7L183.1 475.3L183.6 475.6L184.2 473.5L184.7 469.3L185.3 463.1L185.8 455.4L186.4 446.8L186.9 437.9L187.5 429.2L188 421.4L188.6 415.1L189.1 410.6L189.7 408.4L190.2 408.5L190.8 410.9L191.3 415.6L191.9 422.1L192.4 430.1L193 438.9L193.5 447.9L194.1 456.6L194.6 464.2L195.2 470.3L195.7 474.5L196.3 476.3L196.8 475.8L197.4 472.9L197.9 467.8L198.5 460.9L199 452.6L199.6 443.6L200.1 434.5L200.7 425.9L201.2 418.4L201.8 412.6L202.3 408.8L202.9 407.4L203.4 408.4L204 411.8L204.5 417.3L205.1 424.5L205.6 433L206.2 442.1L206.7 451.2L207.3 459.7L207.8 467L208.4 472.4L208.9 475.8L209.5 476.7L210 475.3L210.6 471.5L211.1 465.6L211.7 458.1L212.2 449.5L212.8 440.3L213.3 431.3L213.9 423.1L214.4 416.2L215 411.1L215.5 408.2L216.1 407.7L216.6 409.6L217.2 413.8L217.7 419.9L218.3 427.6L218.8 436.3L219.4 445.4L219.9 454.2L220.5 462.2L221 468.7L221.6 473.4L222.1 475.9L222.7 475.9L223.2 473.6L223.8 469.1L224.3 462.7L224.9 454.9L225.4 446.1L226 437.1L226.5 428.4L227.1 420.7L227.6 414.4L228.2 410.1L228.7 408.1L229.3 408.4L229.8 411.1L230.4 415.9L230.9 422.6L231.5 430.7L232 439.6L232.6 448.7L233.1 457.3L233.7 464.9L234.2 470.9L234.8 474.9L235.3 476.6L235.9 475.8L236.4 472.7L237 467.5L237.5 460.4L238.1 452L238.6 442.9L239.2 433.7L239.7 425L240.3 417.5L240.9 411.7L241.4 408L242 406.7L242.5 407.9L243.1 411.5L243.6 417.2L244.2 424.7L244.7 433.5L245.3 442.9L245.8 452.3L246.4 461L246.9 468.4L247.5 474L248 477.3L248.6 478.2L249.1 476.5L249.7 472.4L250.2 466.1L250.8 458.2L251.3 449.1L251.9 439.4L252.4 429.9L253 421.3L253.5 414.1L254.1 408.9L254.6 405.9L255.2 405.6L255.7 407.8L256.3 412.4L256.8 419.1L257.4 427.4L257.9 436.7L258.5 446.5L259 455.9L259.6 464.3L260.1 471.2L260.7 476L261.2 478.4L261.8 478.3L262.3 475.6L262.9 470.6L263.4 463.5L264 455L264.5 445.6L265.1 435.9L265.6 426.7L266.2 418.6L266.7 412.2L267.3 407.9L267.8 406L268.4 406.6L268.9 409.7L269.5 415L270 422.3L270.6 430.9L271.1 440.3L271.7 449.7L272.2 458.6L272.8 466.4L273.3 472.3L273.9 476.2L274.4 477.6L275 476.6L275.5 473.1L276.1 467.5L276.6 460L277.2 451.4L277.7 442.1L278.3 432.8L278.8 424.2L279.4 416.9L279.9 411.3L280.5 407.9L281 406.9L281.6 408.3L282.1 412.2L282.7 418.1L283.2 425.7L283.8 434.4L284.3 443.7L284.9 452.8L285.4 461.2L286 468.3L286.5 473.5L287.1 476.5L287.6 477.1L288.2 475.2L288.7 471L289.3 464.8L289.8 456.9L290.4 448L290.9 438.7L291.5 429.6L292 421.4L292.6 414.6L293.1 409.7L293.7 407.1L294.2 407L294.8 409.3L295.3 413.9L295.9 420.5L296.4 428.6L297 437.7L297.5 447.1L298.1 456.1L298.6 464.2L299.2 470.7L299.7 475.2L300.3 477.4L300.8 477.1L301.4 474.3L301.9 469.3L302.5 462.3L303 453.9L303.6 444.7L304.1 435.3L304.7 426.4L305.2 418.6L305.8 412.5L306.3 408.4L306.9 406.7L307.4 407.5L308 410.7L308.5 416.1L309.1 423.3L309.6 431.9L310.2 441.1L310.7 450.4L311.3 459L311.8 466.5L312.4 472.2L312.9 475.8L313.5 477L314 475.7L314.6 472.1L315.1 466.4L315.7 459L316.2 450.4L316.8 441.3L317.3 432.3L317.9 424L318.4 417L319 411.7L319.5 408.7L320.1 407.9L320.6 409.6L321.2 413.5L321.7 419.4L322.3 426.9L322.8 435.4L323.4 444.4L323.9 453.1L324.5 461.1L325 467.7L325.6 472.5L326.1 475.1L326.7 475.4L327.2 473.4L327.8 469.2L328.3 463.1L328.9 455.5L329.4 447L330 438.2L330.5 429.6L331.1 421.9L331.6 415.7L332.2 411.3L332.7 409L333.3 409.1L333.8 411.5L334.4 416L335 422.3L335.5 430.1L336.1 438.7L336.6 447.5L337.2 456L337.7 463.5L338.3 469.5L338.8 473.6L339.4 475.5L339.9 475.1L340.5 472.3L341 467.4L341.6 460.7L342.1 452.7L342.7 443.9L343.2 434.9L343.8 426.4L344.3 419L344.9 413.1L345.4 409.3L346 407.8L346.5 408.7L347.1 411.9L347.6 417.3L348.2 424.4L348.7 432.8L349.3 441.9L349.8 451L350.4 459.5L350.9 466.8L351.5 472.4L352 475.9L352.6 477L353.1 475.7L353.7 471.9L354.2 466.1L354.8 458.6L355.3 449.8L355.9 440.5L356.4 431.3L357 422.9L357.5 415.7L358.1 410.4L358.6 407.3L359.2 406.7L359.7 408.6L360.3 412.8L360.8 419L361.4 426.9L361.9 435.9L362.5 445.3L363 454.4L363.6 462.7L364.1 469.6L364.7 474.5L365.2 477.1L365.8 477.3L366.3 475L366.9 470.3L367.4 463.7L368 455.6L368.5 446.5L369.1 437.2L369.6 428.1L370.2 420.1L370.7 413.6L371.3 409.1L371.8 407L372.4 407.3L372.9 410L373.5 415L374 421.9L374.6 430.2L375.1 439.3L375.7 448.6L376.2 457.4L376.8 465.2L377.3 471.3L377.9 475.3L378.4 477.1L379 476.4L379.5 473.2L380.1 467.9L380.6 460.8L381.2 452.3L381.7 443.1L382.3 433.9L382.8 425.2L383.4 417.7L383.9 411.9L384.5 408.2L385 406.9L385.6 408L386.1 411.5L386.7 417.2L387.2 424.7L387.8 433.3L388.3 442.7L388.9 451.9L389.4 460.5L390 467.9L390.5 473.4L391.1 476.8L391.6 477.7L392.2 476.1L392.7 472.1L393.3 466L393.8 458.2L394.4 449.2L394.9 439.7L395.5 430.4L396 421.8L396.6 414.6L397.1 409.4L397.7 406.4L398.2 405.9L398.8 408L399.3 412.5L399.9 419L400.4 427.2L401 436.5L401.5 446.2L402.1 455.6L402.6 464L403.2 471L403.7 475.9L404.3 478.4L404.8 478.4L405.4 475.8L405.9 470.8L406.5 463.9L407 455.3L407.6 445.9L408.1 436.2L408.7 426.9L409.2 418.6L409.8 412L410.3 407.6L410.9 405.5L411.4 406.1L412 409.1L412.5 414.5L413.1 421.8L413.6 430.5L414.2 440L414.7 449.6L415.3 458.6L415.8 466.5L416.4 472.6L416.9 476.6L417.5 478.1L418 477.1L418.6 473.6L419.1 467.9L419.7 460.5L420.2 451.7L420.8 442.4L421.3 433L421.9 424.3L422.4 416.9L423 411.3L423.5 407.8L424.1 406.8L424.6 408.3L425.2 412.1L425.7 418L426.3 425.5L426.8 434.2L427.4 443.4L428 452.5L428.5 460.8L429.1 467.8L429.6 472.9L430.2 475.9L430.7 476.5L431.3 474.7L431.8 470.5L432.4 464.5L432.9 456.8L433.5 448.1L434 439.1L434.6 430.2L435.1 422.2L435.7 415.6L436.2 410.9L436.8 408.3L437.3 408.1L437.9 410.3L438.4 414.7L439 421.1L439.5 428.9L440.1 437.6L440.6 446.6L441.2 455.4L441.7 463.2L442.3 469.5L442.8 473.9L443.4 476L443.9 475.8L444.5 473.2L445 468.4L445.6 461.8L446.1 453.8L446.7 444.9L447.2 435.8L447.8 427.1L448.3 419.5L448.9 413.4L449.4 409.4L450 407.6L450.5 408.3L451.1 411.3L451.6 416.5L452.2 423.5L452.7 431.8L453.3 440.8L453.8 450L454.4 458.6L454.9 466L455.5 471.8L456 475.4L456.6 476.8L457.1 475.7L457.7 472.2L458.2 466.6L458.8 459.3L459.3 450.7L459.9 441.6L460.4 432.5L461 424.1L461.5 416.9L462.1 411.5L462.6 408.3L463.2 407.4L463.7 409L464.3 412.9L464.8 418.8L465.4 426.4L465.9 435L466.5 444.2L467 453.1L467.6 461.3L468.1 468.1L468.7 473L469.2 475.8L469.8 476.2L470.3 474.2L470.9 470L471.4 463.8L472 456L472.5 447.4L473.1 438.3L473.6 429.6L474.2 421.7L474.7 415.3L475.3 410.8L475.8 408.5L476.4 408.5L476.9 410.9L477.5 415.4L478 421.9L478.6 429.7L479.1 438.4L479.7 447.3L480.2 455.9L480.8 463.5L481.3 469.6L481.9 473.7L482.4 475.6L483 475.2L483.5 472.4L484.1 467.6L484.6 460.9L485.2 452.9L485.7 444.1L486.3 435.2L486.8 426.7L487.4 419.3L487.9 413.5L488.5 409.7L489 408.1L489.6 408.9L490.1 412.1L490.7 417.3L491.2 424.4L491.8 432.6L492.3 441.6L492.9 450.7L493.4 459.1L494 466.4L494.5 472L495.1 475.6L495.6 476.7L496.2 475.5L496.7 471.9L497.3 466.2L497.8 458.7L498.4 450.1L498.9 440.8L499.5 431.6L500 423.1L500.6 415.9L501.1 410.5L501.7 407.3L502.2 406.5L502.8 408.3L503.3 412.4L503.9 418.6L504.4 426.5L505 435.5L505.5 445L506.1 454.4L506.6 462.9L507.2 469.9L507.7 475L508.3 477.8L508.8 478.1L509.4 475.8L509.9 471.2L510.5 464.5L511 456.2L511.6 446.9L512.1 437.3L512.7 428L513.2 419.6L513.8 412.9L514.3 408.2L514.9 405.8L515.4 406.1L516 408.8L516.5 413.9L517.1 421L517.6 429.5L518.2 438.9L518.7 448.5L519.3 457.7L519.8 465.7L520.4 472.1L520.9 476.3L521.5 478.2" stroke="#D95319" stroke-width="2.3"/>
<path d="M53.2 473.3L53.8 475.9L54.3 476.2L54.9 474.1L55.4 469.7L56 463.4L56.5 455.6L57.1 446.9L57.6 437.8L58.2 429.1L58.7 421.2L59.3 414.8L59.8 410.3L60.4 408.1L60.9 408.2L61.5 410.7L62 415.3L62.6 421.9L63.1 429.9L63.7 438.8L64.2 447.9L64.8 456.7L65.3 464.4L65.9 470.6L66.4 474.8L67 476.7L67.5 476.2L68.1 473.3L68.6 468.2L69.2 461.2L69.7 452.8L70.3 443.7L70.8 434.4L71.4 425.6L71.9 417.9L72.5 411.9L73 407.9L73.6 406.4L74.1 407.4L74.7 410.8L75.2 416.4L75.8 423.9L76.3 432.6L76.9 442.1L77.4 451.6L78 460.5L78.5 468.1L79.1 473.9L79.6 477.5L80.2 478.6L80.7 477.1L81.3 473.2L81.8 467L82.4 459.1L82.9 450L83.5 440.2L84 430.6L84.6 421.8L85.1 414.4L85.7 408.9L86.2 405.8L86.8 405.2L87.3 407.1L87.9 411.6L88.4 418.2L89 426.5L89.5 435.8L90.1 445.6L90.6 455.2L91.2 463.8L91.7 470.9L92.3 475.9L92.8 478.6L93.4 478.7L93.9 476.2L94.5 471.3L95 464.4L95.6 455.9L96.1 446.5L96.7 436.7L97.2 427.4L97.8 419.1L98.3 412.4L98.9 407.9L99.4 405.7L100 406.1L100.5 409L101.1 414.2L101.6 421.4L102.2 430L102.7 439.4L103.3 449L103.8 458.1L104.4 466.1L104.9 472.4L105.5 476.5L106 478.2L106.6 477.4L107.1 474.1L107.7 468.5L108.2 461.1L108.8 452.4L109.3 442.9L109.9 433.4L110.4 424.5L111 416.8L111.5 410.9L112.1 407.1L112.6 405.9L113.2 407.1L113.7 410.8L114.3 416.7L114.8 424.4L115.4 433.3L115.9 442.9L116.5 452.4L117 461.2L117.6 468.7L118.1 474.3L118.7 477.7L119.2 478.5L119.8 476.8L120.3 472.7L120.9 466.3L121.4 458.3L122 449.1L122.5 439.4L123.1 429.9L123.6 421.2L124.2 414L124.7 408.7L125.3 405.8L125.8 405.4L126.4 407.6L126.9 412.2L127.5 418.9L128 427.3L128.6 436.7L129.1 446.4L129.7 455.9L130.2 464.4L130.8 471.3L131.3 476.1L131.9 478.5L132.4 478.4L133 475.7L133.5 470.7L134.1 463.6L134.6 455.1L135.2 445.6L135.7 436L136.3 426.8L136.8 418.6L137.4 412.2L137.9 407.9L138.5 406L139 406.6L139.6 409.7L140.1 415.1L140.7 422.3L141.2 430.9L141.8 440.3L142.3 449.7L142.9 458.5L143.4 466.2L144 472.1L144.5 475.9L145.1 477.3L145.6 476.2L146.2 472.8L146.7 467.2L147.3 459.8L147.9 451.3L148.4 442.1L149 433L149.5 424.5L150.1 417.3L150.6 411.9L151.2 408.6L151.7 407.6L152.3 409.1L152.8 412.8L153.4 418.6L153.9 426L154.5 434.6L155 443.6L155.6 452.5L156.1 460.7L156.7 467.5L157.2 472.6L157.8 475.5L158.3 476.1L158.9 474.3L159.4 470.2L160 464.1L160.5 456.5L161.1 447.9L161.6 438.9L162.2 430L162.7 422L163.3 415.4L163.8 410.6L164.4 408.1L164.9 407.9L165.5 410.1L166 414.6L166.6 421L167.1 428.9L167.7 437.8L168.2 446.9L168.8 455.8L169.3 463.8L169.9 470.2L170.4 474.7L171 476.9L171.5 476.6L172.1 473.9L172.6 469L173.2 462.2L173.7 453.9L174.3 444.7L174.8 435.4L175.4 426.5L175.9 418.6L176.5 412.4L177 408.3L177.6 406.5L178.1 407.2L178.7 410.4L179.2 415.8L179.8 423.1L180.3 431.7L180.9 441L181.4 450.5L182 459.3L182.5 466.9L183.1 472.8L183.6 476.6L184.2 477.9L184.7 476.6L185.3 473L185.8 467.2L186.4 459.6L186.9 450.8L187.5 441.3L188 432L188.6 423.3L189.1 416L189.7 410.5L190.2 407.2L190.8 406.4L191.3 408.1L191.9 412.2L192.4 418.3L193 426.1L193.5 435.1L194.1 444.5L194.6 453.7L195.2 462.1L195.7 469.1L196.3 474.2L196.8 477L197.4 477.4L197.9 475.3L198.5 470.8L199 464.4L199.6 456.4L200.1 447.3L200.7 438L201.2 428.8L201.8 420.7L202.3 414L202.9 409.2L203.4 406.8L204 406.9L204.5 409.4L205.1 414.2L205.6 421L206.2 429.2L206.7 438.4L207.3 447.9L207.8 457L208.4 465L208.9 471.5L209.5 475.9L210 477.9L210.6 477.5L211.1 474.5L211.7 469.3L212.2 462.1L212.8 453.5L213.3 444L213.9 434.4L214.4 425.3L215 417.3L215.5 411L216.1 406.9L216.6 405.3L217.2 406.2L217.7 409.7L218.3 415.4L218.8 423.1L219.4 432.1L219.9 441.8L220.5 451.6L221 460.7L221.6 468.6L222.1 474.6L222.7 478.3L223.2 479.5L223.8 478L224.3 474L224.9 467.8L225.4 459.7L226 450.4L226.5 440.5L227.1 430.7L227.6 421.7L228.2 414.1L228.7 408.5L229.3 405.2L229.8 404.6L230.4 406.6L230.9 411.1L231.5 417.7L232 426.1L232.6 435.5L233.1 445.4L233.7 455L234.2 463.7L234.8 470.9L235.3 476L235.9 478.7L236.4 478.8L237 476.4L237.5 471.5L238.1 464.6L238.6 456.1L239.2 446.7L239.7 437L240.3 427.7L240.9 419.4L241.4 412.8L242 408.2L242.5 406L243.1 406.4L243.6 409.2L244.2 414.3L244.7 421.4L245.3 429.9L245.8 439.2L246.4 448.7L246.9 457.6L247.5 465.5L248 471.7L248.6 475.7L249.1 477.5L249.7 476.7L250.2 473.5L250.8 468.1L251.3 460.9L251.9 452.4L252.4 443.2L253 433.9L253.5 425.2L254.1 417.7L254.6 411.9L255.2 408.3L255.7 407L256.3 408.1L256.8 411.7L257.4 417.3L257.9 424.8L258.5 433.4L259 442.6L259.6 451.8L260.1 460.3L260.7 467.6L261.2 473L261.8 476.3L262.3 477.2L262.9 475.6L263.4 471.7L264 465.6L264.5 457.9L265.1 449.1L265.6 439.8L266.2 430.6L266.7 422.2L267.3 415.2L267.8 410.1L268.4 407.2L268.9 406.7L269.5 408.8L270 413.1L270.6 419.6L271.1 427.6L271.7 436.6L272.2 446L272.8 455.2L273.3 463.4L273.9 470.1L274.4 474.9L275 477.3L275.5 477.3L276.1 474.8L276.6 469.9L277.2 463.2L277.7 454.9L278.3 445.8L278.8 436.4L279.4 427.4L279.9 419.5L280.5 413.1L281 408.8L281.6 406.9L282.1 407.4L282.7 410.4L283.2 415.5L283.8 422.5L284.3 430.9L284.9 440L285.4 449.3L286 458L286.5 465.6L287.1 471.5L287.6 475.3L288.2 476.8L288.7 475.8L289.3 472.5L289.8 467.1L290.4 459.9L290.9 451.4L291.5 442.4L292 433.3L292.6 424.9L293.1 417.7L293.7 412.2L294.2 408.8L294.8 407.7L295.3 409.1L295.9 412.7L296.4 418.4L297 425.8L297.5 434.3L298.1 443.4L298.6 452.3L299.2 460.6L299.7 467.5L300.3 472.7L300.8 475.7L301.4 476.4L301.9 474.7L302.5 470.6L303 464.6L303.6 456.9L304.1 448.2L304.7 439.1L305.2 430.1L305.8 421.9L306.3 415.1L306.9 410.2L307.4 407.5L308 407.2L308.5 409.3L309.1 413.8L309.6 420.3L310.2 428.4L310.7 437.4L311.3 446.8L311.8 455.9L312.4 464.1L312.9 470.8L313.5 475.5L314 477.8L314.6 477.7L315.1 475L315.7 470L316.2 463L316.8 454.5L317.3 445.1L317.9 435.4L318.4 426.2L319 418.1L319.5 411.6L320.1 407.2L320.6 405.3L321.2 406L321.7 409.2L322.3 414.7L322.8 422.2L323.4 431.1L323.9 440.7L324.5 450.5L325 459.7L325.6 467.7L326.1 473.8L326.7 477.8L327.2 479.2L327.8 478L328.3 474.3L328.9 468.3L329.4 460.5L330 451.4L330.5 441.6L331.1 431.9L331.6 422.9L332.2 415.2L332.7 409.5L333.3 406L333.8 405.1L334.4 406.8L335 411L335.5 417.3L336.1 425.4L336.6 434.6L337.2 444.3L337.7 453.8L338.3 462.5L338.8 469.7L339.4 475L339.9 478L340.5 478.4L341 476.3L341.6 471.8L342.1 465.2L342.7 457L343.2 447.7L343.8 438.1L344.3 428.8L344.9 420.4L345.4 413.6L346 408.7L346.5 406.2L347.1 406.2L347.6 408.8L348.2 413.6L348.7 420.5L349.3 428.8L349.8 438.1L350.4 447.7L350.9 456.9L351.5 465L352 471.5L352.6 476L353.1 478.1L353.7 477.6L354.2 474.7L354.8 469.5L355.3 462.3L355.9 453.7L356.4 444.3L357 434.7L357.5 425.6L358.1 417.6L358.6 411.4L359.2 407.3L359.7 405.6L360.3 406.5L360.8 409.9L361.4 415.6L361.9 423.1L362.5 432L363 441.6L363.6 451.2L364.1 460.2L364.7 467.9L365.2 473.9L365.8 477.5L366.3 478.7L366.9 477.4L367.4 473.5L368 467.4L368.5 459.5L369.1 450.5L369.6 440.8L370.2 431.2L370.7 422.4L371.3 415L371.8 409.5L372.4 406.3L372.9 405.6L373.5 407.5L374 411.8L374.6 418.2L375.1 426.3L375.7 435.4L376.2 445L376.8 454.4L377.3 462.9L377.9 469.8L378.4 474.8L379 477.5L379.5 477.7L380.1 475.4L380.6 470.7L381.2 464.1L381.7 455.9L382.3 446.8L382.8 437.4L383.4 428.4L383.9 420.4L384.5 413.9L385 409.5L385.6 407.3L386.1 407.6L386.7 410.2L387.2 415.2L387.8 421.9L388.3 430.1L388.9 439L389.4 448.2L390 456.9L390.5 464.5L391.1 470.5L391.6 474.5L392.2 476.2L392.7 475.6L393.3 472.5L393.8 467.4L394.4 460.5L394.9 452.3L395.5 443.4L396 434.4L396.6 425.9L397.1 418.6L397.7 413L398.2 409.3L398.8 408L399.3 409L399.9 412.4L400.4 417.8L401 425L401.5 433.4L402.1 442.4L402.6 451.3L403.2 459.7L403.7 466.8L404.3 472.3L404.8 475.6L405.4 476.5L405.9 475.1L406.5 471.3L407 465.4L407.6 457.9L408.1 449.3L408.7 440.1L409.2 431L409.8 422.6L410.3 415.6L410.9 410.5L411.4 407.5L412 407L412.5 408.9L413.1 413.1L413.6 419.5L414.2 427.4L414.7 436.4L415.3 445.8L415.8 454.9L416.4 463.2L416.9 470L417.5 474.9L418 477.5L418.6 477.5L419.1 475.1L419.7 470.4L420.2 463.6L420.8 455.3L421.3 446.1L421.9 436.6L422.4 427.4L423 419.3L423.5 412.8L424.1 408.3L424.6 406.2L425.2 406.7L425.7 409.6L426.3 414.8L426.8 421.9L427.4 430.4L428 439.7L428.5 449.2L429.1 458.2L429.6 466L430.2 472.2L430.7 476.2L431.3 477.8L431.8 476.9L432.4 473.6L432.9 468L433.5 460.7L434 452L434.6 442.7L435.1 433.3L435.7 424.5L436.2 417L436.8 411.2L437.3 407.6L437.9 406.4L438.4 407.8L439 411.5L439.5 417.4L440.1 425L440.6 433.8L441.2 443.2L441.7 452.5L442.3 461.1L442.8 468.3L443.4 473.8L443.9 477L444.5 477.7L445 476L445.6 471.9L446.1 465.6L446.7 457.7L447.2 448.7L447.8 439.2L448.3 429.9L448.9 421.4L449.4 414.3L450 409.2L450.5 406.3L451.1 406L451.6 408.2L452.2 412.7L452.7 419.4L453.3 427.7L453.8 437L454.4 446.7L454.9 456.1L455.5 464.6L456 471.5L456.6 476.3L457.1 478.8L457.7 478.6L458.2 475.9L458.8 470.9L459.3 463.7L459.9 455L460.4 445.4L461 435.6L461.5 426.1L462.1 417.8L462.6 411.1L463.2 406.7L463.7 404.7L464.3 405.3L464.8 408.5L465.4 414.1L465.9 421.7L466.5 430.6L467 440.4L467.6 450.3L468.1 459.7L468.7 467.7L469.2 474L469.8 478L470.3 479.5L470.9 478.3L471.4 474.6L472 468.6L472.5 460.8L473.1 451.6L473.6 441.9L474.2 432.1L474.7 423.1L475.3 415.4L475.8 409.7L476.4 406.2L476.9 405.3L477.5 406.9L478 411L478.6 417.3L479.1 425.2L479.7 434.4L480.2 444L480.8 453.4L481.3 462L481.9 469.2L482.4 474.4L483 477.4L483.5 477.8L484.1 475.8L484.6 471.4L485.2 464.9L485.7 456.9L486.3 447.9L486.8 438.5L487.4 429.3L487.9 421.1L488.5 414.4L489 409.7L489.6 407.2L490.1 407.2L490.7 409.6L491.2 414.3L491.8 420.9L492.3 429L492.9 438L493.4 447.2L494 456.1L494.5 464L495.1 470.4L495.6 474.8L496.2 476.8L496.7 476.4L497.3 473.7L497.8 468.7L498.4 461.8L498.9 453.5L499.5 444.5L500 435.2L500.6 426.4L501.1 418.7L501.7 412.7L502.2 408.7L502.8 407L503.3 407.8L503.9 411L504.4 416.4L505 423.6L505.5 432.1L506.1 441.3L506.6 450.6L507.2 459.3L507.7 466.8L508.3 472.6L508.8 476.2L509.4 477.4L509.9 476.2L510.5 472.5L511 466.7L511.6 459.2L512.1 450.4L512.7 441.1L513.2 431.8L513.8 423.2L514.3 416L514.9 410.6L515.4 407.4L516 406.6L516.5 408.4L517.1 412.5L517.6 418.6L518.2 426.4L518.7 435.3L519.3 444.7L519.8 453.9L520.4 462.2L520.9 469.1L521.5 474" stroke="#A2142F" stroke-width="2.3"/>
<path d="M53.2 409.5L53.8 407.1L54.3 407.2L54.9 409.7L55.4 414.5L56 421.3L56.5 429.6L57.1 438.7L57.6 448.2L58.2 457.3L58.7 465.4L59.3 471.8L59.8 476.2L60.4 478.2L60.9 477.7L61.5 474.6L62 469.3L62.6 462L63.1 453.2L63.7 443.7L64.2 434L64.8 424.8L65.3 416.8L65.9 410.6L66.4 406.6L67 405L67.5 406.1L68.1 409.7L68.6 415.6L69.2 423.3L69.7 432.4L70.3 442.2L70.8 451.9L71.4 461L71.9 468.8L72.5 474.6L73 478.2L73.6 479.2L74.1 477.6L74.7 473.5L75.2 467.3L75.8 459.2L76.3 449.9L76.9 440.1L77.4 430.5L78 421.7L78.5 414.3L79.1 408.9L79.6 405.9L80.2 405.4L80.7 407.4L81.3 411.9L81.8 418.5L82.4 426.7L82.9 436L83.5 445.7L84 455.1L84.6 463.5L85.1 470.5L85.7 475.4L86.2 478L86.8 478L87.3 475.6L87.9 470.8L88.4 463.9L89 455.6L89.5 446.3L90.1 436.7L90.6 427.6L91.2 419.4L91.7 412.8L92.3 408.3L92.8 406.2L93.4 406.5L93.9 409.4L94.5 414.5L95 421.6L95.6 430.1L96.1 439.5L96.7 449.1L97.2 458.1L97.8 466.1L98.3 472.3L98.9 476.5L99.4 478.2L100 477.4L100.5 474.1L101.1 468.6L101.6 461.2L102.2 452.4L102.7 442.9L103.3 433.3L103.8 424.3L104.4 416.6L104.9 410.6L105.5 406.9L106 405.6L106.6 406.9L107.1 410.6L107.7 416.6L108.2 424.3L108.8 433.4L109.3 443L109.9 452.5L110.4 461.4L111 468.8L111.5 474.4L112.1 477.7L112.6 478.4L113.2 476.7L113.7 472.4L114.3 466.1L114.8 458.1L115.4 449L115.9 439.4L116.5 430L117 421.5L117.6 414.5L118.1 409.4L118.7 406.7L119.2 406.4L119.8 408.6L120.3 413.2L120.9 419.8L121.4 427.9L122 437L122.5 446.3L123.1 455.4L123.6 463.5L124.2 470L124.7 474.5L125.3 476.8L125.8 476.6L126.4 474L126.9 469.1L127.5 462.4L128 454.3L128.6 445.4L129.1 436.2L129.7 427.5L130.2 419.9L130.8 413.8L131.3 409.7L131.9 407.9L132.4 408.5L133 411.5L133.5 416.5L134.1 423.4L134.6 431.5L135.2 440.4L135.7 449.4L136.3 457.9L136.8 465.2L137.4 470.9L137.9 474.7L138.5 476.1L139 475.1L139.6 471.8L140.1 466.5L140.7 459.4L141.2 451L141.8 442.1L142.3 433.1L142.9 424.7L143.4 417.5L144 412L144.5 408.5L145.1 407.5L145.6 408.9L146.2 412.6L146.7 418.4L147.3 425.8L147.9 434.5L148.4 443.7L149 452.9L149.5 461.3L150.1 468.4L150.6 473.7L151.2 476.7L151.7 477.4L152.3 475.6L152.8 471.3L153.4 465.1L153.9 457.1L154.5 448.1L155 438.6L155.6 429.4L156.1 421L156.7 414L157.2 409L157.8 406.4L158.3 406.2L158.9 408.6L159.4 413.3L160 420L160.5 428.4L161.1 437.6L161.6 447.2L162.2 456.5L162.7 464.7L163.3 471.4L163.8 475.9L164.4 478.1L164.9 477.8L165.5 475L166 469.8L166.6 462.7L167.1 454.1L167.7 444.7L168.2 435.2L168.8 426.1L169.3 418.1L169.9 411.9L170.4 407.7L171 406L171.5 406.8L172.1 410.1L172.6 415.6L173.2 423L173.7 431.7L174.3 441.1L174.8 450.6L175.4 459.4L175.9 467.1L176.5 473L177 476.7L177.6 477.9L178.1 476.7L178.7 473L179.2 467.2L179.8 459.6L180.3 450.7L180.9 441.3L181.4 431.8L182 423.1L182.5 415.7L183.1 410.2L183.6 406.8L184.2 406L184.7 407.7L185.3 411.7L185.8 418L186.4 425.9L186.9 435L187.5 444.6L188 454L188.6 462.7L189.1 469.9L189.7 475.2L190.2 478.1L190.8 478.6L191.3 476.4L191.9 471.9L192.4 465.2L193 456.9L193.5 447.5L194.1 437.7L194.6 428.2L195.2 419.6L195.7 412.6L196.3 407.7L196.8 405.1L197.4 405.2L197.9 407.8L198.5 412.9L199 420L199.6 428.7L200.1 438.3L200.7 448.2L201.2 457.7L201.8 466L202.3 472.7L202.9 477.2L203.4 479.3L204 478.7L204.5 475.5L205.1 470L205.6 462.6L206.2 453.7L206.7 444L207.3 434.2L207.8 425L208.4 417L208.9 410.8L209.5 406.8L210 405.3L210.6 406.4L211.1 410L211.7 415.8L212.2 423.4L212.8 432.4L213.3 441.9L213.9 451.4L214.4 460.2L215 467.7L215.5 473.4L216.1 476.8L216.6 477.8L217.2 476.3L217.7 472.4L218.3 466.3L218.8 458.6L219.4 449.8L219.9 440.5L220.5 431.3L221 422.9L221.6 415.9L222.1 410.8L222.7 407.8L223.2 407.3L223.8 409.2L224.3 413.4L224.9 419.6L225.4 427.3L226 436.1L226.5 445.2L227.1 454.2L227.6 462.2L228.2 468.9L228.7 473.6L229.3 476.2L229.8 476.3L230.4 474.1L230.9 469.6L231.5 463.1L232 455.2L232.6 446.4L233.1 437.2L233.7 428.4L234.2 420.5L234.8 414.1L235.3 409.7L235.9 407.5L236.4 407.8L237 410.4L237.5 415.3L238.1 422.1L238.6 430.3L239.2 439.3L239.7 448.6L240.3 457.4L240.9 465.2L241.4 471.3L242 475.4L242.5 477.2L243.1 476.5L243.6 473.3L244.2 468L244.7 460.8L245.3 452.3L245.8 443.1L246.4 433.8L246.9 425L247.5 417.4L248 411.6L248.6 407.9L249.1 406.6L249.7 407.8L250.2 411.4L250.8 417.1L251.3 424.6L251.9 433.4L252.4 442.7L253 452L253.5 460.6L254.1 467.8L254.6 473.3L255.2 476.5L255.7 477.4L256.3 475.7L256.8 471.7L257.4 465.6L257.9 457.9L258.5 449L259 439.7L259.6 430.6L260.1 422.3L260.7 415.4L261.2 410.3L261.8 407.5L262.3 407.2L262.9 409.2L263.4 413.6L264 420L264.5 427.9L265.1 436.8L265.6 446L266.2 455L266.7 463.1L267.3 469.6L267.8 474.3L268.4 476.7L268.9 476.7L269.5 474.2L270 469.5L270.6 462.8L271.1 454.7L271.7 445.7L272.2 436.4L272.8 427.5L273.3 419.5L273.9 413.2L274.4 408.8L275 406.8L275.5 407.2L276.1 410.1L276.6 415.3L277.2 422.3L277.7 430.8L278.3 440.1L278.8 449.5L279.4 458.5L279.9 466.4L280.5 472.6L281 476.6L281.6 478.3L282.1 477.4L282.7 474L283.2 468.4L283.8 460.8L284.3 452L284.9 442.3L285.4 432.7L286 423.6L286.5 415.8L287.1 409.8L287.6 406.1L288.2 404.9L288.7 406.3L289.3 410.2L289.8 416.4L290.4 424.4L290.9 433.7L291.5 443.6L292 453.3L292.6 462.3L293.1 469.9L293.7 475.6L294.2 478.8L294.8 479.5L295.3 477.6L295.9 473.1L296.4 466.5L297 458.1L297.5 448.7L298.1 438.7L298.6 429.1L299.2 420.3L299.7 413.1L300.3 408L300.8 405.2L301.4 405.1L301.9 407.5L302.5 412.4L303 419.3L303.6 427.8L304.1 437.3L304.7 447.1L305.2 456.5L305.8 464.8L306.3 471.5L306.9 476.2L307.4 478.4L308 478L308.5 475.2L309.1 470L309.6 462.9L310.2 454.4L310.7 445L311.3 435.4L311.8 426.4L312.4 418.5L312.9 412.2L313.5 408.1L314 406.3L314.6 407.1L315.1 410.3L315.7 415.7L316.2 423L316.8 431.6L317.3 440.9L317.9 450.2L318.4 459L319 466.6L319.5 472.5L320.1 476.2L320.6 477.5L321.2 476.4L321.7 472.8L322.3 467.1L322.8 459.6L323.4 450.9L323.9 441.5L324.5 432.2L325 423.6L325.6 416.3L326.1 410.7L326.7 407.4L327.2 406.5L327.8 408.1L328.3 412L328.9 418.1L329.4 425.9L330 434.8L330.5 444.3L331.1 453.6L331.6 462.1L332.2 469.2L332.7 474.3L333.3 477.3L333.8 477.7L334.4 475.7L335 471.2L335.5 464.8L336.1 456.7L336.6 447.6L337.2 438.1L337.7 428.9L338.3 420.6L338.8 413.9L339.4 409.1L339.9 406.7L340.5 406.7L341 409.2L341.6 414.1L342.1 420.8L342.7 429.1L343.2 438.2L343.8 447.6L344.3 456.6L344.9 464.5L345.4 470.9L346 475.1L346.5 477.1L347.1 476.6L347.6 473.6L348.2 468.5L348.7 461.5L349.3 453.2L349.8 444.1L350.4 434.9L350.9 426.3L351.5 418.8L352 412.9L352.6 409.1L353.1 407.6L353.7 408.5L354.2 411.8L354.8 417.2L355.3 424.3L355.9 432.7L356.4 441.7L357 450.7L357.5 459L358.1 466.2L358.6 471.7L359.2 475.1L359.7 476.2L360.3 474.9L360.8 471.3L361.4 465.6L361.9 458.3L362.5 449.8L363 440.8L363.6 431.8L364.1 423.6L364.7 416.6L365.2 411.4L365.8 408.3L366.3 407.6L366.9 409.3L367.4 413.3L368 419.4L368.5 427L369.1 435.8L369.6 445L370.2 454.1L370.7 462.3L371.3 469.2L371.8 474.2L372.4 476.9L372.9 477.3L373.5 475.1L374 470.6L374.6 464.1L375.1 455.9L375.7 446.8L376.2 437.3L376.8 428.1L377.3 419.8L377.9 413L378.4 408.3L379 405.9L379.5 406.1L380.1 408.8L380.6 413.8L381.2 420.9L381.7 429.4L382.3 438.9L382.8 448.7L383.4 457.9L383.9 466.1L384.5 472.6L385 477L385.6 478.9L386.1 478.2L386.7 475L387.2 469.4L387.8 462L388.3 453.1L388.9 443.4L389.4 433.7L390 424.5L390.5 416.6L391.1 410.5L391.6 406.6L392.2 405.2L392.7 406.4L393.3 410.1L393.8 416L394.4 423.8L394.9 432.8L395.5 442.4L396 452.1L396.6 461L397.1 468.5L397.7 474.2L398.2 477.6L398.8 478.5L399.3 476.9L399.9 472.8L400.4 466.5L401 458.6L401.5 449.5L402.1 439.9L402.6 430.5L403.2 421.9L403.7 414.7L404.3 409.4L404.8 406.5L405.4 406L405.9 408.1L406.5 412.5L407 419L407.6 427.2L408.1 436.3L408.7 445.9L409.2 455.2L409.8 463.6L410.3 470.5L410.9 475.4L411.4 477.9L412 478L412.5 475.5L413.1 470.7L413.6 463.8L414.2 455.4L414.7 446.1L415.3 436.4L415.8 427.2L416.4 418.9L416.9 412.3L417.5 407.8L418 405.6L418.6 406L419.1 409L419.7 414.3L420.2 421.5L420.8 430.2L421.3 439.7L421.9 449.5L422.4 458.7L423 466.7L423.5 473L424.1 477.2L424.6 478.8L425.2 477.9L425.7 474.5L426.3 468.8L426.8 461.2L427.4 452.2L428 442.6L428.5 432.9L429.1 423.9L429.6 416.2L430.2 410.3L430.7 406.7L431.3 405.5L431.8 406.9L432.4 410.8L432.9 416.9L433.5 424.7L434 433.7L434.6 443.2L435.1 452.7L435.7 461.3L436.2 468.6L436.8 474L437.3 477.1L437.9 477.7L438.4 475.9L439 471.6L439.5 465.3L440.1 457.5L440.6 448.5L441.2 439.2L441.7 430.1L442.3 421.9L442.8 415.1L443.4 410.3L443.9 407.7L444.5 407.5L445 409.7L445.6 414.2L446.1 420.7L446.7 428.5L447.2 437.4L447.8 446.5L448.3 455.2L448.9 463.1L449.4 469.4L450 473.8L450.5 476L451.1 475.8L451.6 473.2L452.2 468.5L452.7 461.9L453.3 453.9L453.8 445.1L454.4 436.1L454.9 427.4L455.5 419.9L456 413.8L456.6 409.7L457.1 407.9L457.7 408.5L458.2 411.5L458.8 416.6L459.3 423.4L459.9 431.7L460.4 440.6L461 449.7L461.5 458.3L462.1 465.8L462.6 471.6L463.2 475.4L463.7 476.8L464.3 475.8L464.8 472.5L465.4 466.9L465.9 459.6L466.5 451L467 441.8L467.6 432.5L468.1 423.9L468.7 416.6L469.2 411L469.8 407.5L470.3 406.5L470.9 408L471.4 411.9L472 417.9L472.5 425.7L473.1 434.6L473.6 444L474.2 453.4L474.7 461.9L475.3 469.1L475.8 474.3L476.4 477.4L476.9 477.9L477.5 475.9L478 471.5L478.6 465.1L479.1 457L479.7 447.9L480.2 438.4L480.8 429.1L481.3 420.7L481.9 413.9L482.4 409L483 406.5L483.5 406.5L484.1 408.9L484.6 413.7L485.2 420.5L485.7 428.7L486.3 438L486.8 447.4L487.4 456.5L487.9 464.6L488.5 471.1L489 475.5L489.6 477.6L490.1 477.2L490.7 474.3L491.2 469.2L491.8 462.1L492.3 453.7L492.9 444.4L493.4 435L494 426.1L494.5 418.3L495.1 412.1L495.6 408L496.2 406.4L496.7 407.2L497.3 410.5L497.8 416L498.4 423.3L498.9 432L499.5 441.4L500 450.8L500.6 459.7L501.1 467.4L501.7 473.2L502.2 477L502.8 478.2L503.3 477L503.9 473.3L504.4 467.3L505 459.6L505.5 450.6L506.1 441L506.6 431.4L507.2 422.5L507.7 415L508.3 409.4L508.8 406L509.4 405.2L509.9 406.9L510.5 411.1L511 417.6L511.6 425.7L512.1 435.1L512.7 444.9L513.2 454.6L513.8 463.4L514.3 470.7L514.9 476.1L515.4 479L516 479.3L516.5 477L517.1 472.3L517.6 465.4L518.2 456.9L518.7 447.3L519.3 437.4L519.8 427.8L520.4 419.2L520.9 412.2L521.5 407.3" stroke="#7E2F8E" stroke-width="2.3"/>
<path d="M53.2 417.1L53.8 411.9L54.3 408.9L54.9 408.1L55.4 409.8L56 413.7L56.5 419.7L57.1 427.2L57.6 435.7L58.2 444.7L58.7 453.6L59.3 461.6L59.8 468.3L60.4 473.1L60.9 475.7L61.5 476L62 473.9L62.6 469.6L63.1 463.3L63.7 455.5L64.2 446.8L64.8 437.7L65.3 429L65.9 421.1L66.4 414.8L67 410.3L67.5 408.1L68.1 408.3L68.6 410.8L69.2 415.6L69.7 422.2L70.3 430.2L70.8 439L71.4 448L71.9 456.6L72.5 464.1L73 470.1L73.6 474.1L74.1 475.8L74.7 475.2L75.2 472.2L75.8 467.2L76.3 460.3L76.9 452.3L77.4 443.5L78 434.6L78.5 426.3L79.1 419.2L79.6 413.6L80.2 410.1L80.7 408.8L81.3 409.9L81.8 413.2L82.4 418.5L82.9 425.4L83.5 433.5L84 442.2L84.6 450.9L85.1 458.8L85.7 465.6L86.2 470.7L86.8 473.8L87.3 474.7L87.9 473.2L88.4 469.6L89 464.1L89.5 457L90.1 448.9L90.6 440.3L91.2 431.9L91.7 424.2L92.3 417.7L92.8 413L93.4 410.3L93.9 409.9L94.5 411.7L95 415.6L95.6 421.4L96.1 428.6L96.7 436.8L97.2 445.3L97.8 453.6L98.3 461.1L98.9 467.3L99.4 471.7L100 474.1L100.5 474.2L101.1 472L101.6 467.7L102.2 461.6L102.7 454.2L103.3 445.8L103.8 437.2L104.4 428.9L104.9 421.5L105.5 415.5L106 411.4L106.6 409.4L107.1 409.7L107.7 412.3L108.2 417L108.8 423.4L109.3 431.2L109.9 439.8L110.4 448.5L111 456.9L111.5 464.2L112.1 470L112.6 473.9L113.2 475.5L113.7 474.8L114.3 471.7L114.8 466.6L115.4 459.7L115.9 451.6L116.5 442.7L117 433.8L117.6 425.5L118.1 418.3L118.7 412.7L119.2 409.2L119.8 408L120.3 409.2L120.9 412.7L121.4 418.3L122 425.5L122.5 434L123.1 443L123.6 452L124.2 460.2L124.7 467.3L125.3 472.5L125.8 475.6L126.4 476.4L126.9 474.7L127.5 470.8L128 464.8L128.6 457.2L129.1 448.6L129.7 439.5L130.2 430.5L130.8 422.4L131.3 415.7L131.9 410.8L132.4 408.2L133 407.9L133.5 410L134.1 414.3L134.6 420.6L135.2 428.4L135.7 437.2L136.3 446.3L136.8 455L137.4 462.9L137.9 469.3L138.5 473.7L139 476L139.6 475.8L140.1 473.3L140.7 468.6L141.2 462L141.8 454.1L142.3 445.3L142.9 436.3L143.4 427.7L144 420.1L144.5 414L145.1 410L145.6 408.2L146.2 408.7L146.7 411.6L147.3 416.7L147.9 423.5L148.4 431.6L149 440.5L149.5 449.4L150.1 457.9L150.6 465.2L151.2 471L151.7 474.7L152.3 476.1L152.8 475.1L153.4 471.8L153.9 466.4L154.5 459.3L155 451L155.6 442L156.1 433L156.7 424.6L157.2 417.5L157.8 412L158.3 408.6L158.9 407.6L159.4 409L160 412.7L160.5 418.5L161.1 426L161.6 434.6L162.2 443.8L162.7 452.8L163.3 461.2L163.8 468.2L164.4 473.4L164.9 476.4L165.5 477L166 475.1L166.6 470.9L167.1 464.7L167.7 456.8L168.2 448L168.8 438.6L169.3 429.5L169.9 421.3L170.4 414.5L171 409.6L171.5 407L172.1 406.8L172.6 409.2L173.2 413.8L173.7 420.5L174.3 428.7L174.8 437.8L175.4 447.2L175.9 456.3L176.5 464.3L177 470.8L177.6 475.3L178.1 477.5L178.7 477.1L179.2 474.3L179.8 469.2L180.3 462.2L180.9 453.8L181.4 444.6L182 435.2L182.5 426.4L183.1 418.6L183.6 412.5L184.2 408.5L184.7 406.8L185.3 407.7L185.8 410.9L186.4 416.3L186.9 423.5L187.5 432L188 441.2L188.6 450.4L189.1 459L189.7 466.4L190.2 472L190.8 475.5L191.3 476.7L191.9 475.4L192.4 471.8L193 466.1L193.5 458.8L194.1 450.3L194.6 441.2L195.2 432.3L195.7 424.1L196.3 417.1L196.8 411.9L197.4 408.9L197.9 408.2L198.5 409.9L199 413.8L199.6 419.7L200.1 427.1L200.7 435.6L201.2 444.5L201.8 453.2L202.3 461.1L202.9 467.6L203.4 472.4L204 475L204.5 475.3L205.1 473.2L205.6 469L206.2 462.9L206.7 455.4L207.3 446.9L207.8 438.1L208.4 429.6L208.9 421.9L209.5 415.7L210 411.3L210.6 409.1L211.1 409.2L211.7 411.6L212.2 416.1L212.8 422.5L213.3 430.2L213.9 438.8L214.4 447.6L215 456L215.5 463.5L216.1 469.4L216.6 473.5L217.2 475.3L217.7 474.8L218.3 472L218.8 467.1L219.4 460.4L219.9 452.4L220.5 443.7L221 434.9L221.6 426.5L222.1 419.3L222.7 413.6L223.2 409.9L223.8 408.5L224.3 409.4L224.9 412.6L225.4 417.9L226 424.9L226.5 433.1L227.1 442L227.6 450.8L228.2 459.1L228.7 466.1L229.3 471.5L229.8 474.8L230.4 475.8L230.9 474.4L231.5 470.8L232 465.1L232.6 457.8L233.1 449.4L233.7 440.5L234.2 431.7L234.8 423.7L235.3 416.9L235.9 411.9L236.4 409.1L237 408.5L237.5 410.4L238.1 414.4L238.6 420.4L239.2 427.9L239.7 436.3L240.3 445.2L240.9 453.8L241.4 461.6L242 467.9L242.5 472.5L243.1 474.9L243.6 475L244.2 472.8L244.7 468.4L245.3 462.2L245.8 454.6L246.4 446.1L246.9 437.4L247.5 429L248 421.6L248.6 415.6L249.1 411.5L249.7 409.5L250.2 409.8L250.8 412.4L251.3 417L251.9 423.4L252.4 431.1L253 439.6L253.5 448.2L254.1 456.4L254.6 463.5L255.2 469.1L255.7 472.9L256.3 474.5L256.8 473.8L257.4 470.8L257.9 465.9L258.5 459.3L259 451.4L259.6 443L260.1 434.4L260.7 426.4L261.2 419.4L261.8 414.1L262.3 410.7L262.9 409.5L263.4 410.6L264 413.8L264.5 419.1L265.1 426L265.6 434.1L266.2 442.7L266.7 451.3L267.3 459.3L267.8 466.1L268.4 471.2L268.9 474.3L269.5 475.1L270 473.6L270.6 469.9L271.1 464.2L271.7 457L272.2 448.6L272.8 439.8L273.3 431.1L273.9 423.1L274.4 416.4L275 411.5L275.5 408.8L276.1 408.3L276.6 410.3L277.2 414.4L277.7 420.6L278.3 428.3L278.8 436.9L279.4 446L279.9 454.8L280.5 462.8L281 469.3L281.6 473.9L282.1 476.3L282.7 476.3L283.2 473.8L283.8 469.2L284.3 462.6L284.9 454.5L285.4 445.6L286 436.4L286.5 427.5L287.1 419.7L287.6 413.5L288.2 409.2L288.7 407.2L289.3 407.7L289.8 410.6L290.4 415.8L290.9 422.7L291.5 431.1L292 440.2L292.6 449.4L293.1 458.1L293.7 465.7L294.2 471.6L294.8 475.5L295.3 477L295.9 476L296.4 472.6L297 467.1L297.5 459.9L298.1 451.4L298.6 442.3L299.2 433.1L299.7 424.6L300.3 417.3L300.8 411.8L301.4 408.4L301.9 407.4L302.5 408.8L303 412.5L303.6 418.3L304.1 425.8L304.7 434.4L305.2 443.5L305.8 452.5L306.3 460.7L306.9 467.7L307.4 472.8L308 475.7L308.5 476.3L309.1 474.5L309.6 470.4L310.2 464.3L310.7 456.7L311.3 448L311.8 439L312.4 430.1L312.9 422.1L313.5 415.5L314 410.7L314.6 408.2L315.1 408L315.7 410.2L316.2 414.7L316.8 421L317.3 428.9L317.9 437.7L318.4 446.8L319 455.6L319.5 463.4L320.1 469.7L320.6 474.2L321.2 476.3L321.7 476.1L322.3 473.4L322.8 468.6L323.4 461.9L323.9 453.8L324.5 444.8L325 435.6L325.6 426.9L326.1 419.2L326.7 413.1L327.2 409L327.8 407.3L328.3 407.9L328.9 411L329.4 416.3L330 423.4L330.5 431.8L331.1 440.9L331.6 450.2L332.2 458.9L332.7 466.4L333.3 472.2L333.8 475.9L334.4 477.2L335 476.1L335.5 472.6L336.1 466.9L336.6 459.4L337.2 450.8L337.7 441.5L338.3 432.2L338.8 423.7L339.4 416.4L339.9 411L340.5 407.7L341 406.8L341.6 408.5L342.1 412.4L342.7 418.5L343.2 426.2L343.8 435L344.3 444.3L344.9 453.4L345.4 461.7L346 468.6L346.5 473.6L347.1 476.4L347.6 476.8L348.2 474.7L348.7 470.4L349.3 464L349.8 456.2L350.4 447.3L350.9 438.2L351.5 429.3L352 421.4L352.6 414.9L353.1 410.4L353.7 408.1L354.2 408.2L354.8 410.7L355.3 415.3L355.9 421.8L356.4 429.7L357 438.5L357.5 447.4L358.1 456L358.6 463.5L359.2 469.5L359.7 473.6L360.3 475.4L360.8 474.9L361.4 472.1L361.9 467.2L362.5 460.5L363 452.6L363.6 444L364.1 435.2L364.7 427L365.2 419.8L365.8 414.2L366.3 410.6L366.9 409.2L367.4 410.1L368 413.2L368.5 418.4L369.1 425.2L369.6 433.1L370.2 441.7L370.7 450.3L371.3 458.4L371.8 465.2L372.4 470.5L372.9 473.7L373.5 474.7L374 473.5L374.6 470L375.1 464.6L375.7 457.5L376.2 449.4L376.8 440.8L377.3 432.2L377.9 424.4L378.4 417.7L379 412.8L379.5 409.9L380.1 409.2L380.6 410.9L381.2 414.8L381.7 420.5L382.3 427.8L382.8 436.2L383.4 444.9L383.9 453.5L384.5 461.2L385 467.7L385.6 472.3L386.1 474.9L386.7 475.1L387.2 473L387.8 468.7L388.3 462.6L388.9 455L389.4 446.4L390 437.6L390.5 429L391.1 421.4L391.6 415.2L392.2 410.8L392.7 408.7L393.3 408.9L393.8 411.5L394.4 416.1L394.9 422.7L395.5 430.6L396 439.2L396.6 448.1L397.1 456.6L397.7 464.1L398.2 470L398.8 473.9L399.3 475.6L399.9 474.9L400.4 472L401 466.9L401.5 460.1L402.1 452L402.6 443.2L403.2 434.4L403.7 426.1L404.3 419L404.8 413.4L405.4 409.9L405.9 408.7L406.5 409.8L407 413.1L407.6 418.5L408.1 425.5L408.7 433.7L409.2 442.5L409.8 451.2L410.3 459.2L410.9 466L411.4 471.2L412 474.3L412.5 475.1L413.1 473.6L413.6 469.9L414.2 464.2L414.7 457L415.3 448.8L415.8 440.1L416.4 431.5L416.9 423.7L417.5 417.2L418 412.4L418.6 409.7L419.1 409.3L419.7 411.2L420.2 415.2L420.8 421.2L421.3 428.6L421.9 436.9L422.4 445.6L423 454.1L423.5 461.7L424.1 468L424.6 472.4L425.2 474.8L425.7 474.8L426.3 472.5L426.8 468.1L427.4 461.9L428 454.2L428.5 445.7L429.1 436.9L429.6 428.4L430.2 420.9L430.7 414.8L431.3 410.6L431.8 408.7L432.4 409L432.9 411.7L433.5 416.5L434 423.2L434.6 431.2L435.1 440L435.7 448.9L436.2 457.5L436.8 464.9L437.3 470.8L437.9 474.7L438.4 476.3L439 475.5L439.5 472.3L440.1 467L440.6 460L441.2 451.6L441.7 442.5L442.3 433.4L442.8 424.8L443.4 417.5L443.9 411.8L444.5 408.2L445 407.1L445.6 408.3L446.1 412L446.7 417.8L447.2 425.3L447.8 434L448.3 443.3L448.9 452.5L449.4 461L450 468.2L450.5 473.5L451.1 476.7L451.6 477.4L452.2 475.6L452.7 471.5L453.3 465.3L453.8 457.4L454.4 448.5L454.9 439.1L455.5 430L456 421.6L456.6 414.8L457.1 409.8L457.7 407.1L458.2 406.9L458.8 409.2L459.3 413.7L459.9 420.2L460.4 428.3L461 437.3L461.5 446.6L462.1 455.6L462.6 463.6L463.2 470.1L463.7 474.6L464.3 476.8L464.8 476.6L465.4 473.9L465.9 469L466.5 462.3L467 454.1L467.6 445.1L468.1 435.9L468.7 427.1L469.2 419.5L469.8 413.4L470.3 409.3L470.9 407.6L471.4 408.3L472 411.3L472.5 416.5L473.1 423.5L473.6 431.7L474.2 440.7L474.7 449.8L475.3 458.3L475.8 465.6L476.4 471.3L476.9 475L477.5 476.3L478 475.2L478.6 471.8L479.1 466.3L479.7 459.1L480.2 450.7L480.8 441.7L481.3 432.8L481.9 424.5L482.4 417.4L483 412L483.5 408.8L484.1 407.8L484.6 409.3L485.2 413.1L485.7 418.9L486.3 426.4L486.8 434.9L487.4 444L487.9 452.9L488.5 461.1L489 468L489.6 473L490.1 475.9L490.7 476.4L491.2 474.5L491.8 470.3L492.3 464.1L492.9 456.4L493.4 447.6L494 438.4L494.5 429.5L495.1 421.5L495.6 414.8L496.2 410.1L496.7 407.7L497.3 407.6L497.8 410L498.4 414.6L498.9 421.2L499.5 429.2L500 438.1L500.6 447.3L501.1 456.2L501.7 464L502.2 470.3L502.8 474.6L503.3 476.7L503.9 476.2L504.4 473.4L505 468.4L505.5 461.5L506.1 453.3L506.6 444.3L507.2 435.1L507.7 426.5L508.3 419L508.8 413L509.4 409.2L509.9 407.7L510.5 408.5L511 411.8L511.6 417.1L512.1 424.2L512.7 432.5L513.2 441.5L513.8 450.4L514.3 458.8L514.9 465.9L515.4 471.4L516 474.8L516.5 475.8L517.1 474.5L517.6 470.9L518.2 465.3L518.7 458.1L519.3 449.8L519.8 441L520.4 432.3L520.9 424.3L521.5 417.6" stroke="#4DBEEE" stroke-width="2.0"/>
<path d="M53.2 475.8L53.8 475.2L54.3 472.2L54.9 467.1L55.4 460.3L56 452.1L56.5 443.3L57.1 434.5L57.6 426.2L58.2 419L58.7 413.4L59.3 409.9L59.8 408.7L60.4 409.7L60.9 413.1L61.5 418.5L62 425.5L62.6 433.7L63.1 442.4L63.7 451L64.2 459L64.8 465.8L65.3 470.9L65.9 474L66.4 474.8L67 473.3L67.5 469.7L68.1 464.1L68.6 456.9L69.2 448.8L69.7 440.2L70.3 431.7L70.8 424L71.4 417.6L71.9 412.9L72.5 410.2L73 409.8L73.6 411.6L74.1 415.6L74.7 421.4L75.2 428.7L75.8 436.9L76.3 445.5L76.9 453.8L77.4 461.3L78 467.5L78.5 471.8L79.1 474.1L79.6 474.2L80.2 472L80.7 467.7L81.3 461.6L81.8 454.1L82.4 445.7L82.9 437.1L83.5 428.7L84 421.3L84.6 415.4L85.1 411.2L85.7 409.3L86.2 409.6L86.8 412.2L87.3 416.9L87.9 423.4L88.4 431.3L89 439.9L89.5 448.7L90.1 457.1L90.6 464.5L91.2 470.3L91.7 474.1L92.3 475.7L92.8 475L93.4 471.9L93.9 466.7L94.5 459.7L95 451.5L95.6 442.6L96.1 433.6L96.7 425.2L97.2 417.9L97.8 412.3L98.3 408.8L98.9 407.6L99.4 408.9L100 412.4L100.5 418.1L101.1 425.5L101.6 434L102.2 443.2L102.7 452.2L103.3 460.6L103.8 467.7L104.4 473L104.9 476.1L105.5 476.8L106 475.1L106.6 471L107.1 464.9L107.7 457.3L108.2 448.5L108.8 439.3L109.3 430.3L109.9 422.1L110.4 415.3L111 410.4L111.5 407.7L112.1 407.5L112.6 409.7L113.2 414.1L113.7 420.5L114.3 428.4L114.8 437.3L115.4 446.5L115.9 455.3L116.5 463.2L117 469.6L117.6 474.1L118.1 476.3L118.7 476.1L119.2 473.5L119.8 468.7L120.3 462.1L120.9 454L121.4 445.1L122 436L122.5 427.4L123.1 419.8L123.6 413.7L124.2 409.7L124.7 407.9L125.3 408.5L125.8 411.5L126.4 416.6L126.9 423.5L127.5 431.7L128 440.6L128.6 449.6L129.1 458.2L129.7 465.5L130.2 471.3L130.8 475L131.3 476.4L131.9 475.3L132.4 472L133 466.5L133.5 459.3L134.1 450.9L134.6 441.8L135.2 432.8L135.7 424.4L136.3 417.2L136.8 411.7L137.4 408.4L137.9 407.4L138.5 408.8L139 412.6L139.6 418.5L140.1 426L140.7 434.7L141.2 443.9L141.8 453L142.3 461.4L142.9 468.4L143.4 473.6L144 476.5L144.5 477.1L145.1 475.1L145.6 470.9L146.2 464.6L146.7 456.7L147.3 447.8L147.9 438.5L148.4 429.4L149 421.2L149.5 414.4L150.1 409.6L150.6 407.1L151.2 407L151.7 409.4L152.3 414.1L152.8 420.8L153.4 428.9L153.9 438L154.5 447.3L155 456.3L155.6 464.2L156.1 470.6L156.7 474.9L157.2 477L157.8 476.5L158.3 473.7L158.9 468.6L159.4 461.7L160 453.5L160.5 444.4L161.1 435.2L161.6 426.6L162.2 419L162.7 413.1L163.3 409.3L163.8 407.7L164.4 408.6L164.9 411.8L165.5 417.1L166 424.2L166.6 432.5L167.1 441.4L167.7 450.3L168.2 458.6L168.8 465.7L169.3 471.1L169.9 474.5L170.4 475.6L171 474.3L171.5 470.8L172.1 465.2L172.6 458.1L173.2 449.9L173.7 441.1L174.3 432.5L174.8 424.5L175.4 417.8L175.9 412.8L176.5 409.9L177 409.2L177.6 410.9L178.1 414.7L178.7 420.4L179.2 427.7L179.8 435.9L180.3 444.5L180.9 453L181.4 460.7L182 467.1L182.5 471.7L183.1 474.2L183.6 474.5L184.2 472.5L184.7 468.4L185.3 462.4L185.8 455L186.4 446.7L186.9 438L187.5 429.6L188 422.1L188.6 415.9L189.1 411.6L189.7 409.4L190.2 409.5L190.8 411.9L191.3 416.4L191.9 422.7L192.4 430.4L193 439L193.5 447.7L194.1 456.1L194.6 463.5L195.2 469.4L195.7 473.4L196.3 475.2L196.8 474.7L197.4 471.9L197.9 467L198.5 460.3L199 452.3L199.6 443.6L200.1 434.7L200.7 426.4L201.2 419.2L201.8 413.5L202.3 409.9L202.9 408.5L203.4 409.4L204 412.7L204.5 418L205.1 425.1L205.6 433.3L206.2 442.1L206.7 451L207.3 459.2L207.8 466.2L208.4 471.5L208.9 474.7L209.5 475.6L210 474.2L210.6 470.5L211.1 464.9L211.7 457.6L212.2 449.2L212.8 440.4L213.3 431.6L213.9 423.7L214.4 417L215 412.1L215.5 409.3L216.1 408.8L216.6 410.6L217.2 414.7L217.7 420.6L218.3 428.1L218.8 436.5L219.4 445.3L219.9 453.9L220.5 461.6L221 467.9L221.6 472.4L222.1 474.8L222.7 474.9L223.2 472.6L223.8 468.3L224.3 462.1L224.9 454.5L225.4 446L226 437.2L226.5 428.8L227.1 421.3L227.6 415.3L228.2 411.1L228.7 409.1L229.3 409.5L229.8 412.1L230.4 416.8L230.9 423.2L231.5 431.1L232 439.7L232.6 448.5L233.1 456.8L233.7 464.2L234.2 470L234.8 473.8L235.3 475.5L235.9 474.8L236.4 471.8L237 466.7L237.5 459.8L238.1 451.7L238.6 442.8L239.2 433.9L239.7 425.5L240.3 418.3L240.9 412.7L241.4 409.1L242 407.8L242.5 409L243.1 412.4L243.6 418L244.2 425.3L244.7 433.8L245.3 442.9L245.8 452L246.4 460.4L246.9 467.6L247.5 473L248 476.2L248.6 477L249.1 475.4L249.7 471.4L250.2 465.4L250.8 457.7L251.3 448.8L251.9 439.5L252.4 430.3L253 422L253.5 415L254.1 409.9L254.6 407.1L255.2 406.7L255.7 408.8L256.3 413.3L256.8 419.8L257.4 427.8L257.9 436.9L258.5 446.3L259 455.4L259.6 463.6L260.1 470.3L260.7 474.9L261.2 477.3L261.8 477.1L262.3 474.5L262.9 469.7L263.4 462.9L264 454.6L264.5 445.5L265.1 436.1L265.6 427.2L266.2 419.4L266.7 413.1L267.3 409L267.8 407.1L268.4 407.7L268.9 410.7L269.5 415.9L270 422.9L270.6 431.3L271.1 440.3L271.7 449.5L272.2 458.1L272.8 465.6L273.3 471.4L273.9 475.1L274.4 476.5L275 475.5L275.5 472.1L276.1 466.7L276.6 459.5L277.2 451.1L277.7 442.1L278.3 433.1L278.8 424.8L279.4 417.7L279.9 412.3L280.5 409L281 408L281.6 409.4L282.1 413.1L282.7 418.8L283.2 426.2L283.8 434.7L284.3 443.6L284.9 452.5L285.4 460.6L286 467.4L286.5 472.5L287.1 475.4L287.6 476L288.2 474.2L288.7 470.1L289.3 464.1L289.8 456.5L290.4 447.9L290.9 438.8L291.5 430L292 422.1L292.6 415.5L293.1 410.8L293.7 408.2L294.2 408.1L294.8 410.3L295.3 414.8L295.9 421.2L296.4 429L297 437.8L297.5 446.9L298.1 455.7L298.6 463.5L299.2 469.8L299.7 474.2L300.3 476.3L300.8 476L301.4 473.3L301.9 468.4L302.5 461.7L303 453.6L303.6 444.6L304.1 435.5L304.7 426.9L305.2 419.3L305.8 413.4L306.3 409.5L306.9 407.8L307.4 408.6L308 411.7L308.5 416.9L309.1 423.9L309.6 432.2L310.2 441.1L310.7 450.1L311.3 458.5L311.8 465.7L312.4 471.2L312.9 474.7L313.5 475.9L314 474.6L314.6 471.2L315.1 465.6L315.7 458.5L316.2 450.2L316.8 441.4L317.3 432.6L317.9 424.6L318.4 417.8L319 412.7L319.5 409.7L320.1 409L320.6 410.6L321.2 414.4L321.7 420.1L322.3 427.4L322.8 435.6L323.4 444.3L323.9 452.8L324.5 460.5L325 466.9L325.6 471.5L326.1 474.1L326.7 474.4L327.2 472.4L327.8 468.3L328.3 462.4L328.9 455.1L329.4 446.9L330 438.3L330.5 430L331.1 422.6L331.6 416.5L332.2 412.2L332.7 410.1L333.3 410.1L333.8 412.4L334.4 416.8L335 423L335.5 430.5L336.1 438.8L336.6 447.4L337.2 455.6L337.7 462.8L338.3 468.7L338.8 472.6L339.4 474.5L339.9 474L340.5 471.4L341 466.6L341.6 460.1L342.1 452.3L342.7 443.8L343.2 435.1L343.8 426.9L344.3 419.7L344.9 414.1L345.4 410.4L346 408.9L346.5 409.7L347.1 412.9L347.6 418.1L348.2 425L348.7 433.1L349.3 441.9L349.8 450.7L350.4 459L350.9 466.1L351.5 471.5L352 474.8L352.6 475.9L353.1 474.6L353.7 471L354.2 465.4L354.8 458L355.3 449.6L355.9 440.6L356.4 431.7L357 423.5L357.5 416.6L358.1 411.4L358.6 408.4L359.2 407.8L359.7 409.6L360.3 413.7L360.8 419.8L361.4 427.4L361.9 436.1L362.5 445.2L363 454L363.6 462.1L364.1 468.7L364.7 473.5L365.2 476L365.8 476.2L366.3 473.9L366.9 469.4L367.4 463L368 455.2L368.5 446.4L369.1 437.3L369.6 428.6L370.2 420.8L370.7 414.5L371.3 410.2L371.8 408.1L372.4 408.4L372.9 411L373.5 415.9L374 422.5L374.6 430.5L375.1 439.4L375.7 448.4L376.2 456.9L376.8 464.4L377.3 470.4L377.9 474.3L378.4 476L379 475.3L379.5 472.2L380.1 467.1L380.6 460.2L381.2 452L381.7 443.1L382.3 434.1L382.8 425.7L383.4 418.5L383.9 412.8L384.5 409.2L385 408L385.6 409.1L386.1 412.5L386.7 418L387.2 425.2L387.8 433.6L388.3 442.6L388.9 451.6L389.4 460L390 467.1L390.5 472.4L391.1 475.7L391.6 476.6L392.2 475L392.7 471.2L393.3 465.2L393.8 457.7L394.4 449L394.9 439.8L395.5 430.7L396 422.4L396.6 415.5L397.1 410.4L397.7 407.5L398.2 407.1L398.8 409.1L399.3 413.4L399.9 419.8L400.4 427.7L401 436.7L401.5 446L402.1 455.1L402.6 463.3L403.2 470L403.7 474.8L404.3 477.3L404.8 477.2L405.4 474.7L405.9 469.9L406.5 463.2L407 454.9L407.6 445.8L408.1 436.4L408.7 427.3L409.2 419.4L409.8 413L410.3 408.7L410.9 406.7L411.4 407.2L412 410.2L412.5 415.4L413.1 422.4L413.6 430.9L414.2 440L414.7 449.4L415.3 458.1L415.8 465.7L416.4 471.7L416.9 475.5L417.5 477L418 476L418.6 472.6L419.1 467.1L419.7 459.9L420.2 451.4L420.8 442.4L421.3 433.3L421.9 424.9L422.4 417.7L423 412.2L423.5 408.9L424.1 407.9L424.6 409.3L425.2 413L425.7 418.7L426.3 426L426.8 434.5L427.4 443.4L428 452.2L428.5 460.2L429.1 467L429.6 471.9L430.2 474.8L430.7 475.4L431.3 473.6L431.8 469.6L432.4 463.7L432.9 456.3L433.5 448L434 439.2L434.6 430.6L435.1 422.8L435.7 416.4L436.2 411.9L436.8 409.4L437.3 409.2L437.9 411.3L438.4 415.6L439 421.7L439.5 429.3L440.1 437.7L440.6 446.5L441.2 454.9L441.7 462.5L442.3 468.6L442.8 472.9L443.4 475L443.9 474.8L444.5 472.2L445 467.6L445.6 461.2L446.1 453.4L446.7 444.8L447.2 436L447.8 427.6L448.3 420.2L448.9 414.4L449.4 410.4L450 408.7L450.5 409.3L451.1 412.3L451.6 417.3L452.2 424.1L452.7 432.1L453.3 440.9L453.8 449.7L454.4 458.1L454.9 465.3L455.5 470.8L456 474.4L456.6 475.7L457.1 474.6L457.7 471.2L458.2 465.8L458.8 458.7L459.3 450.5L459.9 441.6L460.4 432.8L461 424.6L461.5 417.7L462.1 412.5L462.6 409.3L463.2 408.5L463.7 410L464.3 413.8L464.8 419.6L465.4 426.9L465.9 435.3L466.5 444.1L467 452.8L467.6 460.7L468.1 467.3L468.7 472.1L469.2 474.8L469.8 475.1L470.3 473.2L470.9 469.1L471.4 463.1L472 455.6L472.5 447.2L473.1 438.5L473.6 430L474.2 422.4L474.7 416.2L475.3 411.8L475.8 409.5L476.4 409.6L476.9 411.9L477.5 416.3L478 422.5L478.6 430.1L479.1 438.5L479.7 447.2L480.2 455.5L480.8 462.8L481.3 468.7L481.9 472.7L482.4 474.6L483 474.1L483.5 471.5L484.1 466.8L484.6 460.3L485.2 452.5L485.7 444L486.3 435.4L486.8 427.2L487.4 420L487.9 414.4L488.5 410.7L489 409.2L489.6 410L490.1 413L490.7 418.1L491.2 424.9L491.8 432.9L492.3 441.6L492.9 450.4L493.4 458.6L494 465.7L494.5 471.1L495.1 474.5L495.6 475.7L496.2 474.4L496.7 470.9L497.3 465.4L497.8 458.2L498.4 449.8L498.9 440.8L499.5 431.9L500 423.7L500.6 416.7L501.1 411.5L501.7 408.4L502.2 407.7L502.8 409.3L503.3 413.3L503.9 419.4L504.4 427L505 435.7L505.5 445L506.1 454L506.6 462.2L507.2 469L507.7 474L508.3 476.7L508.8 476.9L509.4 474.8L509.9 470.3L510.5 463.8L511 455.8L511.6 446.8L512.1 437.4L512.7 428.4L513.2 420.3L513.8 413.8L514.3 409.2L514.9 407L515.4 407.2L516 409.9L516.5 414.8L517.1 421.6L517.6 429.9L518.2 439L518.7 448.3L519.3 457.2L519.8 465L520.4 471.2L520.9 475.3L521.5 477" stroke="#0072BD" stroke-width="2.0"/>
<path d="M53.2 475.3L53.8 478.1L54.3 478.4L54.9 476.2L55.4 471.6L56 464.8L56.5 456.5L57.1 447.2L57.6 437.6L58.2 428.2L58.7 419.9L59.3 413.1L59.8 408.3L60.4 406L60.9 406.1L61.5 408.8L62 413.8L62.6 420.8L63.1 429.3L63.7 438.6L64.2 448.2L64.8 457.3L65.3 465.3L65.9 471.7L66.4 476L67 477.9L67.5 477.3L68.1 474.2L68.6 468.8L69.2 461.6L69.7 453L70.3 443.7L70.8 434.3L71.4 425.4L71.9 417.7L72.5 411.8L73 407.9L73.6 406.5L74.1 407.6L74.7 411L75.2 416.7L75.8 424.1L76.3 432.8L76.9 442.1L77.4 451.4L78 460L78.5 467.4L79.1 473L79.6 476.4L80.2 477.4L80.7 475.9L81.3 472.1L81.8 466.1L82.4 458.4L82.9 449.6L83.5 440.3L84 431.1L84.6 422.6L85.1 415.5L85.7 410.3L86.2 407.3L86.8 406.7L87.3 408.6L87.9 412.9L88.4 419.2L89 427.1L89.5 436.1L90.1 445.5L90.6 454.7L91.2 463L91.7 469.8L92.3 474.7L92.8 477.3L93.4 477.5L93.9 475.1L94.5 470.4L95 463.7L95.6 455.5L96.1 446.4L96.7 436.9L97.2 427.7L97.8 419.6L98.3 413L98.9 408.4L99.4 406.3L100 406.6L100.5 409.4L101.1 414.5L101.6 421.6L102.2 430.1L102.7 439.4L103.3 449L103.8 458.1L104.4 466L104.9 472.3L105.5 476.4L106 478.2L106.6 477.4L107.1 474.1L107.7 468.5L108.2 461.1L108.8 452.4L109.3 442.9L109.9 433.4L110.4 424.5L111 416.8L111.5 410.9L112.1 407.2L112.6 406L113.2 407.2L113.7 411L114.3 416.9L114.8 424.5L115.4 433.4L115.9 442.9L116.5 452.3L117 461L117.6 468.3L118.1 473.7L118.7 477L119.2 477.7L119.8 476L120.3 471.9L120.9 465.7L121.4 457.8L122 448.9L122.5 439.5L123.1 430.3L123.6 422L124.2 415.1L124.7 410.1L125.3 407.4L125.8 407.1L126.4 409.2L126.9 413.7L127.5 420.1L128 428.1L128.6 437L129.1 446.2L129.7 455.1L130.2 463.1L130.8 469.5L131.3 474.1L131.9 476.3L132.4 476.2L133 473.6L133.5 468.9L134.1 462.3L134.6 454.3L135.2 445.4L135.7 436.4L136.3 427.7L136.8 420.1L137.4 414.1L137.9 410L138.5 408.2L139 408.7L139.6 411.6L140.1 416.6L140.7 423.4L141.2 431.5L141.8 440.4L142.3 449.3L142.9 457.7L143.4 465L144 470.7L144.5 474.3L145.1 475.7L145.6 474.8L146.2 471.5L146.7 466.2L147.3 459.2L147.9 451L148.4 442.1L149 433.3L149.5 425L150.1 418L150.6 412.6L151.2 409.3L151.7 408.3L152.3 409.7L152.8 413.3L153.4 419L153.9 426.3L154.5 434.7L155 443.6L155.6 452.4L156.1 460.6L156.7 467.4L157.2 472.5L157.8 475.4L158.3 476L158.9 474.2L159.4 470.2L160 464.1L160.5 456.5L161.1 447.9L161.6 438.9L162.2 430L162.7 422L163.3 415.4L163.8 410.6L164.4 408.1L164.9 407.9L165.5 410.1L166 414.6L166.6 421L167.1 428.9L167.7 437.8L168.2 446.9L168.8 455.7L169.3 463.6L169.9 470L170.4 474.4L171 476.5L171.5 476.2L172.1 473.5L172.6 468.6L173.2 461.9L173.7 453.7L174.3 444.7L174.8 435.5L175.4 426.8L175.9 419.1L176.5 413.1L177 409.1L177.6 407.4L178.1 408.1L178.7 411.3L179.2 416.6L179.8 423.6L180.3 432L180.9 441.1L181.4 450.2L182 458.7L182.5 466.1L183.1 471.8L183.6 475.3L184.2 476.6L184.7 475.4L185.3 471.8L185.8 466.2L186.4 458.9L186.9 450.4L187.5 441.4L188 432.4L188.6 424.1L189.1 417.1L189.7 411.8L190.2 408.7L190.8 407.9L191.3 409.5L191.9 413.4L192.4 419.3L193 426.8L193.5 435.4L194.1 444.4L194.6 453.2L195.2 461.2L195.7 467.9L196.3 472.7L196.8 475.4L197.4 475.8L197.9 473.8L198.5 469.5L199 463.4L199.6 455.7L200.1 447.1L200.7 438.1L201.2 429.5L201.8 421.7L202.3 415.3L202.9 410.9L203.4 408.6L204 408.6L204.5 411L205.1 415.6L205.6 422.1L206.2 429.9L206.7 438.6L207.3 447.6L207.8 456.1L208.4 463.7L208.9 469.8L209.5 473.9L210 475.8L210.6 475.4L211.1 472.6L211.7 467.6L212.2 460.8L212.8 452.8L213.3 443.9L213.9 434.9L214.4 426.4L215 418.9L215.5 413.1L216.1 409.3L216.6 407.7L217.2 408.6L217.7 411.9L218.3 417.2L218.8 424.4L219.4 432.8L219.9 441.8L220.5 451L221 459.5L221.6 466.8L222.1 472.4L222.7 475.9L223.2 477L223.8 475.7L224.3 472L224.9 466.1L225.4 458.6L226 449.9L226.5 440.6L227.1 431.3L227.6 422.8L228.2 415.7L228.7 410.3L229.3 407.2L229.8 406.5L230.4 408.3L230.9 412.5L231.5 418.8L232 426.8L232.6 435.8L233.1 445.3L233.7 454.6L234.2 463L234.8 469.9L235.3 475L235.9 477.7L236.4 477.9L237 475.6L237.5 470.9L238.1 464.2L238.6 455.9L239.2 446.7L239.7 437.1L240.3 427.8L240.9 419.6L241.4 412.9L242 408.3L242.5 406L243.1 406.3L243.6 409.1L244.2 414.2L244.7 421.3L245.3 429.8L245.8 439.2L246.4 448.7L246.9 457.9L247.5 465.8L248 472.2L248.6 476.3L249.1 478.1L249.7 477.4L250.2 474.1L250.8 468.6L251.3 461.3L251.9 452.6L252.4 443.2L253 433.7L253.5 424.8L254.1 417.2L254.6 411.2L255.2 407.5L255.7 406.2L256.3 407.4L256.8 411.1L257.4 416.9L257.9 424.4L258.5 433.2L259 442.6L259.6 452L260.1 460.6L260.7 467.9L261.2 473.4L261.8 476.7L262.3 477.6L262.9 475.9L263.4 471.9L264 465.8L264.5 458L265.1 449.2L265.6 439.8L266.2 430.6L266.7 422.2L267.3 415.2L267.8 410.1L268.4 407.2L268.9 406.8L269.5 408.9L270 413.2L270.6 419.7L271.1 427.6L271.7 436.6L272.2 446L272.8 455.1L273.3 463.3L273.9 470L274.4 474.8L275 477.2L275.5 477.2L276.1 474.7L276.6 469.9L277.2 463.2L277.7 455L278.3 445.8L278.8 436.4L279.4 427.3L279.9 419.3L280.5 412.9L281 408.5L281.6 406.4L282.1 406.9L282.7 409.8L283.2 415L283.8 422.1L284.3 430.6L284.9 440L285.4 449.5L286 458.5L286.5 466.3L287.1 472.5L287.6 476.6L288.2 478.2L288.7 477.3L289.3 473.9L289.8 468.2L290.4 460.7L290.9 451.9L291.5 442.4L292 432.8L292.6 423.9L293.1 416.3L293.7 410.4L294.2 406.8L294.8 405.6L295.3 407L295.9 410.9L296.4 416.9L297 424.8L297.5 433.8L298.1 443.4L298.6 453L299.2 461.8L299.7 469.2L300.3 474.6L300.8 477.8L301.4 478.5L301.9 476.6L302.5 472.3L303 465.9L303.6 457.8L304.1 448.6L304.7 438.9L305.2 429.5L305.8 421L306.3 413.9L306.9 408.9L307.4 406.2L308 406L308.5 408.3L309.1 413L309.6 419.8L310.2 428.1L310.7 437.3L311.3 446.9L311.8 456.1L312.4 464.3L312.9 470.9L313.5 475.4L314 477.7L314.6 477.4L315.1 474.6L315.7 469.6L316.2 462.6L316.8 454.2L317.3 445L317.9 435.6L318.4 426.7L319 418.9L319.5 412.8L320.1 408.7L320.6 406.9L321.2 407.7L321.7 410.8L322.3 416.2L322.8 423.3L323.4 431.7L323.9 440.8L324.5 450L325 458.6L325.6 466L326.1 471.7L326.7 475.3L327.2 476.6L327.8 475.5L328.3 472L328.9 466.4L329.4 459.1L330 450.7L330.5 441.6L331.1 432.6L331.6 424.3L332.2 417.2L332.7 411.9L333.3 408.7L333.8 407.9L334.4 409.4L335 413.3L335.5 419.1L336.1 426.6L336.6 435.1L337.2 444.1L337.7 453L338.3 461.1L338.8 467.8L339.4 472.8L339.9 475.6L340.5 476L341 474.1L341.6 469.9L342.1 463.7L342.7 456.1L343.2 447.4L343.8 438.4L344.3 429.6L344.9 421.6L345.4 415.1L346 410.5L346.5 408.1L347.1 408.1L347.6 410.4L348.2 415L348.7 421.5L349.3 429.5L349.8 438.3L350.4 447.4L350.9 456.2L351.5 463.9L352 470.2L352.6 474.5L353.1 476.5L353.7 476L354.2 473.2L354.8 468.2L355.3 461.4L355.9 453.2L356.4 444.2L357 435L357.5 426.3L358.1 418.7L358.6 412.8L359.2 408.9L359.7 407.3L360.3 408.2L360.8 411.4L361.4 416.8L361.9 424L362.5 432.5L363 441.6L363.6 450.7L364.1 459.3L364.7 466.6L365.2 472.2L365.8 475.7L366.3 476.8L366.9 475.5L367.4 471.8L368 466.1L368.5 458.6L369.1 450L369.6 440.8L370.2 431.8L370.7 423.4L371.3 416.4L371.8 411.2L372.4 408.2L372.9 407.5L373.5 409.3L374 413.4L374.6 419.4L375.1 427.1L375.7 435.8L376.2 444.9L376.8 453.8L377.3 461.8L377.9 468.5L378.4 473.3L379 475.8L379.5 476L380.1 473.8L380.6 469.4L381.2 463.1L381.7 455.3L382.3 446.6L382.8 437.6L383.4 429L383.9 421.2L384.5 415L385 410.6L385.6 408.5L386.1 408.7L386.7 411.3L387.2 416L387.8 422.5L388.3 430.4L388.9 439.1L389.4 448L390 456.5L390.5 463.9L391.1 469.8L391.6 473.8L392.2 475.5L392.7 474.8L393.3 471.9L393.8 466.9L394.4 460.1L394.9 452.1L395.5 443.4L396 434.5L396.6 426.2L397.1 419.1L397.7 413.5L398.2 409.9L398.8 408.6L399.3 409.6L399.9 412.9L400.4 418.3L401 425.3L401.5 433.5L402.1 442.3L402.6 451.2L403.2 459.4L403.7 466.4L404.3 471.7L404.8 474.9L405.4 475.8L405.9 474.4L406.5 470.7L407 464.9L407.6 457.6L408.1 449.1L408.7 440.1L409.2 431.2L409.8 423.1L410.3 416.3L410.9 411.2L411.4 408.3L412 407.8L412.5 409.7L413.1 413.9L413.6 420L414.2 427.7L414.7 436.5L415.3 445.7L415.8 454.6L416.4 462.7L416.9 469.4L417.5 474.1L418 476.7L418.6 476.7L419.1 474.4L419.7 469.8L420.2 463.2L420.8 455.1L421.3 446L421.9 436.7L422.4 427.7L423 419.7L423.5 413.3L424.1 408.8L424.6 406.7L425.2 407.1L425.7 409.9L426.3 415L426.8 422.1L427.4 430.5L428 439.7L428.5 449.2L429.1 458.1L429.6 465.9L430.2 472.1L430.7 476.1L431.3 477.8L431.8 476.9L432.4 473.6L432.9 468.1L433.5 460.7L434 452L434.6 442.7L435.1 433.2L435.7 424.4L436.2 416.9L436.8 411.1L437.3 407.5L437.9 406.3L438.4 407.6L439 411.4L439.5 417.3L440.1 424.9L440.6 433.7L441.2 443.2L441.7 452.5L442.3 461L442.8 468.3L443.4 473.7L443.9 476.8L444.5 477.5L445 475.8L445.6 471.6L446.1 465.4L446.7 457.6L447.2 448.6L447.8 439.3L448.3 430.1L448.9 421.8L449.4 414.9L450 409.9L450.5 407.2L451.1 407L451.6 409.2L452.2 413.7L452.7 420.2L453.3 428.2L453.8 437.2L454.4 446.5L454.9 455.5L455.5 463.6L456 470.1L456.6 474.7L457.1 477L457.7 476.8L458.2 474.2L458.8 469.3L459.3 462.6L459.9 454.3L460.4 445.2L461 435.9L461.5 427L462.1 419.2L462.6 413L463.2 408.7L463.7 406.9L464.3 407.5L464.8 410.5L465.4 415.7L465.9 422.8L466.5 431.3L467 440.5L467.6 449.9L468.1 458.7L468.7 466.4L469.2 472.3L469.8 476.2L470.3 477.6L470.9 476.6L471.4 473.1L472 467.5L472.5 460L473.1 451.3L473.6 441.9L474.2 432.5L474.7 423.7L475.3 416.2L475.8 410.5L476.4 407L476.9 406L477.5 407.5L478 411.4L478.6 417.5L479.1 425.4L479.7 434.4L480.2 444L480.8 453.4L481.3 462.1L481.9 469.4L482.4 474.8L483 477.9L483.5 478.5L484.1 476.5L484.6 472.1L485.2 465.5L485.7 457.3L486.3 448.1L486.8 438.4L487.4 428.9L487.9 420.3L488.5 413.3L489 408.3L489.6 405.7L490.1 405.6L490.7 408.1L491.2 412.9L491.8 419.9L492.3 428.3L492.9 437.8L493.4 447.5L494 456.9L494.5 465.2L495.1 471.8L495.6 476.4L496.2 478.6L496.7 478.2L497.3 475.2L497.8 469.9L498.4 462.7L498.9 454.1L499.5 444.6L500 434.9L500.6 425.8L501.1 417.8L501.7 411.5L502.2 407.4L502.8 405.8L503.3 406.7L503.9 410L504.4 415.6L505 423.1L505.5 431.8L506.1 441.3L506.6 450.8L507.2 459.6L507.7 467.2L508.3 473L508.8 476.6L509.4 477.8L509.9 476.5L510.5 472.7L511 466.8L511.6 459.2L512.1 450.4L512.7 441.1L513.2 431.8L513.8 423.3L514.3 416.1L514.9 410.8L515.4 407.7L516 406.9L516.5 408.7L517.1 412.8L517.6 418.9L518.2 426.6L518.7 435.4L519.3 444.7L519.8 453.7L520.4 461.9L520.9 468.7L521.5 473.6" stroke="#4DBEEE" stroke-width="2.6"/>
<path d="M53.2 409.1L53.8 406.8L54.3 407L54.9 409.7L55.4 414.6L56 421.4L56.5 429.7L57.1 438.8L57.6 448.1L58.2 457L58.7 464.9L59.3 471.1L59.8 475.3L60.4 477.1L60.9 476.5L61.5 473.5L62 468.3L62.6 461.2L63.1 452.8L63.7 443.6L64.2 434.3L64.8 425.6L65.3 418L65.9 412.1L66.4 408.3L67 406.9L67.5 407.9L68.1 411.3L68.6 416.9L69.2 424.3L69.7 432.9L70.3 442.2L70.8 451.4L71.4 460.1L71.9 467.4L72.5 473L73 476.4L73.6 477.4L74.1 476L74.7 472.1L75.2 466.1L75.8 458.4L76.3 449.6L76.9 440.2L77.4 431L78 422.5L78.5 415.3L79.1 410.1L79.6 407.1L80.2 406.5L80.7 408.5L81.3 412.8L81.8 419.1L82.4 427.1L82.9 436.1L83.5 445.6L84 454.8L84.6 463.1L85.1 469.9L85.7 474.8L86.2 477.4L86.8 477.4L87.3 475L87.9 470.3L88.4 463.6L89 455.4L89.5 446.3L90.1 436.8L90.6 427.8L91.2 419.8L91.7 413.3L92.3 408.9L92.8 406.8L93.4 407.2L93.9 410L94.5 415.1L95 422.1L95.6 430.4L96.1 439.6L96.7 448.9L97.2 457.6L97.8 465.3L98.3 471.3L98.9 475.3L99.4 476.9L100 476L100.5 472.8L101.1 467.4L101.6 460.3L102.2 451.9L102.7 442.8L103.3 433.8L103.8 425.3L104.4 418L104.9 412.5L105.5 409L106 407.9L106.6 409.2L107.1 412.7L107.7 418.3L108.2 425.6L108.8 434L109.3 442.9L109.9 451.8L110.4 459.9L111 466.8L111.5 471.9L112.1 474.9L112.6 475.6L113.2 474L113.7 470.1L114.3 464.2L114.8 456.9L115.4 448.4L115.9 439.6L116.5 430.9L117 423.1L117.6 416.5L118.1 411.8L118.7 409.2L119.2 408.9L119.8 410.9L120.3 415.1L120.9 421.2L121.4 428.7L122 437.3L122.5 446.1L123.1 454.7L123.6 462.4L124.2 468.6L124.7 473L125.3 475.3L125.8 475.2L126.4 472.8L126.9 468.2L127.5 461.8L128 454L128.6 445.3L129.1 436.4L129.7 427.8L130.2 420.3L130.8 414.2L131.3 410.1L131.9 408.2L132.4 408.7L133 411.6L133.5 416.6L134.1 423.4L134.6 431.5L135.2 440.4L135.7 449.4L136.3 458L136.8 465.4L137.4 471.2L137.9 475L138.5 476.5L139 475.5L139.6 472.2L140.1 466.8L140.7 459.6L141.2 451.2L141.8 442.1L142.3 432.9L142.9 424.4L143.4 417.2L144 411.6L144.5 408.2L145.1 407.2L145.6 408.6L146.2 412.4L146.7 418.2L147.3 425.8L147.9 434.5L148.4 443.7L149 452.8L149.5 461.2L150.1 468.2L150.6 473.4L151.2 476.4L151.7 477L152.3 475.1L152.8 470.9L153.4 464.6L153.9 456.8L154.5 448L155 438.7L155.6 429.7L156.1 421.5L156.7 414.8L157.2 410.1L157.8 407.5L158.3 407.4L158.9 409.7L159.4 414.3L160 420.9L160.5 428.9L161.1 437.8L161.6 447L162.2 455.9L162.7 463.8L163.3 470.1L163.8 474.5L164.4 476.5L164.9 476.2L165.5 473.5L166 468.5L166.6 461.7L167.1 453.6L167.7 444.6L168.2 435.5L168.8 426.8L169.3 419.2L169.9 413.2L170.4 409.3L171 407.6L171.5 408.4L172.1 411.5L172.6 416.8L173.2 423.8L173.7 432.1L174.3 441.1L174.8 450.2L175.4 458.8L175.9 466.1L176.5 471.8L177 475.4L177.6 476.6L178.1 475.5L178.7 471.9L179.2 466.3L179.8 459L180.3 450.4L180.9 441.3L181.4 432.2L182 423.7L182.5 416.6L183.1 411.2L183.6 407.9L184.2 407.1L184.7 408.7L185.3 412.6L185.8 418.7L186.4 426.4L186.9 435.2L187.5 444.5L188 453.7L188.6 462.1L189.1 469.1L189.7 474.2L190.2 477.1L190.8 477.5L191.3 475.5L191.9 471L192.4 464.6L193 456.5L193.5 447.3L194.1 437.8L194.6 428.6L195.2 420.2L195.7 413.4L196.3 408.6L196.8 406.1L197.4 406.1L197.9 408.7L198.5 413.6L199 420.5L199.6 429L200.1 438.4L200.7 448.1L201.2 457.3L201.8 465.6L202.3 472.1L202.9 476.6L203.4 478.6L204 478.1L204.5 475L205.1 469.6L205.6 462.3L206.2 453.5L206.7 444L207.3 434.2L207.8 425.1L208.4 417.1L208.9 410.9L209.5 406.9L210 405.3L210.6 406.4L211.1 409.9L211.7 415.7L212.2 423.3L212.8 432.3L213.3 441.9L213.9 451.5L214.4 460.5L215 468.1L215.5 473.9L216.1 477.4L216.6 478.5L217.2 477L217.7 473L218.3 466.9L218.8 459L219.4 450L219.9 440.5L220.5 431L221 422.4L221.6 415.2L222.1 409.8L222.7 406.8L223.2 406.2L223.8 408.2L224.3 412.5L224.9 418.9L225.4 426.8L226 435.9L226.5 445.3L227.1 454.5L227.6 462.8L228.2 469.6L228.7 474.5L229.3 477.1L229.8 477.2L230.4 474.9L230.9 470.2L231.5 463.6L232 455.5L232.6 446.5L233.1 437.1L233.7 428.2L234.2 420.2L234.8 413.7L235.3 409.3L235.9 407.1L236.4 407.4L237 410.2L237.5 415.1L238.1 422L238.6 430.2L239.2 439.3L239.7 448.6L240.3 457.4L240.9 465.2L241.4 471.3L242 475.4L242.5 477.1L243.1 476.4L243.6 473.2L244.2 467.9L244.7 460.8L245.3 452.3L245.8 443.1L246.4 433.8L246.9 425.1L247.5 417.6L248 411.8L248.6 408.1L249.1 406.8L249.7 407.9L250.2 411.5L250.8 417.2L251.3 424.7L251.9 433.4L252.4 442.7L253 452L253.5 460.6L254.1 467.9L254.6 473.4L255.2 476.7L255.7 477.5L256.3 475.9L256.8 471.9L257.4 465.8L257.9 458L258.5 449.1L259 439.7L259.6 430.5L260.1 422L260.7 415L261.2 409.9L261.8 407L262.3 406.6L262.9 408.7L263.4 413.2L264 419.6L264.5 427.7L265.1 436.7L265.6 446.1L266.2 455.2L266.7 463.4L267.3 470L267.8 474.7L268.4 477.1L268.9 477L269.5 474.5L270 469.7L270.6 462.9L271.1 454.7L271.7 445.7L272.2 436.4L272.8 427.5L273.3 419.7L273.9 413.5L274.4 409.2L275 407.4L275.5 407.9L276.1 410.8L276.6 416L277.2 422.9L277.7 431.1L278.3 440.1L278.8 449.2L279.4 457.8L279.9 465.2L280.5 471L281 474.7L281.6 476.2L282.1 475.2L282.7 471.9L283.2 466.5L283.8 459.5L284.3 451.2L284.9 442.3L285.4 433.4L286 425.2L286.5 418.1L287.1 412.8L287.6 409.5L288.2 408.5L288.7 409.8L289.3 413.4L289.8 419.1L290.4 426.3L290.9 434.6L291.5 443.4L292 452.1L292.6 460.1L293.1 466.8L293.7 471.8L294.2 474.7L294.8 475.3L295.3 473.6L295.9 469.6L296.4 463.8L297 456.3L297.5 447.9L298.1 439.1L298.6 430.5L299.2 422.7L299.7 416.2L300.3 411.5L300.8 409L301.4 408.8L301.9 410.9L302.5 415.2L303 421.4L303.6 429.1L304.1 437.7L304.7 446.6L305.2 455.2L305.8 463L306.3 469.2L306.9 473.6L307.4 475.8L308 475.6L308.5 473L309.1 468.3L309.6 461.7L310.2 453.7L310.7 444.8L311.3 435.8L311.8 427.1L312.4 419.5L312.9 413.5L313.5 409.4L314 407.7L314.6 408.3L315.1 411.3L315.7 416.5L316.2 423.5L316.8 431.8L317.3 440.9L317.9 450L318.4 458.7L319 466.1L319.5 471.9L320.1 475.6L320.6 477L321.2 475.8L321.7 472.3L322.3 466.7L322.8 459.4L323.4 450.8L323.9 441.5L324.5 432.4L325 423.8L325.6 416.6L326.1 411.2L326.7 407.9L327.2 407L327.8 408.6L328.3 412.5L328.9 418.5L329.4 426.2L330 435L330.5 444.2L331.1 453.4L331.6 461.7L332.2 468.6L332.7 473.7L333.3 476.5L333.8 476.9L334.4 474.9L335 470.5L335.5 464.2L336.1 456.3L336.6 447.4L337.2 438.2L337.7 429.2L338.3 421.2L338.8 414.6L339.4 410L339.9 407.6L340.5 407.6L341 410.1L341.6 414.8L342.1 421.4L342.7 429.4L343.2 438.3L343.8 447.5L344.3 456.3L344.9 464.1L345.4 470.3L346 474.6L346.5 476.5L347.1 476.1L347.6 473.2L348.2 468.2L348.7 461.3L349.3 453.1L349.8 444.1L350.4 435L350.9 426.3L351.5 418.8L352 412.8L352.6 409L353.1 407.4L353.7 408.3L354.2 411.5L354.8 416.9L355.3 424.1L355.9 432.5L356.4 441.7L357 450.8L357.5 459.4L358.1 466.8L358.6 472.4L359.2 475.9L359.7 477.1L360.3 475.8L360.8 472.1L361.4 466.3L361.9 458.8L362.5 450.1L363 440.8L363.6 431.5L364.1 423L364.7 415.8L365.2 410.4L365.8 407.2L366.3 406.4L366.9 408.2L367.4 412.4L368 418.6L368.5 426.5L369.1 435.6L369.6 445.1L370.2 454.4L370.7 462.9L371.3 470L371.8 475.1L372.4 477.9L372.9 478.1L373.5 475.9L374 471.2L374.6 464.5L375.1 456.2L375.7 446.9L376.2 437.2L376.8 427.9L377.3 419.5L377.9 412.7L378.4 407.9L379 405.6L379.5 405.8L380.1 408.5L380.6 413.7L381.2 420.8L381.7 429.4L382.3 438.9L382.8 448.7L383.4 457.9L383.9 466.1L384.5 472.6L385 476.9L385.6 478.7L386.1 478L386.7 474.8L387.2 469.3L387.8 461.8L388.3 453L388.9 443.4L389.4 433.8L390 424.7L390.5 416.9L391.1 410.8L391.6 407L392.2 405.6L392.7 406.8L393.3 410.4L393.8 416.3L394.4 424L394.9 432.9L395.5 442.4L396 451.9L396.6 460.7L397.1 468.1L397.7 473.7L398.2 477.1L398.8 477.9L399.3 476.3L399.9 472.3L400.4 466.1L401 458.3L401.5 449.4L402.1 440L402.6 430.7L403.2 422.3L403.7 415.2L404.3 410.1L404.8 407.2L405.4 406.8L405.9 408.8L406.5 413.2L407 419.6L407.6 427.5L408.1 436.5L408.7 445.8L409.2 454.8L409.8 463L410.3 469.6L410.9 474.3L411.4 476.8L412 476.8L412.5 474.4L413.1 469.7L413.6 463L414.2 454.9L414.7 445.9L415.3 436.7L415.8 427.8L416.4 419.9L416.9 413.5L417.5 409.2L418 407.2L418.6 407.6L419.1 410.4L419.7 415.5L420.2 422.4L420.8 430.7L421.3 439.8L421.9 449.1L422.4 457.9L423 465.6L423.5 471.6L424.1 475.6L424.6 477.2L425.2 476.3L425.7 473.1L426.3 467.6L426.8 460.4L427.4 451.8L428 442.6L428.5 433.3L429.1 424.6L429.6 417.1L430.2 411.4L430.7 407.8L431.3 406.7L431.8 408L432.4 411.7L432.9 417.5L433.5 425.1L434 433.9L434.6 443.2L435.1 452.5L435.7 461L436.2 468.2L436.8 473.6L437.3 476.8L437.9 477.5L438.4 475.7L439 471.5L439.5 465.3L440.1 457.5L440.6 448.6L441.2 439.2L441.7 430L442.3 421.7L442.8 414.9L443.4 409.9L443.9 407.2L444.5 407L445 409.2L445.6 413.8L446.1 420.3L446.7 428.3L447.2 437.3L447.8 446.6L448.3 455.5L448.9 463.5L449.4 469.9L450 474.4L450.5 476.6L451.1 476.4L451.6 473.7L452.2 468.9L452.7 462.1L453.3 454L453.8 445.1L454.4 436L454.9 427.3L455.5 419.7L456 413.7L456.6 409.7L457.1 408L457.7 408.7L458.2 411.7L458.8 416.8L459.3 423.7L459.9 431.8L460.4 440.7L461 449.6L461.5 457.9L462.1 465.2L462.6 470.8L463.2 474.3L463.7 475.6L464.3 474.6L464.8 471.2L465.4 465.8L465.9 458.8L466.5 450.6L467 441.8L467.6 433.1L468.1 424.9L468.7 418L469.2 412.8L469.8 409.6L470.3 408.7L470.9 410.2L471.4 413.9L472 419.5L472.5 426.8L473.1 435.1L473.6 443.9L474.2 452.6L474.7 460.5L475.3 467.2L475.8 472.1L476.4 474.9L476.9 475.4L477.5 473.6L478 469.5L478.6 463.5L479.1 456L479.7 447.5L480.2 438.6L480.8 429.9L481.3 422L481.9 415.6L482.4 411L483 408.5L483.5 408.4L484.1 410.7L484.6 415.1L485.2 421.5L485.7 429.4L486.3 438.1L486.8 447.2L487.4 455.9L487.9 463.7L488.5 470L489 474.3L489.6 476.4L490.1 476L490.7 473.3L491.2 468.4L491.8 461.6L492.3 453.4L492.9 444.4L493.4 435.2L494 426.4L494.5 418.8L495.1 412.8L495.6 408.8L496.2 407.1L496.7 407.9L497.3 411.1L497.8 416.5L498.4 423.7L498.9 432.2L499.5 441.4L500 450.6L500.6 459.3L501.1 466.7L501.7 472.4L502.2 476L502.8 477.2L503.3 475.9L503.9 472.3L504.4 466.5L505 459L505.5 450.3L506.1 441L506.6 431.8L507.2 423.4L507.7 416.2L508.3 410.9L508.8 407.7L509.4 407L509.9 408.7L510.5 412.8L511 418.9L511.6 426.7L512.1 435.5L512.7 444.7L513.2 453.8L513.8 462L514.3 468.8L514.9 473.8L515.4 476.5L516 476.7L516.5 474.6L517.1 470.1L517.6 463.7L518.2 455.8L518.7 446.9L519.3 437.7L519.8 428.8L520.4 420.8L520.9 414.4L521.5 409.8" stroke="#0072BD" stroke-width="2.6"/>
</g>
<path d="M53.2 31.0 V153.0 H521.5" fill="none" stroke="#262626" stroke-width="2.2"/>
<line x1="53.2" y1="153.0" x2="53.2" y2="148.5" stroke="#262626" stroke-width="2"/>
<line x1="131.2" y1="153.0" x2="131.2" y2="148.5" stroke="#262626" stroke-width="2"/>
<line x1="209.3" y1="153.0" x2="209.3" y2="148.5" stroke="#262626" stroke-width="2"/>
<line x1="287.4" y1="153.0" x2="287.4" y2="148.5" stroke="#262626" stroke-width="2"/>
<line x1="365.4" y1="153.0" x2="365.4" y2="148.5" stroke="#262626" stroke-width="2"/>
<line x1="443.4" y1="153.0" x2="443.4" y2="148.5" stroke="#262626" stroke-width="2"/>
<line x1="521.5" y1="153.0" x2="521.5" y2="148.5" stroke="#262626" stroke-width="2"/>
<line x1="53.2" y1="137.6" x2="57.7" y2="137.6" stroke="#262626" stroke-width="2"/>
<line x1="53.2" y1="107.1" x2="57.7" y2="107.1" stroke="#262626" stroke-width="2"/>
<line x1="53.2" y1="76.6" x2="57.7" y2="76.6" stroke="#262626" stroke-width="2"/>
<line x1="53.2" y1="46.1" x2="57.7" y2="46.1" stroke="#262626" stroke-width="2"/>
<path d="M53.2 210.0 V320.2 H521.5" fill="none" stroke="#262626" stroke-width="2.2"/>
<line x1="53.2" y1="320.2" x2="53.2" y2="315.7" stroke="#262626" stroke-width="2"/>
<line x1="131.2" y1="320.2" x2="131.2" y2="315.7" stroke="#262626" stroke-width="2"/>
<line x1="209.3" y1="320.2" x2="209.3" y2="315.7" stroke="#262626" stroke-width="2"/>
<line x1="287.4" y1="320.2" x2="287.4" y2="315.7" stroke="#262626" stroke-width="2"/>
<line x1="365.4" y1="320.2" x2="365.4" y2="315.7" stroke="#262626" stroke-width="2"/>
<line x1="443.4" y1="320.2" x2="443.4" y2="315.7" stroke="#262626" stroke-width="2"/>
<line x1="521.5" y1="320.2" x2="521.5" y2="315.7" stroke="#262626" stroke-width="2"/>
<line x1="53.2" y1="320.2" x2="57.7" y2="320.2" stroke="#262626" stroke-width="2"/>
<line x1="53.2" y1="276.2" x2="57.7" y2="276.2" stroke="#262626" stroke-width="2"/>
<line x1="53.2" y1="232.2" x2="57.7" y2="232.2" stroke="#262626" stroke-width="2"/>
<path d="M53.2 386.7 V497.4 H521.5" fill="none" stroke="#262626" stroke-width="2.2"/>
<line x1="53.2" y1="497.4" x2="53.2" y2="492.9" stroke="#262626" stroke-width="2"/>
<line x1="131.2" y1="497.4" x2="131.2" y2="492.9" stroke="#262626" stroke-width="2"/>
<line x1="209.3" y1="497.4" x2="209.3" y2="492.9" stroke="#262626" stroke-width="2"/>
<line x1="287.4" y1="497.4" x2="287.4" y2="492.9" stroke="#262626" stroke-width="2"/>
<line x1="365.4" y1="497.4" x2="365.4" y2="492.9" stroke="#262626" stroke-width="2"/>
<line x1="443.4" y1="497.4" x2="443.4" y2="492.9" stroke="#262626" stroke-width="2"/>
<line x1="521.5" y1="497.4" x2="521.5" y2="492.9" stroke="#262626" stroke-width="2"/>
<line x1="53.2" y1="460.5" x2="57.7" y2="460.5" stroke="#262626" stroke-width="2"/>
<line x1="53.2" y1="386.7" x2="57.7" y2="386.7" stroke="#262626" stroke-width="2"/>
<g font-family="Liberation Sans, sans-serif" fill="#262626">
<text x="50.0" y="144.6" font-size="17.5" text-anchor="end" >2</text>
<text x="50.0" y="114.1" font-size="17.5" text-anchor="end" >2.2</text>
<text x="50.0" y="83.6" font-size="17.5" text-anchor="end" >2.4</text>
<text x="50.0" y="53.1" font-size="17.5" text-anchor="end" >2.6</text>
<text x="50.0" y="327.2" font-size="17.5" text-anchor="end" >0</text>
<text x="50.0" y="283.2" font-size="17.5" text-anchor="end" >1</text>
<text x="50.0" y="239.2" font-size="17.5" text-anchor="end" >2</text>
<text x="50.0" y="467.5" font-size="17.5" text-anchor="end" >2</text>
<text x="50.0" y="393.7" font-size="17.5" text-anchor="end" >2.2</text>
<text x="53.6" y="174.2" font-size="17.5" text-anchor="middle" >0</text>
<text x="131.8" y="174.2" font-size="17.5" text-anchor="middle" >0.1</text>
<text x="209.9" y="174.2" font-size="17.5" text-anchor="middle" >0.2</text>
<text x="288.1" y="174.2" font-size="17.5" text-anchor="middle" >0.3</text>
<text x="366.2" y="174.2" font-size="17.5" text-anchor="middle" >0.4</text>
<text x="444.4" y="174.2" font-size="17.5" text-anchor="middle" >0.5</text>
<text x="522.5" y="174.2" font-size="17.5" text-anchor="middle" >0.6</text>
<text x="53.6" y="342.4" font-size="17.5" text-anchor="middle" >0</text>
<text x="131.8" y="342.4" font-size="17.5" text-anchor="middle" >0.1</text>
<text x="209.9" y="342.4" font-size="17.5" text-anchor="middle" >0.2</text>
<text x="288.1" y="342.4" font-size="17.5" text-anchor="middle" >0.3</text>
<text x="366.2" y="342.4" font-size="17.5" text-anchor="middle" >0.4</text>
<text x="444.4" y="342.4" font-size="17.5" text-anchor="middle" >0.5</text>
<text x="522.5" y="342.4" font-size="17.5" text-anchor="middle" >0.6</text>
<text x="53.6" y="519.8" font-size="17.5" text-anchor="middle" >0</text>
<text x="131.8" y="519.8" font-size="17.5" text-anchor="middle" >0.1</text>
<text x="209.9" y="519.8" font-size="17.5" text-anchor="middle" >0.2</text>
<text x="288.1" y="519.8" font-size="17.5" text-anchor="middle" >0.3</text>
<text x="366.2" y="519.8" font-size="17.5" text-anchor="middle" >0.4</text>
<text x="444.4" y="519.8" font-size="17.5" text-anchor="middle" >0.5</text>
<text x="522.5" y="519.8" font-size="17.5" text-anchor="middle" >0.6</text>
<text x="0" y="0" font-size="17.8" transform="translate(19.6 151.2) rotate(-90)" textLength="117.2" lengthAdjust="spacingAndGlyphs">Set-1 SMs [kV]</text>
<text x="0" y="0" font-size="17.8" transform="translate(18.6 306.7) rotate(-90)" textLength="74.7" lengthAdjust="spacingAndGlyphs">RSM [kV]</text>
<text x="0" y="0" font-size="17.8" transform="translate(19.6 508.4) rotate(-90)" textLength="144.0" lengthAdjust="spacingAndGlyphs">Set-2 &amp;3 SMs [kV]</text>
<text x="288.4" y="541.0" font-size="17.5" text-anchor="middle" >Time (s)</text>
</g>
<line x1="65.2" y1="22.9" x2="200.0" y2="22.9" stroke="#444444" stroke-width="1.8"/>
<path d="M60.2 22.9L66.5 19.5L66.5 26.3ZM205.0 22.9L198.7 19.5L198.7 26.3Z" fill="#444444"/>
<text x="94.3" y="16.8" font-size="14.6" font-family="Liberation Sans, sans-serif" fill="#222" stroke="#222" stroke-width="0.12" textLength="75.3" lengthAdjust="spacingAndGlyphs">No SM fails</text>
<line x1="220.3" y1="22.9" x2="355.0" y2="22.9" stroke="#444444" stroke-width="1.8"/>
<path d="M215.3 22.9L221.6 19.5L221.6 26.3ZM360.0 22.9L353.7 19.5L353.7 26.3Z" fill="#444444"/>
<text x="222.3" y="16.8" font-size="14.6" font-family="Liberation Sans, sans-serif" fill="#222" stroke="#222" stroke-width="0.12" textLength="130.9" lengthAdjust="spacingAndGlyphs">One SM fail in Set-1</text>
<line x1="376.8" y1="22.9" x2="511.9" y2="22.9" stroke="#444444" stroke-width="1.8"/>
<path d="M371.8 22.9L378.1 19.5L378.1 26.3ZM516.9 22.9L510.6 19.5L510.6 26.3Z" fill="#444444"/>
<text x="375.5" y="16.8" font-size="14.6" font-family="Liberation Sans, sans-serif" fill="#222" stroke="#222" stroke-width="0.12" textLength="136.9" lengthAdjust="spacingAndGlyphs">Two SM fails in Set-1</text>
<line x1="220.9" y1="212.6" x2="355.0" y2="212.6" stroke="#444444" stroke-width="1.8"/>
<path d="M215.9 212.6L222.2 209.2L222.2 216.0ZM360.0 212.6L353.7 209.2L353.7 216.0Z" fill="#444444"/>
<text x="224.3" y="206.6" font-size="14.6" font-family="Liberation Sans, sans-serif" fill="#222" stroke="#222" stroke-width="0.12" textLength="126.9" lengthAdjust="spacingAndGlyphs">One RSM activated</text>
<line x1="378.0" y1="212.6" x2="512.7" y2="212.6" stroke="#444444" stroke-width="1.8"/>
<path d="M373.0 212.6L379.3 209.2L379.3 216.0ZM517.7 212.6L511.4 209.2L511.4 216.0Z" fill="#444444"/>
<text x="382.2" y="206.6" font-size="14.6" font-family="Liberation Sans, sans-serif" fill="#222" stroke="#222" stroke-width="0.12" textLength="126.2" lengthAdjust="spacingAndGlyphs">Two RSM activated</text>
</svg></body></html>
